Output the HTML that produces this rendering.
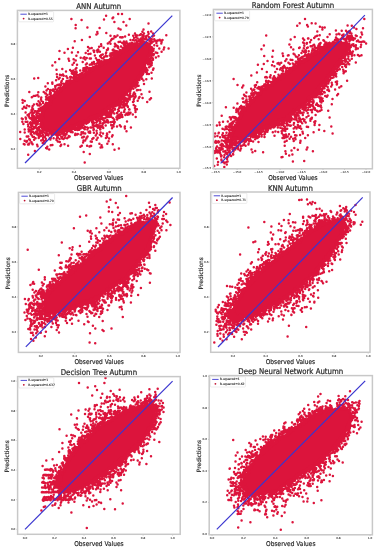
<!DOCTYPE html>
<html><head><meta charset="utf-8"><style>
html,body{margin:0;padding:0;background:#fff;width:379px;height:550px;overflow:hidden}
svg{display:block}
text{font-family:'DejaVu Sans','Liberation Sans',sans-serif;fill:#262626}
.t{font-size:7.0px;text-anchor:middle;stroke:#262626;stroke-width:0.18px}
.ax{font-size:5.9px;text-anchor:middle;stroke:#262626;stroke-width:0.15px}
.ay{font-size:5.9px;text-anchor:middle;stroke:#262626;stroke-width:0.15px}
.xl{font-size:2.8px;text-anchor:middle;fill:#333;stroke:#333;stroke-width:0.08px}
.yl{font-size:2.8px;text-anchor:end;fill:#333;stroke:#333;stroke-width:0.08px}
.lg{font-size:3.05px;fill:#222;stroke:#222;stroke-width:0.1px}
.tk{stroke:#888;stroke-width:0.5}
</style></head><body>
<svg width="379" height="550" viewBox="0 0 379 550" xmlns="http://www.w3.org/2000/svg">
<rect width="379" height="550" fill="#fff"/>
<text transform="translate(98.7 8.9) scale(1 1.15)" class="t">ANN Autumn</text>
<line x1="39.3" y1="168.3" x2="39.3" y2="169.5" class="tk"/>
<text x="39.3" y="172.9" class="xl">0.2</text>
<line x1="74.1" y1="168.3" x2="74.1" y2="169.5" class="tk"/>
<text x="74.1" y="172.9" class="xl">0.4</text>
<line x1="108.9" y1="168.3" x2="108.9" y2="169.5" class="tk"/>
<text x="108.9" y="172.9" class="xl">0.6</text>
<line x1="143.7" y1="168.3" x2="143.7" y2="169.5" class="tk"/>
<text x="143.7" y="172.9" class="xl">0.8</text>
<line x1="178.5" y1="168.3" x2="178.5" y2="169.5" class="tk"/>
<text x="178.5" y="172.9" class="xl">1.0</text>
<line x1="16.2" y1="149" x2="17.4" y2="149" class="tk"/>
<text x="15.2" y="149.9" class="yl">0.2</text>
<line x1="16.2" y1="114" x2="17.4" y2="114" class="tk"/>
<text x="15.2" y="114.9" class="yl">0.4</text>
<line x1="16.2" y1="79" x2="17.4" y2="79" class="tk"/>
<text x="15.2" y="79.9" class="yl">0.6</text>
<line x1="16.2" y1="44" x2="17.4" y2="44" class="tk"/>
<text x="15.2" y="44.9" class="yl">0.8</text>
<text transform="translate(98.7 179.5) scale(1 1.12)" class="ax">Observed Values</text>
<text transform="translate(8.7 90.9) rotate(-90)" class="ay">Predictions</text>
<path d="M149 44.5 145.3 41 144.3 41 139.5 44 131 45 119 51.8 114 55.8 109.8 57.8 107 60.3 103 61.5 101.3 63 99 63.8 96.8 66 91.8 68 85.8 72.5 84 73 81 75.8 78.3 76.5 75.5 78.5 70.3 80.5 68 82.5 65.8 83.3 56 92.3 53 96.3 51.3 97.3 48.3 103.5 42 110 40.5 113 41 117.5 40 123.8 41.3 125.8 41.3 128.8 42.8 130.3 44.8 131 45.8 132.5 47 131.5 48.3 131.5 52.3 133.3 56.3 132.5 59.3 133.8 61.8 133.5 66.5 131.8 68.3 130 71 129.3 73 127.3 76 127 79.3 124.8 85.3 123 91.8 118.3 94 118 99.3 115.5 101.5 115.5 103.3 112.5 107.5 111 111 107.5 113.5 107.8 116 104.5 119 103.8 120 101.8 123.8 98.5 124 97.5 133.3 87.8 134.8 84.8 138.5 80.5 145.5 68.5 146.5 64 148.5 61 149.5 57.5 151 55.3 152 49Z" fill="#dc143c"/>
<path d="M125.9 46.9h0M46.5 104.4h0M108 62.2h0M75.1 134.9h0M37.1 144.7h0M120.1 53.5h0M71.9 52.5h0M71.5 130.4h0M101.8 117.5h0M103.3 58.3h0M66.3 85.9h0M106.4 115.2h0M52 99.8h0M149.6 49.1h0M28.7 116.5h0M118.2 47.3h0M60.4 87.3h0M103 114h0M120 104.9h0M93.5 130h0M37.5 130.8h0M151.8 78.4h0M143.6 37.9h0M154.2 39.2h0M70.8 132.1h0M151.8 39.3h0M42.9 139.4h0M77.8 123.5h0M116.5 45.4h0M51.1 103.3h0M96.6 115h0M69.1 60.8h0M85.4 74.8h0M86.3 123.8h0M42 132.9h0M43 103h0M141.9 75.6h0M50.8 93h0M43.1 117.7h0M52.2 95.9h0M68.3 129.2h0M29 116.6h0M124.6 94.9h0M33.3 117.8h0M97.9 117.8h0M135 97.4h0M125 49.9h0M75.7 76.4h0M49.2 149.6h0M58.7 84.8h0M52.4 145h0M38.7 133.6h0M137.3 41.6h0M24.7 132.6h0M129.1 46.9h0M92.9 138.5h0M39.4 130.5h0M125 105.6h0M83.5 76.6h0M137.6 77.9h0M137.7 77.1h0M134.1 37.8h0M122.2 99h0M93.5 50.5h0M53.7 132.9h0M42 127.4h0M59.5 50.9h0M101.5 117.9h0M68.2 83.9h0M147.6 35.5h0M67.4 83.6h0M150.7 42.4h0M41.3 100.8h0M92.7 124.9h0M124.3 111.1h0M121.5 51.6h0M88.9 122.1h0M97.9 60h0M149.3 40.8h0M124.9 94.7h0M30 123.1h0M57.7 131.4h0M134.6 82.4h0M42.3 126.5h0M122 107.4h0M122.2 97.6h0M36.6 115.9h0M143.1 72.4h0M146.5 61.9h0M135.1 43.4h0M59.6 139h0M93.3 118h0M120.6 99.2h0M31.5 142.2h0M37.2 134.5h0M63.5 134.9h0M110.5 35.7h0M120.2 41.7h0M50.4 139.6h0M114.5 149.8h0M84.5 70.5h0M119.8 51.6h0M40.8 125.9h0M70.5 79.1h0M141 45.7h0M37.6 122.3h0M28.5 129.2h0M130.7 96.6h0M43.9 130.1h0M116.2 56.9h0M106.3 33h0M151 98.3h0M92.1 122.3h0M145.3 69.1h0M122.7 37.3h0M110.8 56.3h0M147.5 70.3h0M130 44.7h0M141.8 41.5h0M111.1 112.7h0M126.8 105.2h0M147.1 62.9h0M120.7 51.9h0M116 103.3h0M123.5 22h0M107.8 43.5h0M34.4 118.1h0M110.2 108.9h0M152.8 50.8h0M74.3 127.5h0M90.7 146h0M112.8 144.2h0M52.3 82.6h0M122.5 101.9h0M134.2 44.3h0M35.9 122.6h0M71.2 70.9h0M97.5 52.1h0M39.8 103.3h0M55.3 87.1h0M84 70.9h0M79.8 78.2h0M101.5 115.7h0M120.5 117h0M95.7 135.5h0M97.1 60.2h0M136.2 83h0M109.7 55.4h0M72.9 47.7h0M84.8 74.9h0M126.4 42.8h0M137.7 100.7h0M97.1 68.3h0M28 136.4h0M100.6 147.5h0M116.3 55.1h0M140.5 41.6h0M69.5 128.7h0M30.3 123.4h0M42.8 116.8h0M90.4 127.4h0M53.6 138.3h0M91.5 127.6h0M136.8 82.7h0M121.2 50.7h0M118.3 111.3h0M56.1 91.8h0M80.5 124h0M124.4 45.7h0M117.9 117.3h0M113.4 121.4h0M138.8 98.2h0M61.7 81h0M31.1 125.2h0M43.4 136.1h0M33.7 127h0M72.3 126.3h0M127.8 114.7h0M126 92.3h0M56.5 69.8h0M146.6 62h0M74 62.8h0M154.3 45.3h0M91.5 68h0M100.3 121.8h0M60.3 85.6h0M142.9 74.3h0M49.7 138.2h0M33.9 112.8h0M63.7 75.7h0M100.6 63.3h0M131.9 85.3h0M65.8 83.5h0M37.9 133.6h0M95.6 119h0M40.4 133.3h0M106.2 113.2h0M86.6 70.9h0M41.9 114.5h0M108.9 108.8h0M155.8 52.6h0M84.4 57.3h0M101.4 55.1h0M107.1 116.9h0M51.3 98.1h0M95.8 117h0M102 58.2h0M68.5 58.7h0M24.7 129.5h0M119.3 114.4h0M147.9 60.1h0M42.6 127.6h0M77.1 134.4h0M139.4 79.9h0M118.9 111.1h0M115.6 51h0M152.5 36.4h0M32.9 122h0M90.2 117.3h0M45.3 93.6h0M134.9 108h0M23.4 124h0M93.3 116.5h0M148.1 57.5h0M134.1 83.4h0M32.7 114h0M133.7 105.1h0M72.4 73.7h0M59 131.3h0M87.2 121.8h0M30.6 112.6h0M132 43.1h0M87.4 73.6h0M74.1 78.2h0M122.4 117.1h0M114.5 51.6h0M117.3 46.6h0M45.4 86.5h0M139.9 34.9h0M98.2 120.4h0M141.3 78.1h0M132.7 45.8h0M77 64.7h0M113.6 55.4h0M42.5 124.9h0M43 111.5h0M60 131.4h0M137.1 42.4h0M79.7 77.2h0M151.3 56.5h0M95 115.6h0M143.5 29.4h0M134.1 83h0M76.7 74.8h0M71.8 128.6h0M141.5 73.9h0M116.5 54.3h0M124.1 107h0M42.1 128h0M141.4 75.9h0M39.2 117.3h0M119.8 125.3h0M41.1 130.4h0M56.1 80.3h0M54 131.6h0M115.6 36.9h0M116.8 103.3h0M148.8 58.9h0M119.8 107.4h0M108 48.5h0M73.6 59.3h0M144.4 63.8h0M151 64.7h0M57.9 93.2h0M82.7 61.9h0M142.5 36.4h0M146.9 39.5h0M90.5 53.7h0M153.5 68.6h0M162.5 40.1h0M29.3 143.4h0M56.3 135h0M36.8 104h0M20.2 132h0M86.4 67.3h0M28.7 131.5h0M130.7 87.9h0M34.2 78.5h0M24.7 140.7h0M51 132.7h0M138.9 78.8h0M150.5 42.8h0M112.6 52.8h0M72.3 125.9h0M87.4 129.5h0M146.3 79.2h0M128 47.7h0M80.3 75.1h0M122.5 49.8h0M49.6 133h0M140.9 42.9h0M91.2 70.9h0M98.6 119h0M31.8 135.3h0M93.2 67.1h0M148.1 57.7h0M110.8 114.4h0M159.7 39.7h0M118.2 109.5h0M33.5 117.5h0M45 137h0M72.6 126.9h0M73.8 77.6h0M100.6 132.5h0M148.9 74.1h0M113.1 107.9h0M48.8 100h0M57.1 132.5h0M46.1 147.9h0M104.3 62.1h0M90.8 119.5h0M131.2 88.2h0M47.6 107h0M106.3 109.1h0M83.1 142.5h0M120.1 100.4h0M109.5 60.4h0M45.2 107.6h0M89.8 117.3h0M75.7 60.6h0M91.5 120.2h0M120.6 29.4h0M64.6 85.3h0M81.5 77h0M41.5 120.8h0M80.3 122.9h0M121.9 37.6h0M98.3 114.9h0M50.5 132.6h0M43.8 136.7h0M112 136.6h0M147.3 57.8h0M61.9 132.4h0M97.6 115.8h0M93.6 129.3h0M112.2 53h0M42.4 124.3h0M72.9 126.4h0M39.9 110.8h0M120.2 37.2h0M91.7 48.1h0M118.3 53.3h0M157.5 40.6h0M98.2 49.4h0M86.8 68.4h0M68.8 135.9h0M81.5 132.3h0M146.9 74h0M67 132h0M30.8 134h0M92.6 120.1h0M54.2 130.8h0M89.8 154h0M98.2 50.2h0M144.6 63.2h0M41.2 120.1h0M45.3 133.6h0M59.7 77.7h0M114.4 36.3h0M55.2 62.2h0M112.4 125.5h0M120.3 117.5h0M85.2 140.5h0M126 98.4h0M32 119.7h0M93.1 116.8h0M42.8 134.6h0M140.1 45.9h0M114.7 121.9h0M43.3 129.3h0M55.5 94.9h0M42.7 110.3h0M33.9 104.4h0M54.4 91.4h0M114.6 51.7h0M83.7 152h0M115.6 44.7h0M68.5 130.2h0M56.8 74.2h0M62.8 132.3h0M85.9 64.6h0M49.9 94.2h0M90.9 68.6h0M145.5 68.3h0M99.2 59.9h0M117.5 35.4h0M109.4 60h0M59.2 91.6h0M108.7 115.6h0M40.6 116.5h0M152.3 51.1h0M86.7 57.9h0M62.1 133.5h0M74.9 72.2h0M62.6 87.9h0M71.1 125.8h0M93.6 126h0M102.2 110.5h0M84.4 120.9h0M130.9 127.5h0M141.5 94.3h0M47.9 106.2h0M85.7 72.5h0M109.8 111.8h0M136.3 84.9h0M42.1 125.3h0M112.6 57.7h0M150.1 44h0M42.6 131.1h0M144.9 43.5h0M55.6 95.7h0M153.4 41.6h0M107.3 120.1h0M56.5 139.1h0M137.5 82.5h0M106.5 60.4h0M105.8 62.9h0M105.8 110h0M141 34.3h0M102.6 63.7h0M149.3 52.2h0M81.2 134.4h0M25.6 121.8h0M149 62.9h0M151.1 39.9h0M61.6 131h0M74.1 76h0M39 117.8h0M75.5 129.8h0M85.3 68.3h0M47.8 104.8h0M148.2 32h0M140.7 74.1h0M39.8 103h0M88.1 120.5h0M51.3 98.6h0M105.1 109.7h0M53.7 95h0M74.7 41.2h0M104.2 110h0M130.3 87.7h0M151.2 50.2h0M150.7 60.5h0M66.5 84h0M140.3 42.7h0M37 117.8h0M59.1 134.9h0M153 59.7h0M50.5 97.8h0M29.1 139.2h0M150.4 65h0M84.6 120.8h0M83.1 132.2h0M96.4 126.3h0M142.6 98.1h0M85.3 126.9h0M108.9 106.6h0M161.6 41.9h0M55.8 133.9h0M44.6 132.3h0M104.7 109.8h0M127.5 100.4h0M57.6 94.1h0M52.4 83.8h0M149.7 99.6h0M62.3 68.9h0M109.2 114.4h0M20.3 139.1h0M39.7 117.3h0M34.6 117.5h0M39.3 133.3h0M85.6 121.6h0M91.6 69.7h0M40.8 109.4h0M146.9 69.4h0M131.6 42.9h0M151.8 63.1h0M71 129.6h0M127.8 49.3h0M110.8 116.8h0M42.8 134.4h0M57.4 92.6h0M129.5 109.5h0M119.7 50.3h0M102.3 113h0M80.6 75.1h0M115.6 106.3h0M133.6 44.2h0M105.9 53.6h0M65 130.4h0M37.8 122.2h0M128.9 34.7h0M98 126.7h0M119.7 53.4h0M67.3 81.6h0M101 114.4h0M50.4 101.7h0M33.2 129h0M121.8 98h0M50.5 103.1h0M100.1 126.1h0M61 88.8h0M32.1 124.2h0M88.9 70h0M57.1 94h0M81.3 127.1h0M50.7 145.3h0M129.5 44.2h0M41 135.9h0M44.6 106.1h0M149.9 54.1h0M46.2 134.9h0M51.4 101.8h0M29.7 117.9h0M46.5 90.6h0M106.9 50h0M71.7 128.8h0M97 66.5h0M41.5 120.5h0M111.4 125.5h0M36.9 123h0M115.8 56.2h0M118.4 102.6h0M110.6 122.2h0M102.2 115.4h0M69.9 82.8h0M30.4 127.2h0M126.6 47.5h0M102.8 119.5h0M90 131.6h0M117.5 46.1h0M130.9 89.6h0M111.1 40.2h0M97.8 125.2h0M116.4 56.2h0M34.8 117.9h0M120 53.9h0M58.7 134h0M107.3 143.7h0M46.3 107.4h0M135.7 35.1h0M96.6 115.2h0M125.9 93h0M94.5 64.1h0M105.6 121.4h0M47.9 89h0M91.1 146h0M85.9 122.2h0M89.6 68h0M92 68.3h0M102.2 125.7h0M47.2 104.7h0M39.2 129.6h0M137.5 42.8h0M113.5 38.5h0M86.7 137.6h0M104.3 122.1h0M78.5 129.1h0M44.4 143.4h0M111.8 57.4h0M96.9 121.8h0M76.3 71.3h0M90.7 141.6h0M124.4 43.3h0M116.4 54h0M101.1 44.3h0M41.6 120h0M106.1 15.7h0M48.4 135.4h0M143.3 68.4h0M125.3 44.6h0M101.3 136.3h0M121.5 101.1h0M151.4 43.1h0M42.2 123.3h0M29.2 106.2h0M135.6 80.7h0M51.2 96.9h0M146.5 44.4h0M149 44.8h0M126.2 48.6h0M57.9 133.4h0M92.8 121.8h0M47 106.4h0M114.9 109.1h0M145 39.2h0M146.7 60.9h0M98.8 62h0M41.9 117h0M108.2 116.8h0M27 105.6h0M139.1 77h0M45 108.4h0M52.6 89.8h0M74.7 72.6h0M141.6 78.7h0M37.8 124.1h0M55.5 86.4h0M54.4 97.4h0M117.8 105.2h0M91.8 141.7h0M127.5 95.2h0M58.6 134.6h0M127 94.1h0M141.1 71.8h0M67.9 130.2h0M55.5 88.8h0M109.2 112.4h0M54.6 92h0M116.5 55.8h0M47 148.4h0M133.1 83.6h0M64.7 84.5h0M129.7 19h0M147.1 61.3h0M40.3 125.9h0M43.9 141.1h0M93.3 63h0M56 95.5h0M140.2 72.9h0M152.9 59.2h0M89.3 71.7h0M96.6 139.7h0M60.2 89.3h0M105.2 61h0M80.6 122.3h0M101.4 64.4h0M104 19.4h0M78 52.2h0M137.9 85.7h0M140.9 38.4h0M118.9 116h0M111.2 125.1h0M37.6 112.3h0M76.4 55.8h0M114.3 122.6h0M94.1 52h0M49.2 102.3h0M147.5 60.4h0M102.7 124.2h0M42.3 112.1h0M56.5 140h0M50.4 133.6h0M90.9 58.5h0M119.9 50.1h0M88.4 71.8h0M36.9 128.7h0M148.5 58.9h0M142.1 78.4h0M136.7 45.3h0M114.1 57.8h0M112.8 117.9h0M149.3 53.1h0M69.7 136.5h0M100.2 129.5h0M96.8 65.9h0M114.7 57.1h0M80.6 73.8h0M126.4 113.5h0M71.4 128.2h0M146.3 67.9h0M62.1 138.5h0M151.2 64.9h0M97.7 137.8h0M114.3 113.6h0M103.2 118.3h0M91 117h0M135.3 106.2h0M60.1 88h0M68.9 84.3h0M70.1 70.1h0M67.9 84.1h0M54.6 96.8h0M32.9 131.7h0M69.6 83h0M145.9 70.3h0M49 98.9h0M117.4 102.1h0M120.9 126.4h0M135.4 84.4h0M129.2 45.7h0M46.8 133.2h0M122.8 95.6h0M131.2 44.6h0M45.6 106.4h0M111.9 39.1h0M115.1 56.4h0M109.7 109h0M148.6 33.8h0M37.9 128h0M69.4 81.6h0M124.5 96.9h0M149.5 91.7h0M106.1 56.3h0M36.6 113.1h0M141.2 73.3h0M126.3 92.3h0M36.3 125.3h0M69 130.3h0M45.9 93.6h0M110.7 105.4h0M63.1 88.3h0M105.7 125.4h0M125 104.6h0M66.9 84.4h0M124.2 105.2h0M87.3 67.3h0M67.1 83.7h0M79.6 123.3h0M133 101.9h0M42.9 108.8h0M146.1 36.2h0M39.5 121.1h0M129.4 114.2h0M85.3 59.5h0M38.2 130h0M149.4 46h0M105.2 118.2h0M47.6 104.1h0M37.8 128.5h0M116.5 56.7h0M47.3 129.3h0M126 94.4h0M118.4 105.5h0M134.6 86h0M142.6 72.6h0M87.6 136.4h0M92.3 138.9h0M42.5 107h0M78.8 127h0M113.9 108.2h0M151.4 60.8h0M145.1 68.8h0M98.8 118.2h0M35.5 95.7h0M124.9 126.5h0M83.9 136.8h0M46.5 105.9h0M127.5 99.9h0M67.4 77.9h0M106.1 60.3h0M76.4 124.6h0M39.6 136.5h0M89.7 64.8h0M122.7 96h0M112.6 111.7h0M71.6 81.7h0M96.8 120.6h0M75.6 80.7h0M28.2 154.8h0M133.2 35.7h0M109.5 132.1h0M136.7 42.8h0M30.1 127.2h0M104.3 114.5h0M142.7 68.4h0M45.2 104.6h0M147.5 57.5h0M149.2 59.5h0M126.8 49.9h0M89.8 132.7h0M149.6 61.2h0M51.2 132.9h0M84 74.5h0M135 33.4h0M99.7 115.3h0M147.5 43.1h0M140.2 45.3h0M111.6 58.3h0M97.6 66.3h0M39 117h0M113.7 58.2h0M37.9 110.9h0M102.9 62.7h0M45 104.6h0M70.2 77h0M149.5 61.1h0M110.5 43.7h0M93.9 116.1h0M123.1 52h0M97.9 62.3h0M73 81.3h0M22.7 102.7h0M24.3 144.3h0M94.9 55.5h0M81.5 126.5h0M151.2 55.6h0M47.1 131.4h0M74.9 126.2h0M43.1 111.6h0M94.4 125.8h0M112.2 110h0M81.9 124.7h0M123.2 104.9h0M151.5 49.2h0M150.1 59.2h0M117 105.2h0M27.4 121.8h0M111.1 116.5h0M103 110.8h0M97.9 127.7h0M113.4 49.5h0M119.5 100.8h0M96.5 122.6h0M96.3 68h0M122.2 51.4h0M96.4 124.9h0M161.3 43.6h0M34.1 139.8h0M147.2 102.1h0M105.8 61.4h0M121.4 100.9h0M104.2 112.1h0M88.2 119.1h0M47.5 104.7h0M150.1 45.9h0M112 128.2h0M57.2 131.7h0M90.8 116.7h0M40.9 104.4h0M121.8 99.8h0M143.7 35.9h0M92.8 121.4h0M89.6 120.8h0M84.1 127.7h0M115.3 104.2h0M70.3 81.1h0M40 132.7h0M81.8 145.8h0M134.6 40.4h0M102.9 64.4h0M133.4 84.6h0M83.5 140.4h0M52.3 99h0M49 100.1h0M147 60.3h0M125.8 104.5h0M37.2 120.9h0M152.1 55.2h0M49 99.1h0M117 113.1h0M119 101.3h0M29.7 139.4h0M99.7 123.6h0M40.4 110.6h0M71 77h0M86.1 70h0M151.2 31.6h0M105.2 112.2h0M73.4 70.4h0M65.3 134.3h0M155.6 40.8h0M83 132.6h0M99.5 66h0M126.3 99.2h0M106.6 116.3h0M122.2 102.4h0M118.4 51.9h0M122.5 52.4h0M77.3 75.1h0M116.3 102.3h0M23.8 144h0M22.7 119h0M136.9 90.3h0M99.5 66.6h0M147.6 46.8h0M118.5 28.6h0M147.9 56h0M124.1 42.2h0M79.1 75.2h0M33.1 120.3h0M77.8 133.9h0M71.4 19.1h0M121.3 98.7h0M97 121h0M110.4 53.5h0M30.5 130.8h0M124.6 47.1h0M32.9 122.4h0M148.6 43.9h0M95.9 67.8h0M166.3 35.3h0M92.3 118.1h0M142.2 75.1h0M43.3 117.5h0M100.6 127.4h0M35.7 132.2h0M128.2 98.4h0M109.7 109.6h0M93.9 132.7h0M66.4 83.8h0M112.8 106.1h0M98.4 63.5h0M114.3 119.6h0M151.6 43.1h0M130.1 93.5h0M55.6 89.1h0M110.4 58.7h0M60.9 85.1h0M153.4 50.7h0M121.4 50.9h0M82.8 127.8h0M81.8 74h0M109 117h0M142.1 39.3h0M103.7 111.1h0M119.2 107.9h0M105.9 115h0M120.5 103.4h0M123.5 106.9h0M69 127.9h0M71.6 126.5h0M116.1 54.6h0M96.8 133.4h0M127.5 95.1h0M35.6 138.2h0M109 114.5h0M104.7 63.1h0M60.9 89.3h0M168.6 48.5h0M34.9 117.4h0M37.2 133.9h0M83.6 124.9h0M129.5 98.4h0M48.9 131.2h0M80.5 76.6h0M102.2 147.2h0M111.1 114.6h0M80.6 134.5h0M89.8 37h0M106.8 111.6h0M114.1 123.5h0M112.9 112.6h0M106.3 113.7h0M40 114.4h0M134.7 81.8h0M103 133.4h0M114.7 56.3h0M49 97.2h0M112.9 53.2h0M89.3 121.3h0M132.8 114.5h0M148.4 45.1h0M43.1 114.7h0M91 120.3h0M93.3 119.4h0M142 43.6h0M135.1 84.6h0M161.6 51.8h0M52.8 131.9h0M68.7 80.8h0M32.6 106.2h0M122.7 48h0M84.7 162.6h0M33.7 95.9h0M100 63.9h0M37.6 116h0M124.8 109.2h0M153.5 55.2h0M74.3 125.7h0M32.5 112.8h0M76.7 72.6h0M116.9 51.2h0M38.9 136.7h0M135.7 117.1h0M151.7 64.9h0M71.8 125.5h0M62 137.1h0M137.3 86.1h0M99.4 127.5h0M77.3 80h0M99.7 62.9h0M87.5 71.8h0M90.4 64.6h0M39.1 110.2h0M59.9 84.5h0M21.8 118.5h0M147.7 59.2h0M84.9 67.9h0M35.4 127.4h0M52.4 65.5h0M38.6 96.6h0M107 56.2h0M46.1 102.7h0M133.7 101.3h0M110.5 108h0M146 72h0M137.6 38.4h0M45.8 140.5h0M108.6 141.3h0M49.7 102.5h0M55.2 85.9h0M103.7 47.7h0M92.1 62.8h0M104.2 109.8h0M103.4 113.3h0M118.3 109.7h0M129.7 99.5h0M72.9 77.5h0M33.8 120.1h0M81.9 40.1h0M144 70.8h0M41 99.2h0M140.4 74.8h0M142.4 71.2h0M96.6 130.8h0M38.6 117.3h0M68.1 145.8h0M35.8 131.7h0M71.6 81.2h0M99.4 143.7h0M130.5 112.7h0M123.1 95.5h0M39.6 119.6h0M29.1 114.2h0M126.5 131.3h0M131.5 96.6h0M66.4 128.9h0M47.9 97.8h0M26.2 107.9h0M81.5 77.5h0M149.3 47.1h0M61.1 88.8h0M153.7 48.7h0M115 55.8h0M120 98.6h0M31.4 129.4h0M140.9 43.8h0M107 133.6h0M36.8 115.5h0M143.5 80.6h0M107.2 108.5h0M130 95.8h0M135.5 112.1h0M125.4 46.8h0M38.2 77.9h0M124.7 126.9h0M113.3 125.1h0M31.9 110.4h0M85.2 69.9h0M43 127.7h0M127.2 45.7h0M83.8 123.6h0M75.4 133.7h0M94.4 66.8h0M118.9 118.1h0M69.4 83.9h0M34.7 120.9h0M37 131.4h0M42.7 108.7h0M74.4 76.1h0M88.7 119.4h0M37.6 146.3h0M108.1 122.5h0M28 124.4h0M61.2 144.8h0M84.8 129.3h0M90.2 132.8h0M128.1 48h0M24.1 106.8h0M49.8 97.5h0M31.4 131.8h0M41.8 118.7h0M47.2 106.9h0M156.4 43h0M55.8 131.4h0M150.5 51.7h0M96.7 63.8h0M115.1 109.5h0M123.9 44.8h0M37.8 127.9h0M149.2 54.8h0M116.5 117.3h0M57.5 92.7h0M134.2 92.4h0M117.5 115.5h0M163.6 49.5h0M129.1 109.6h0M58.7 79.1h0M41.5 109.5h0M22.3 121.7h0M25.3 107.7h0M88.3 71.8h0M31.8 97.3h0M69.9 129h0M122 13.9h0M111.8 54.7h0M114.9 43.7h0M133.6 93.6h0M64.5 52.8h0M47.5 103.2h0M57.8 141.4h0M143.5 41.6h0M45.9 105.5h0M40.6 107.7h0M134.5 96.6h0M150.2 58.7h0M114.5 53.4h0M38.7 108.9h0M48.4 134.2h0M150.6 49.5h0M83.3 75.6h0M95.9 58.3h0M149.5 49.3h0M72.6 125.7h0M43.6 128.9h0M151.4 61.2h0M96.3 116h0M90.3 120.3h0M42.1 109.7h0M77.1 78.8h0M122.8 50.6h0M38.3 92.3h0M31.9 117.4h0M102.8 54.6h0M108 113h0M104.8 122.6h0M61.2 136.8h0M64.8 138h0M141.6 40.1h0M109.6 42h0M100.4 63.5h0M25.6 117.4h0M47.3 146.8h0M92.9 122.4h0M144 33.6h0M115.4 104.3h0M25.8 117.9h0M112.7 109.3h0M87.9 50.7h0M151.9 53.7h0M121.6 97.8h0M73.2 74.1h0M126.8 103.5h0M50.8 137.9h0M149 55.1h0M96.9 133.3h0M89.7 58.6h0M99 116h0M139.5 44h0M108 107.3h0M63.6 83.7h0M80.5 76.6h0M42.5 115.1h0M31.6 123.5h0M102.1 65.1h0M63.4 87.1h0M24.7 100.9h0M116.1 51.4h0M76.8 79.8h0M61.2 90.4h0M152.9 58.4h0M63.1 130.3h0M122.3 42.9h0M137.9 90h0M96.9 117.2h0M43 107.3h0M122.1 115.1h0M150.7 50.1h0M40.8 127.1h0M103.5 111.9h0M57.3 85.1h0M83.2 121.4h0M125.5 43.7h0M125.4 115h0M112.2 53.2h0M125.4 98.1h0M62.2 131.6h0M112.6 135.3h0M101.3 46h0M72.6 132.2h0M115.7 56.2h0M39.1 119.5h0M106.2 52.5h0M91.5 117.4h0M146.5 43h0M123.9 41.5h0M112.7 49.9h0M46.6 98.4h0M107.9 62.1h0M69.1 130.9h0M150.3 51.3h0M32.3 107.9h0M134.1 84.8h0M129.1 47.6h0M110.5 110.4h0M107.8 121.7h0M138.4 79.5h0M39.9 135.6h0M72.5 64.8h0M97.8 67.9h0M34.9 150.9h0M119.3 53.9h0M153 33.4h0M111 56.7h0M141.9 71.8h0M115.1 53.1h0M131.9 42.7h0M65.6 129.6h0M95.1 117.3h0M70.3 129.5h0M75.5 77.2h0M73.4 127.7h0M38.9 127.2h0M127.2 43.3h0M39.2 105.5h0M43 101.9h0M105.6 117.7h0M117.4 53.3h0M134.3 44.7h0M47 129.8h0M82.1 137.5h0M94.7 119.1h0M119 103.9h0M96.1 66h0M62.9 79h0M41.4 118.7h0M93 124.1h0M80.6 128.4h0M93.8 117.6h0M54.5 132.5h0M42.5 124.5h0M120.2 103.2h0M113.3 104.8h0M126.3 25.6h0M76.5 78.6h0M51.7 135.4h0M59.8 141.9h0M32.1 125.7h0M113.1 108.1h0M64.4 86.5h0M152.9 54.3h0M100.1 56h0M164.2 47.5h0M98.9 63.9h0M146.4 61h0M86.8 121h0M79.4 74.8h0M77.6 125.3h0M124.9 128.5h0M86.9 63.5h0M99.2 63.8h0M88.8 132.6h0M148.2 57h0M100.8 57.1h0M93 68.9h0M140.3 77.3h0M44 110.7h0M141.4 40.8h0M113.6 126.5h0M141.2 43.5h0M37.8 113.2h0M104.4 60.5h0M151.5 72.7h0M75 125.1h0M124.2 48.9h0M47.4 94.9h0M148.1 46.4h0M63.6 134.6h0M88.3 73.2h0M83.6 133.3h0M133.3 88.8h0M33.9 133.1h0M33.9 118h0M105.1 114.4h0M47.8 105.9h0M38.5 135.5h0M86.4 138.5h0M135.5 96h0M38.5 101.3h0M136.2 46.2h0M25.6 112.4h0M39.2 116.2h0M135.5 87.5h0M97 50.5h0M125.1 36.6h0M103.2 122.9h0M133.2 86h0M37.1 104.3h0M64.4 133.2h0M50 91.7h0M89.2 120.5h0M113.1 110.9h0M72.4 128h0M42.8 127h0M84.2 76.3h0M40 132.5h0M66.6 134.1h0M113.2 50h0M131 46.9h0M28.8 144.6h0M64.8 129.8h0M114.8 51.1h0M102.6 126.8h0M27.1 141.1h0M150.2 53.1h0M110.9 56.3h0M27.6 115.1h0M122.4 50.8h0M101.2 117.8h0M129.7 43.5h0M85.7 52.9h0M106.6 135.8h0M140.3 45.7h0M66.3 76.3h0M151.2 41.8h0M97.5 33.5h0M49.9 96.9h0M60.5 145.9h0M80 125.1h0M102.5 113.2h0M157.2 45.8h0M31.7 110h0M89.2 72.9h0M120.7 114.7h0M107.6 60.3h0M50.8 95h0M144 84.1h0M76.2 129.6h0M75.9 79.6h0M28.2 126.6h0M107 121.2h0M33.1 109.3h0M73.9 79.5h0M76.6 128.4h0M127.8 101.4h0M136.9 109.2h0M59.9 74.8h0M94.8 68h0M81.9 122.3h0M155.9 57.6h0M62.9 74.4h0M93.8 129.3h0M89.3 119.8h0M117 126.4h0M79.2 129.8h0M74.3 125.1h0M45.9 105.2h0M41.2 140.6h0M67.7 128.3h0M31.9 111h0M41.2 131.3h0M112.5 18.3h0M74.8 126h0M57.1 90.6h0M83.2 70.2h0M49.7 99.3h0M74.7 127.3h0M70.2 82.5h0M114.2 53.9h0M82.4 72.8h0M148.5 23.6h0M42.9 126.4h0M120.1 106.3h0M42.7 142.9h0M30 140.3h0M133.3 46.3h0M22.6 108.7h0M151.2 57.8h0M60 88.7h0M75.2 78.5h0M46.3 108h0M151.8 41.6h0M128.1 49.1h0M87.4 27.5h0M93.8 129.6h0M135.4 109.9h0M37 124.3h0M132.3 45.7h0M42.5 112.4h0M36.3 114.8h0M141.6 38.2h0M35.7 126.6h0M37.2 134.5h0M67.3 128.5h0M153.9 54.3h0M112.7 105.7h0M144.2 64.8h0M100 116.3h0M65.1 85.7h0M101.6 116.5h0M32.6 144.2h0M61.2 82.2h0M96.4 34.6h0M35.3 123.4h0M143.5 68.6h0M92.2 119.2h0M113.1 54.4h0M120.3 114.5h0M94.3 122.7h0M104.5 60.2h0M157.4 40.7h0M84.5 129.3h0M150.2 53h0M32.5 115.1h0M114.8 46.4h0M32 115.3h0M38.8 128.8h0M91 64.3h0M160.5 40.6h0M63.5 139h0M117.1 56.4h0M43.7 91.9h0M24.6 144.5h0M133.1 39.9h0M87.8 122.8h0M53.7 134.6h0M137.7 82.8h0M153 59.7h0M28.3 136.5h0M75.6 28.2h0M151.2 57.2h0M46 99.6h0M57.3 131.7h0M88.7 68.9h0M77.3 78.2h0M153 69.8h0M127 121.4h0M50.6 102.2h0M47.8 83.2h0M151.6 62h0M112.5 121.8h0M48.1 130.9h0M99.7 61.3h0M34.1 133.4h0M128.5 112.6h0M141.2 45.8h0M140.3 44.9h0M50.5 104.3h0M47.8 99.4h0M134.2 43.6h0M132.4 46.4h0M43 128.7h0M102.3 110.7h0M144.8 64.5h0M94.2 50.7h0M98.5 115.2h0M70.6 126.5h0M75.7 25h0M50.3 94.7h0M40.5 109.6h0M73.6 125.9h0M117.8 47.2h0M105.5 56.1h0M99.1 115.5h0M34.2 128.2h0M152.2 53.1h0M129.3 96.2h0M137.1 80.9h0M72.4 127.1h0M32.8 128.8h0M116.7 102.9h0M28 144.4h0M139.1 80h0M79.4 76.3h0M68.5 137.3h0M43.5 106.6h0M148.2 64.4h0M92.7 123.4h0M106.5 122h0M141.3 45.1h0M91.9 118.8h0M130 97.7h0M48.1 97.9h0M65.4 129.5h0M38.9 118.9h0M53.6 134.5h0M54.4 131.1h0M64.7 87.7h0M124.5 99.2h0M102.7 114.2h0M99.9 51.7h0M108.4 109.3h0M30.8 133.3h0M111.4 57.2h0M71.8 73.2h0M103.5 111.6h0M93.8 117.8h0M61.6 83.5h0M34 116.2h0M64.3 84.9h0M62.9 86.8h0M35.7 111.3h0M127.5 106h0M117.9 46.7h0M65.3 135.7h0M37 131.9h0M61.4 131.2h0M26.5 142.1h0M100.5 64.4h0M29.2 130.1h0M142.8 40.8h0M122.1 37.3h0M83.6 57.9h0M80.7 57.7h0M87.9 128h0M150.5 66.3h0M32.7 136.7h0M104 57.3h0M99.6 63.8h0M90.5 116.8h0M149.7 46.5h0M64.5 144.2h0M148.7 59.3h0M135.8 40.2h0M117.1 119.5h0M105.3 111.2h0M50.8 90.6h0M66 71.5h0M49.8 100.8h0M97.3 32.1h0M41.3 97.6h0M110.1 59.9h0M60.4 91.2h0M46 96.8h0M73.5 78.7h0M51.8 134.3h0M88.6 131.9h0M149.3 62.5h0M55.6 131.8h0M89.5 146.6h0M66.6 81h0M158.8 40.2h0M42.4 124.9h0M62.1 88.9h0M47.4 134.6h0M81.6 20.1h0M72.8 127.7h0M132.9 95.3h0M73.8 79.3h0M93.4 123.5h0M83.4 58.2h0M66.3 82.2h0M143.6 72.8h0M139.5 97h0M109.5 114.7h0M68.7 130.5h0M151.8 47.3h0M147.9 62.8h0M29.3 92h0M99.8 134.8h0M42.4 130.7h0M52.3 82.8h0M89.6 48.5h0M83.4 68.2h0M140.3 90h0M142.6 70.8h0M57 93.8h0M55.1 134h0M80.4 146.8h0M105.9 138h0M96.7 118h0M123.2 51.9h0M31.1 127.1h0M41.8 123.8h0M127 101.2h0M100.6 126.5h0M124.4 103.5h0M32.2 143.8h0M108.4 112.6h0M138.6 85.8h0M26.7 136.5h0M74.8 129.7h0M99.1 46.7h0M85.8 122.3h0M133.6 96.5h0M118.9 148.6h0M51.7 131.7h0M59.2 59.1h0M53 90.7h0M106.7 114.2h0M42.9 110.7h0M67.8 130.4h0M73 128.8h0M85 121.5h0M85.2 133.4h0M135.1 94.1h0M43.1 137.7h0M118.6 42.1h0M40.4 124h0M105 111.1h0M114.3 51.9h0M135.6 96.6h0M113.2 17.6h0M141.3 71.4h0M107.2 134.5h0M36.5 134h0M41 121.8h0M33.5 118.9h0M60.4 134.6h0M145.3 68.6h0M149.1 67.2h0M144 43.7h0M148.3 43.4h0M116.5 103.6h0M127.9 106.9h0M103.7 62h0M85.3 121.2h0M136.5 80.4h0M144.8 63.5h0M38.7 137.9h0M130.5 40h0M67.9 49h0M137.1 85.1h0M40.3 118.4h0M130.2 91.8h0M71 131h0M39.5 114.3h0M109 109.2h0M76.4 67.9h0M65.9 130.1h0M146.1 61h0M77.6 130h0M57.2 137.2h0M91.7 116.7h0M31.5 110.3h0M126.5 100.5h0M58.8 87.7h0M34 137h0M112.9 108.7h0M136 37.2h0M92.1 64.5h0M142.6 40.4h0M67.1 138.3h0M103.6 61.5h0M39.4 113.7h0M114.5 105.7h0M45.8 138.8h0M108 121.2h0M133.8 99.3h0M97.3 126.8h0M88 46.9h0M126.4 47.4h0M133 43.9h0M138.5 76h0M50.2 90.1h0M30 130.3h0M37.8 105.2h0M133.8 46.9h0M53.7 89.4h0M103.2 128h0M146.1 37.7h0M118.8 104.9h0M114.4 21.9h0M130.3 91.1h0M151.8 51.2h0M54.6 93.8h0M141.5 73.4h0M57.8 137.6h0M137 44.5h0M30.6 122.2h0M112.4 106.6h0M92.2 70.4h0M147.1 59.8h0M154 35.5h0M31 125h0M94.9 118.5h0M37.5 95.1h0M92.2 118.8h0M149.9 58.5h0M127.4 48.9h0M151.7 58h0M114.3 103.2h0M33.5 122.3h0M50.1 103h0M83.9 123.5h0M129.3 45.5h0M73.9 77.1h0M109.3 61.4h0M87.4 127.4h0M104.8 112.8h0M123.8 97.5h0M146.8 72.6h0M107.1 136.9h0M112.6 111.2h0M142.4 35.1h0M91.5 119.3h0M33.6 123.2h0M34.7 111.3h0M129.5 95.3h0M32.2 125.4h0M158.5 56.2h0M106.2 111.3h0M53.8 95.4h0M138.6 41.1h0M72.4 72.8h0M150.2 38.7h0M95.7 119.8h0M57.6 91.4h0M144 38.5h0M107.9 49.5h0M75 78.7h0M64.3 131.6h0M83.3 137.3h0M110.6 114h0M100.4 129.3h0M42.1 113.3h0M84.3 71.5h0M144.6 66h0M104.2 112.7h0M75.6 68.9h0M139.4 76.8h0M135.2 82.7h0M113.9 54h0M105.9 112h0M43.6 112.4h0M93 70.1h0M40.4 116.9h0M35.1 121.8h0M149 37.2h0M43 131.9h0M110.7 111.2h0M120.2 102.3h0M77.5 77.4h0M129.2 90.7h0M87.1 145.8h0M49.8 99.2h0M126.2 94.3h0M30.4 118.5h0M80.2 70.6h0M100.8 63.9h0M149.2 55h0M26 118.8h0M78.7 123.1h0M49.8 93.4h0M159.3 48.6h0M121 46.4h0M118.2 48.1h0M149.5 37.9h0M124.1 112h0M100.5 119.3h0M139.5 39.7h0M142.4 31.8h0M54.4 131.8h0M81.9 75.2h0M149.3 63.2h0M145.5 61.9h0M100.5 123.1h0M116.4 57.1h0M126.4 41.6h0M99.6 28.1h0M118.2 14.1h0M60.9 88.1h0M120 101.4h0M75.8 125.6h0M109.4 109.2h0M57.4 135.4h0M93.9 62.1h0M119.1 100.3h0M83.9 75.5h0M88.4 53.9h0M58.3 88.6h0M80 126.4h0M41 130.7h0M148 64.3h0M93.4 127.4h0M128.2 44.3h0M57.5 132.6h0M82 73.3h0M116 54.7h0M40.3 124.1h0M101.6 61.3h0M38.3 110.9h0M64.1 135.4h0M82.5 125.4h0M113.9 55.1h0M114.3 103.2h0M133.1 47h0M124 100.4h0M36 119.3h0M93.5 138.1h0M150.1 49h0M109.1 138.4h0M22.5 100.1h0M109.6 60.9h0M45.8 105h0M121.3 112.8h0M133.3 83.7h0M124.5 101.8h0M77.9 127.3h0M75.6 74h0M132.3 84.6h0M126.7 92.8h0M56.5 131.2h0M157.3 53.1h0M150.6 51.7h0M98.6 119.9h0M137.5 35.6h0M49.7 104.4h0M151.3 64.1h0M101.6 145.2h0M38.5 135.4h0M57.1 77.1h0M121.5 104.4h0M61.5 75.2h0M75.3 127.5h0M113.8 103.5h0M103.9 120.6h0M150.6 39h0" stroke="#dc143c" stroke-width="2.50" stroke-linecap="round" fill="none"/>
<line x1="25" y1="163" x2="172.3" y2="15.6" stroke="#3a35d0" stroke-width="1.2"/>
<rect x="18.6" y="11.6" width="35" height="10.2" rx="0.8" fill="#fff" fill-opacity="0.8" stroke="#d8d8d8" stroke-width="0.5"/>
<line x1="20.4" y1="14.2" x2="26.8" y2="14.2" stroke="#3a35d0" stroke-width="0.9"/>
<circle cx="23.6" cy="18.6" r="0.9" fill="#c0102e"/>
<text x="28" y="15.2" class="lg">R-squared=1</text>
<text x="28" y="19.6" class="lg">R-squared=0.55</text>
<rect x="17.4" y="10.4" width="162.5" height="157.9" fill="none" stroke="#c8c8c8" stroke-width="1.5"/>
<text transform="translate(292.9 7.9) scale(1 1.15)" class="t">Random Forest Autumn</text>
<line x1="215.6" y1="168.8" x2="215.6" y2="170" class="tk"/>
<text x="215.6" y="173.4" class="xl">−15.5</text>
<line x1="237.1" y1="168.8" x2="237.1" y2="170" class="tk"/>
<text x="237.1" y="173.4" class="xl">−15.0</text>
<line x1="258.6" y1="168.8" x2="258.6" y2="170" class="tk"/>
<text x="258.6" y="173.4" class="xl">−14.5</text>
<line x1="280.1" y1="168.8" x2="280.1" y2="170" class="tk"/>
<text x="280.1" y="173.4" class="xl">−14.0</text>
<line x1="301.6" y1="168.8" x2="301.6" y2="170" class="tk"/>
<text x="301.6" y="173.4" class="xl">−13.5</text>
<line x1="323" y1="168.8" x2="323" y2="170" class="tk"/>
<text x="323" y="173.4" class="xl">−13.0</text>
<line x1="344.5" y1="168.8" x2="344.5" y2="170" class="tk"/>
<text x="344.5" y="173.4" class="xl">−12.5</text>
<line x1="366" y1="168.8" x2="366" y2="170" class="tk"/>
<text x="366" y="173.4" class="xl">−12.0</text>
<line x1="212.2" y1="15" x2="213.4" y2="15" class="tk"/>
<text x="211.2" y="15.9" class="yl">−12.0</text>
<line x1="212.2" y1="36.9" x2="213.4" y2="36.9" class="tk"/>
<text x="211.2" y="37.8" class="yl">−12.5</text>
<line x1="212.2" y1="58.9" x2="213.4" y2="58.9" class="tk"/>
<text x="211.2" y="59.8" class="yl">−13.0</text>
<line x1="212.2" y1="80.8" x2="213.4" y2="80.8" class="tk"/>
<text x="211.2" y="81.7" class="yl">−13.5</text>
<line x1="212.2" y1="102.7" x2="213.4" y2="102.7" class="tk"/>
<text x="211.2" y="103.6" class="yl">−14.0</text>
<line x1="212.2" y1="124.7" x2="213.4" y2="124.7" class="tk"/>
<text x="211.2" y="125.6" class="yl">−14.5</text>
<line x1="212.2" y1="146.6" x2="213.4" y2="146.6" class="tk"/>
<text x="211.2" y="147.5" class="yl">−15.0</text>
<line x1="212.2" y1="168.5" x2="213.4" y2="168.5" class="tk"/>
<text x="211.2" y="169.4" class="yl">−15.5</text>
<text transform="translate(292.9 180) scale(1 1.12)" class="ax">Observed Values</text>
<text transform="translate(200.9 90.5) rotate(-90)" class="ay">Predictions</text>
<path d="M348.3 43.3 344.5 41.8 338 41.5 333 42.3 329.8 44 326.8 44.3 324.5 46.8 321 48.3 318.8 50.5 314.8 51.8 311.5 53.8 307 57.8 300.5 61.3 283.3 74.8 276 79.3 270.5 84 266.8 85.5 260.5 90.5 258 94 252 99 248 104.3 240 112.8 239.5 116 235.3 124.3 233 126.3 232.5 131 229.8 135.8 229.8 138.3 228.8 140.5 229 142.5 230.3 143.8 231.5 143.8 235.3 139.5 236.8 139.5 237.8 140.3 242 140.3 244.3 139.5 249 136.8 251.8 136.3 254.3 134.3 261.8 131.5 264.3 129 270.5 126.5 279.3 121.5 285.5 119.8 292.8 114.5 295 111.8 299 109.8 304 104.8 307.8 102.5 309.3 100 313.5 97 318.3 91.5 320.3 88 322.8 86 326.8 80.3 332.5 73.8 334.3 70.3 340.8 62 342.3 59 346 55.8 349 50.5 349.3 45Z" fill="#dc143c"/>
<path d="M327.5 76.7h0M219.4 122.5h0M269.1 126.4h0M280.8 119.3h0M280.3 127.8h0M324.5 88.2h0M340.3 42.6h0M320.2 101.6h0M342.1 35.5h0M344.6 60.5h0M347.3 49.2h0M274.4 122h0M293.4 66.2h0M348.3 45.3h0M227.1 140.6h0M347.8 47.5h0M335.1 39.7h0M320 44.2h0M259 136.7h0M351.7 35.7h0M286.4 73.1h0M302.9 133.6h0M289.1 119.3h0M271.1 123.3h0M288.2 117.6h0M263.1 152.3h0M324.7 27.4h0M256.1 135.9h0M246.7 108.6h0M238.3 149.3h0M261.8 134.7h0M300.8 62.4h0M273.2 126.2h0M245.4 138.6h0M329.9 76h0M332.5 44h0M247.9 135.6h0M328 44.8h0M288.6 55.2h0M271 82h0M327.7 86.9h0M317.9 89.2h0M256.3 96.3h0M291.7 118.3h0M347.1 80.7h0M334.1 73.5h0M271.9 127h0M299.1 106.7h0M286.2 137.2h0M293.3 112.9h0M326.8 96.7h0M347.6 54.4h0M328.5 75h0M345.7 41.5h0M234.8 144h0M312.1 99.2h0M265.4 131.2h0M319.6 86.1h0M312.2 50.5h0M292 118.7h0M286.1 117.9h0M312.3 54h0M259.3 88.9h0M220.6 150h0M296.6 112.8h0M284.5 123.2h0M363.1 41.6h0M280.7 76.1h0M264.8 133.2h0M232.7 144.9h0M308.4 100.1h0M233.6 79.1h0M216.9 125.4h0M312.5 55.2h0M285.9 119.5h0M240 116.9h0M353.7 46.1h0M296.3 119.5h0M289.5 114h0M222.8 144.6h0M310.4 120.7h0M292.9 161.6h0M337.3 42.9h0M284.7 141.9h0M339.2 62.4h0M235.9 142.4h0M349.6 54h0M325.9 84.3h0M275.9 124.9h0M246.4 105h0M294.4 111h0M332.3 43h0M230.6 126.5h0M313 94.3h0M257.8 95.9h0M299.6 118.5h0M256 138.2h0M303.5 60.9h0M240.1 106.9h0M322.9 101.1h0M287 71.7h0M327.5 37h0M232.6 132.7h0M311.1 39.9h0M335.8 82.1h0M313.1 97.6h0M364.3 19h0M259.2 134.3h0M308.5 104.6h0M226.9 161.8h0M287.2 121.8h0M294.1 69h0M263.1 131.2h0M313.6 107.2h0M230 141.9h0M263.4 86h0M332.4 70.2h0M314.1 108.4h0M349.7 60.5h0M236 141.5h0M231.8 129.2h0M301.1 121.8h0M238.3 145.4h0M285.8 71.8h0M232.1 128.8h0M227.6 161.5h0M239.5 139.4h0M352.1 44.8h0M217.1 150.2h0M243.3 85.5h0M217.4 135.9h0M323.2 47.2h0M270.7 128.4h0M277.8 127.4h0M265.3 88.2h0M305 19h0M299.7 23.2h0M236.4 137.5h0M273.3 80.8h0M347 54.3h0M337 83.7h0M266.1 81.7h0M312.4 102.1h0M291.5 71h0M354 27.6h0M287.7 136.4h0M348.4 52.4h0M331.2 86.4h0M314.2 53.8h0M238.8 122.8h0M334.8 71.9h0M284.3 74.4h0M250.3 139.3h0M295 119.3h0M226 141.3h0M342.9 36.6h0M332.5 98.9h0M273.9 81.2h0M285.2 120.2h0M300.6 61.2h0M313.5 45h0M242.1 139.7h0M337.7 69.9h0M223 121.7h0M321.3 86.1h0M300.5 57.9h0M325.2 96.1h0M319.5 92.2h0M310 42.2h0M337.9 63.1h0M229.3 151.7h0M240.9 138.1h0M235.8 145.4h0M347.2 32.4h0M326.4 43.4h0M317.3 51.4h0M349.3 41h0M319.1 47.5h0M347.6 25.4h0M284.1 137.1h0M285.9 135.7h0M233.1 122.9h0M263.7 89.6h0M287.1 136.7h0M344.1 58h0M265.6 128.5h0M267.1 86.8h0M293.1 138.7h0M324.5 46.3h0M323.4 48.7h0M345.3 61.7h0M279.2 79.2h0M339.2 64.3h0M238.4 138.3h0M305.7 59.4h0M260.2 88.7h0M283.6 121.3h0M250.5 102.3h0M299.8 59.2h0M279.5 76.1h0M295.2 115h0M273.9 122.1h0M240.9 115.2h0M236.4 122.7h0M252.5 152.2h0M265.5 126.1h0M257.7 132h0M260.9 131.5h0M287.9 55.6h0M273.8 123.2h0M356.7 36h0M332.8 71.6h0M294.3 148.1h0M320.5 51.5h0M275.4 131.4h0M261.1 92.7h0M284.2 122.5h0M331.2 44.3h0M328.2 110.7h0M232.3 142.7h0M328.5 77.6h0M316.9 103.4h0M346.6 38.6h0M331.5 72h0M336.3 63.7h0M262.9 88.7h0M340.7 63.5h0M292.7 111.2h0M320.6 89.1h0M255 133.7h0M320.4 51.5h0M290.5 113.2h0M318.6 86.6h0M288.3 118.6h0M324.8 81.6h0M278.8 79.2h0M228.9 140.1h0M347.7 32.3h0M323.4 81.2h0M288.5 71h0M299.6 108.1h0M329.1 42.9h0M253.8 89.6h0M297.6 115.4h0M363 28.2h0M220.3 150.2h0M298.6 126.5h0M349.1 44.7h0M328.9 46.3h0M324.6 49.1h0M291.4 67.9h0M308.7 97.2h0M325.4 48.8h0M283 74.5h0M243.6 144.6h0M240.1 118.6h0M313.1 103.6h0M238.4 123.5h0M326.2 85.7h0M303.6 112.5h0M293.7 128.5h0M257.4 136.3h0M278.7 77.9h0M218.3 141.3h0M350.4 47.3h0M241 117.6h0M290.8 71.3h0M300.5 61.1h0M225.4 141.6h0M322.2 84.3h0M268.8 85.7h0M333.3 69.2h0M317.4 88.5h0M288.1 73.8h0M309.8 106.7h0M250.1 138.7h0M226.5 132.8h0M301.3 60.2h0M275.1 124.2h0M234 138.5h0M245.1 107.5h0M253.8 100.8h0M281.2 62.8h0M267.6 129.9h0M288.8 116.1h0M282.8 121.8h0M305.2 50.6h0M231 136.4h0M328.6 74.9h0M317.3 31.4h0M278.8 119.6h0M358 40.4h0M336.7 38.7h0M317.1 51.8h0M311.9 117.7h0M312.3 94.8h0M327.9 78.8h0M318.2 105.2h0M274.1 76.2h0M317.6 49.1h0M300.5 141h0M355.9 45.2h0M343.4 63.7h0M296.5 128.5h0M311.4 96h0M314.2 38.1h0M294.8 68.6h0M338.2 62.6h0M347.9 62.4h0M294 122.9h0M296.2 61.8h0M282.9 122.1h0M232.4 143.5h0M226.8 164.6h0M230.9 143.5h0M240.7 112.8h0M240 141.5h0M254.2 135.6h0M257.9 88.2h0M234.7 137.7h0M301.7 104.8h0M227.5 148.2h0M262.4 87.8h0M303.5 59.3h0M283 76h0M253.2 101.2h0M273.4 124.4h0M305 55.6h0M252.3 90.8h0M273.5 77.6h0M351.8 25.7h0M283.8 76.1h0M330 45.2h0M320.2 48.2h0M273 50.8h0M313.7 50.8h0M242.1 112.2h0M308.4 97.8h0M239.4 118.7h0M229.6 135.5h0M245.4 110.2h0M340 61.5h0M319.9 97.5h0M292.7 63.4h0M309.9 96.9h0M357.9 48.5h0M313.6 132.3h0M251.3 93.4h0M269.5 86.1h0M269.7 126.7h0M232.6 117h0M320.7 99h0M336.4 66.1h0M260 94.3h0M237.5 85h0M250.9 101.9h0M264.2 56h0M321.5 109.9h0M265.6 84.2h0M312.9 95h0M328.6 43.5h0M305.3 54.5h0M218.5 142.4h0M351.2 52.6h0M242.8 110.7h0M321 92.8h0M271.5 84.1h0M282.5 77.9h0M229.3 151.7h0M296 110.5h0M219.7 151.3h0M299.1 118.8h0M331.8 104.3h0M332.7 74.8h0M235.9 145.6h0M233.1 131.1h0M284 118.4h0M236.4 139.8h0M261.7 128.8h0M297.7 114.1h0M294.2 67.3h0M282.6 53.5h0M356.2 48.3h0M274.6 125.5h0M319.4 124.9h0M298.9 55.3h0M261.6 132h0M275.3 121.2h0M340.1 42.3h0M356.9 41.3h0M287 125.5h0M327.4 90h0M307.9 26.4h0M314.1 44.8h0M298.3 107.5h0M337.1 65.5h0M309 55h0M319.6 88.2h0M306.6 149.6h0M314.8 97.2h0M228.7 151.6h0M305.2 60.5h0M252.6 101.4h0M310.5 54.5h0M344.3 55.9h0M335.1 89.6h0M348.6 43.5h0M319.3 52.6h0M279 125.2h0M345.2 54.5h0M240.2 141.8h0M349.7 40.7h0M253.7 132.8h0M324.4 44.7h0M251.9 95.1h0M232.1 124.5h0M349.3 44.1h0M290.6 114.5h0M286.9 124.1h0M306.5 117.2h0M339.8 69.3h0M326.8 77.3h0M285.3 61.1h0M227.1 158.1h0M285.9 153.8h0M320 88h0M355.8 35.6h0M273.8 83.3h0M315.1 92.7h0M284.1 77.1h0M310.5 110.1h0M237.4 103.5h0M232.5 149.3h0M308.5 115.8h0M254.9 92.3h0M310.7 55.7h0M228 145.7h0M335.5 43.5h0M284.8 126.7h0M260.6 91h0M241.2 111.5h0M251 140.8h0M238.7 113.4h0M333.5 44.2h0M235.1 129.1h0M293.8 68.1h0M347.5 49.6h0M277 69.1h0M318 105.8h0M276.3 121.4h0M257.2 96.2h0M293.7 141.1h0M346 66.9h0M249 106.6h0M237.8 123.1h0M233.1 128.5h0M306.4 110.8h0M344.5 58.3h0M233.4 129.7h0M243.4 109.7h0M243.1 98.4h0M247.3 135.3h0M266.8 87.8h0M349.9 50.8h0M258.9 93h0M250.3 100.2h0M230.4 135.1h0M316.1 104.8h0M299.7 106.4h0M276.8 121.2h0M318.7 39.2h0M230.9 126.9h0M304.3 45.7h0M302.8 114.9h0M345.1 56.7h0M240 142.1h0M273.6 123.2h0M301 61.5h0M284.3 118.6h0M228.5 126.4h0M257.6 96.8h0M344.8 64.5h0M250.6 102.1h0M322.6 88.7h0M233 138.6h0M296.4 117.7h0M241.5 110.6h0M337.6 40.7h0M322.3 93.9h0M249.9 101.6h0M284.7 145.8h0M301 62.1h0M316.9 91h0M266.5 126.3h0M356.4 29.1h0M301.6 107.3h0M305.5 102.9h0M284.1 65.7h0M266.7 86.3h0M241.4 140.8h0M308 109.7h0M274.5 135.7h0M257.4 88.3h0M229.9 126.6h0M281.5 157.3h0M270.6 75.3h0M297.8 149.7h0M285.3 130h0M242.1 111.1h0M233.2 127.4h0M316.7 96.9h0M303.7 104.8h0M239.6 139.5h0M233.3 132.5h0M269.2 81.4h0M275.1 126.1h0M278.5 123.1h0M314.8 52.5h0M284.4 128.8h0M339.5 65h0M322.6 85.5h0M254.8 93.8h0M345.8 59.2h0M231.1 156.1h0M251.6 94.6h0M277.5 63.5h0M234.8 125.2h0M218.6 133.2h0M280.5 119.2h0M349.2 64.2h0M313.5 54.3h0M304.5 119.7h0M296.5 118.3h0M322.2 48.9h0M343.6 73.2h0M239.1 138.4h0M320 106.1h0M240.2 118.5h0M288.1 124.7h0M272.9 82.1h0M314.2 96h0M310.1 106.8h0M342.7 56.6h0M310.5 98.8h0M345.9 54.6h0M281.9 74.1h0M233.4 142.4h0M319.6 94.2h0M307.7 113.1h0M301.5 57.7h0M321.3 107.6h0M312.9 151.3h0M317.7 48h0M253.6 137h0M253.2 134.9h0M297.9 61.6h0M295.7 61.8h0M280.1 121.4h0M232.8 142h0M300.1 135h0M294.3 113h0M303.6 56.6h0M287.2 119.4h0M282.4 118.6h0M290.6 59.7h0M317.4 92h0M305.1 61.2h0M314.5 46h0M233 121.7h0M249.2 141.3h0M238 147.2h0M311.6 96.7h0M311.7 23.2h0M281.6 122.2h0M349.5 31.1h0M325.1 84.8h0M325.6 46.9h0M224.9 162.6h0M224.5 137.6h0M255.1 87h0M251.1 100h0M296.2 63.5h0M309.5 97.8h0M215.7 140.9h0M282.8 67h0M331.3 126.5h0M315.1 109.8h0M231.7 142.5h0M242.1 107.6h0M321.8 50.8h0M272.1 122.9h0M217.5 142.1h0M308.5 100.5h0M311.8 46.3h0M232.9 139.2h0M266.3 128.3h0M315.6 115.1h0M217.4 151.5h0M290.5 114.2h0M341.7 30.8h0M314.8 108.2h0M330.2 73.5h0M233.9 138.1h0M276.2 122.6h0M238.1 119.1h0M346.6 64.6h0M258.5 132.2h0M221.1 156.5h0M235.9 117.8h0M360.6 37.2h0M265.6 88.9h0M360.7 47h0M308.1 127.1h0M303.6 106.8h0M305.8 50.4h0M276.2 122.8h0M329.3 74.5h0M299.5 58.9h0M239.2 108.5h0M231.9 126.3h0M322.3 48.1h0M289.5 71.2h0M228.2 156.4h0M272.6 84.7h0M331.9 44.5h0M291 47.3h0M306.9 104.7h0M227.7 152.8h0M272 124.9h0M225.7 152.3h0M267 77.4h0M272.1 83.3h0M250.6 100.8h0M309.2 103h0M229 129.9h0M304.6 103.6h0M267.4 131.7h0M257.6 137.9h0M225.7 127h0M231.8 133.9h0M313.1 106.2h0M310.3 57.6h0M350.8 47.1h0M300 111.1h0M357.9 55.1h0M263.1 86.2h0M342.1 58.2h0M265.2 77.2h0M324.2 87.2h0M312.2 96h0M225.8 142.2h0M249.1 105.5h0M283.9 75.2h0M293.9 132.1h0M304.2 121.1h0M319.5 90.9h0M261.8 132h0M279.2 119.6h0M330 79.8h0M253.1 141.5h0M279.7 76.1h0M272.5 82h0M244.1 144.7h0M305.8 108.5h0M314.6 125.1h0M300.8 113.1h0M305.2 137.9h0M264.6 128.1h0M251.4 136.6h0M307.5 58.7h0M253 136h0M237.9 123.3h0M348.3 44.1h0M221.6 155.8h0M229.2 133.8h0M316.4 94.5h0M322.4 49.7h0M266.1 129.5h0M280.9 68.3h0M217.9 152.4h0M264.3 134.6h0M328.6 81h0M214.3 152.9h0M300.6 107.3h0M287.7 73.5h0M241.2 114.8h0M329.1 45.4h0M350 31.4h0M233.8 148h0M254.6 99.4h0M295.7 61.8h0M235.3 149.5h0M256.9 72.6h0M258.5 92.9h0M234.6 138.6h0M253.5 135h0M346.6 49.4h0M327.5 44.6h0M312.5 55.4h0M242.5 145.5h0M336.2 73.7h0M287.1 73.3h0M353.2 40h0M330.9 75h0M306.6 58.8h0M267.5 61.1h0M303.8 48.2h0M332.6 133.6h0M263.8 64h0M232.4 133.4h0M326.4 46.4h0M274.3 76.8h0M296.5 135.6h0M285.5 134.8h0M289.8 71.7h0M240.9 141.4h0M254.8 132.1h0M281.9 133.3h0M331.5 45.3h0M245.7 100.9h0M246.9 107.8h0M318.4 45.6h0M297.2 25.7h0M246.9 103.9h0M216.1 148.2h0M334 70.6h0M312.1 55.8h0M270.1 85h0M290.9 119.7h0M230.9 119.5h0M217.4 151.7h0M349.3 48.5h0M337 71h0M318.4 49.6h0M349.1 49h0M240.8 145.9h0M266.2 130.8h0M340.4 61.2h0M348.5 35.9h0M241.2 113.7h0M322.7 82.8h0M237.2 123.6h0M274.9 121.6h0M229.4 147.1h0M344.7 39.5h0M236.4 122.7h0M327.6 95.5h0M359.2 41.8h0M314.8 92h0M315.5 36.5h0M283.1 68.4h0M238.5 109.8h0M287.4 67.9h0M259.5 131h0M317.2 35.8h0M243.2 101.9h0M323.4 40.2h0M232.1 127.4h0M325.3 78.9h0M230.3 125.4h0M245.8 141.5h0M259.1 131.6h0M324.1 91.9h0M242.2 106.7h0M230.4 140.5h0M236.1 137.7h0M346.7 42h0M335 74.9h0M315.9 53.1h0M320.8 105.6h0M298.1 110.1h0M336.4 40.5h0M219.3 141.7h0M306.9 48.1h0M303.5 106h0M253.7 95.4h0M351.3 36.9h0M246.5 99.4h0M310 101.4h0M251.5 97.9h0M327.1 43.6h0M346.3 61.3h0M300.1 113h0M301.2 128.7h0M241.4 111.7h0M247.9 139.4h0M322.3 27.5h0M275.6 123.4h0M310 57.7h0M292.3 112h0M359.4 56h0M286.3 70.4h0M266.2 84.8h0M292.5 112.5h0M268.4 128.7h0M290.4 118.2h0M229.3 141.5h0M234.9 127.5h0M332.7 44h0M345.3 43.7h0M347.7 47.9h0M310 96.6h0M309 100.7h0M354.4 55.2h0M292.4 59.9h0M316.4 48h0M233.1 149.8h0M296.8 127.4h0M216.8 146.9h0M237.7 139.3h0M295.9 56.5h0M313.6 101.8h0M305.7 107.3h0M290.5 125.7h0M311.1 118.6h0M227.5 142.4h0M233.4 139.5h0M361.1 44.7h0M236.3 109.9h0M285.3 130.9h0M271 127.2h0M248.4 144.5h0M266.7 87.3h0M349.2 46h0M232.1 144.8h0M279.6 64.4h0M245.6 109.6h0M275.3 125h0M293.6 124.7h0M214.2 165.9h0M309.2 98.9h0M243.6 110.2h0M223.9 146.2h0M237.4 124.2h0M237.3 146.4h0M294.9 116.8h0M288.2 71.9h0M309.6 105.8h0M320.3 100.1h0M325.9 47.8h0M261.7 132h0M326 47.8h0M268.4 126.4h0M255.4 136.3h0M247.1 108.2h0M336.8 84.6h0M303 38.5h0M296.6 113.2h0M231.3 135.8h0M323.5 87.3h0M310.6 105.9h0M235.3 117.2h0M342.2 61.7h0M280.3 79.4h0M296.7 120.3h0M294.1 119.2h0M264 127.1h0M322.3 82.9h0M349.6 33h0M321.8 101.2h0M317 95.2h0M355.8 62.5h0M332.8 70h0M306.1 101.6h0M319.7 35.3h0M217.7 164.7h0M316.5 93.8h0M221.3 148.1h0M351.9 55.7h0M319 129.7h0M271.7 124.1h0M233.4 127.9h0M310.9 95.8h0M337.3 62.9h0M291 136.8h0M346.7 49.7h0M232.2 147.4h0M330.4 73.6h0M289.3 115.2h0M294.6 54.4h0M289.9 122.1h0M330.8 78.3h0M231.6 117.6h0M318.2 46.9h0M253.1 101h0M239.8 141.5h0M346.3 40.5h0M307.8 104.1h0M255.1 139.3h0M245.1 109.6h0M279.2 79.4h0M316.9 89.2h0M309.9 106.3h0M270.3 77.5h0M284.1 122.2h0M239.5 118.5h0M339.2 62.6h0M346.7 44.4h0M322 90.7h0M284.1 126.3h0M330.8 74.7h0M289.5 115.1h0M308.5 54h0M229.6 124.3h0M319.8 110.9h0M267.6 129h0M272.2 126.1h0M286.8 123.2h0M308.7 51.2h0M350.9 39.7h0M246.9 106.8h0M345.9 42.9h0M361.3 41.9h0M226.7 142.3h0M299.6 59.9h0M318.1 94.6h0M306.8 126.7h0M252.7 133.7h0M321.1 50.7h0M237.3 121.3h0M317.2 91.1h0M222.7 136.1h0M281.4 74.4h0M283.4 135h0M235.8 140h0M250.6 98.2h0M220.7 154.7h0M244.7 142.3h0M289 134.3h0M230.6 140.3h0M246.5 102.7h0M227.8 121.4h0M307.4 147.5h0M253.9 92.9h0M300.2 126.3h0M316.2 53h0M274.8 82.4h0M294.6 67.4h0M288.5 121.3h0M229.6 132.2h0M335.9 30.4h0M235.7 148.4h0M329.7 34.2h0M325.1 82.1h0M243.3 108.9h0M253.6 100.4h0M233.5 138.4h0M252.7 135.2h0M347.2 53.6h0M255.8 134.6h0M337.6 61.9h0M336.1 68.5h0M329.7 43h0M308.6 59.3h0M249.9 135.1h0M271.7 85.7h0M296.2 110.3h0M250.9 136.8h0M268.5 80.9h0M323.5 82.7h0M278.9 119.2h0M284.8 121.1h0M291 119.5h0M285.5 75h0M298.5 63.5h0M244.8 102.4h0M331.7 82.7h0M247.9 106.2h0M322.1 47.2h0M299.3 59.7h0M311.8 55.6h0M332.4 72.3h0M315.4 51.9h0M300.5 140.8h0M315.6 23.5h0M279.5 124h0M230 154.7h0M349.7 36h0M240.8 115.9h0M231.8 127.7h0M222.3 135.1h0M326.5 78.1h0M260.9 129.8h0M328.3 83.6h0M254.2 98.3h0M291.4 120.3h0M299.1 48.1h0M230.6 142h0M244.7 139.7h0M265.6 88.6h0M313.6 102.1h0M298.1 122h0M306.4 60.5h0M221.6 145.4h0M350 37.5h0M328.1 78.2h0M288.6 68.7h0M292.4 67.5h0M214.7 142.3h0M348.8 31.5h0M345.2 66h0M349.7 32h0M228.7 140.4h0M355.8 47h0M298 110.4h0M232.2 122.4h0M338.1 39.4h0M305.7 122.5h0M242.6 111.7h0M292.9 69.6h0M245.3 110h0M298.2 108.8h0M255.2 151.1h0M347.7 52.2h0M319.9 26.7h0M228.3 140.4h0M337.5 41.8h0M225.4 138.1h0M340.8 41.6h0M259.9 87.9h0M281.2 75.3h0M237.1 138.8h0M339.6 65.3h0M317.9 111.6h0M228.9 135.5h0M301.5 53h0M320.5 46.7h0M227.5 149.7h0M337.3 68.6h0M341.3 86.2h0M240.4 112.9h0M230.1 129.5h0M272.3 125h0M274.7 122.5h0M247.4 104.7h0M264.3 84.4h0M286 68.5h0M320.2 48.5h0M306.9 42.9h0M311.8 104.9h0M282.5 157.1h0M227.1 159.1h0M337.1 95.3h0M339.3 87.4h0M247.8 140.1h0M331.4 77.7h0M253.3 96.7h0M364.3 41.8h0M273.7 127.4h0M335.6 69.2h0M238 121.8h0M225.3 142.4h0M288.4 62.8h0M224.6 129.5h0M224.5 163.3h0M247.6 105.7h0M240 143.4h0M258.5 142.1h0M293.3 49.4h0M306.8 57.3h0M353.2 38h0M321.4 102.6h0M319.3 94.3h0M329.1 44h0M347.7 53.1h0M235.7 138.7h0M275.5 80.8h0M232.9 154h0M310.6 46.2h0M320.1 85.1h0M233.8 128.5h0M338.8 62.4h0M275.1 82.5h0M248.1 106.6h0M249.9 99.1h0M232.3 145.3h0M312.3 109.8h0M218.8 132.7h0M263.3 88.8h0M350.4 46.7h0M230.1 147.7h0M242 114.6h0M303.2 106.9h0M249.3 134.5h0M272.8 132.2h0M361.5 32.4h0M230.9 137.9h0M300.6 121.1h0M344.6 38.9h0M256.2 96.5h0M340.6 64.3h0M297.6 62.3h0M234.4 118.3h0M229.7 152.3h0M221.5 160.6h0M283.1 56.1h0M252.2 102.1h0M288.6 117.5h0M249.6 101.8h0M332.6 77.8h0M258.1 94.1h0M319.4 86.3h0M268 84.8h0M240.8 138.5h0M265.4 132.1h0M267.9 82.5h0M257.7 93h0M231.1 129.1h0M325.5 44h0M274.8 126.7h0M260.5 134.1h0M233.7 107.8h0M229.2 145.6h0M260.3 94.2h0M349.6 46.8h0M301.8 112.8h0M259.6 133.5h0M295.2 126.9h0M289.1 118.7h0M229.7 148.8h0M250.6 100.3h0M237.7 143.1h0M335.9 75.9h0M277.7 79.2h0M312.4 96.7h0M252 134.1h0M228.9 127.2h0M241.2 105.9h0M284.2 137.9h0M332.8 68.9h0M250 97.8h0M277.8 77.5h0M324 82.7h0M233.5 151.5h0M305.3 105.9h0M320.8 49.1h0M227.5 138.2h0M341.7 38.3h0M343.6 34.4h0M309.3 106.2h0M292.4 154.6h0M244.8 95.7h0M296.1 67.3h0M233.2 154.4h0M282.1 128.4h0M285.4 151.2h0M324.1 40.8h0M232.5 133.1h0M227.8 142.3h0M322.4 47.6h0M285 67.3h0M240.2 150.5h0M304.2 40h0M343.8 55.3h0M245.6 145.7h0M310.4 97.2h0M303.5 105.2h0M268 83.6h0M231.8 130.4h0M341.5 63.6h0M242.2 87.6h0M345.3 52.3h0M276.1 82h0M322 84.6h0M308 38.5h0M307.1 55.4h0M264.8 85h0M297.7 109.5h0M236 119.5h0M222.5 128.7h0M317.5 52.5h0M320 51.9h0M292.5 68.3h0M273.1 61.8h0M282.2 70.6h0M253.3 132.4h0M288.2 117.6h0M251.1 88.7h0M334.1 68h0M307.8 47.5h0M324.7 84.9h0M299 61.2h0M303.2 62.5h0M314.7 46.9h0M221.7 115.8h0M302.7 108.8h0M323.3 48.2h0M224.3 167.1h0M338.6 66.9h0M344.5 71.8h0M351.1 39.1h0M224.5 154.9h0M241.7 115.7h0M302.5 109.1h0M337.6 40.8h0M245.7 108.4h0M229.7 150.9h0M237.2 138.5h0M341.2 60.8h0M338.1 40h0M216 142.8h0M362.1 34.5h0M326.1 80.8h0M352.9 51.5h0M251.7 133h0M294.7 68.1h0M233.9 117.1h0M226.4 140.2h0M241 148.6h0M321.2 92h0M355 38.6h0M336 37.6h0M275.3 71.9h0M247.1 108.3h0M273.6 124.1h0M287.7 119.6h0M233 139.4h0M336.4 64.5h0M241.2 108.4h0M329.6 45.4h0M342.6 56.8h0M324.3 131h0M272.3 56.7h0M302.5 131.7h0M293.4 110h0M347.6 49.7h0M262 88.7h0M328.8 81.7h0M305.1 59.1h0M302.2 57.1h0M343.5 71.4h0M314 94h0M268.5 85.2h0M238.4 111.3h0M299.3 127.7h0M299.6 108.7h0M268.9 125.2h0M263.9 45.6h0M290.7 39.4h0M275 126.2h0M285 75h0M252 134.4h0M345.1 64.9h0M273.3 123h0M227.7 156.7h0M351.8 58.8h0M348.4 56.5h0M226.6 128.6h0M249.2 96.5h0M220.1 137.2h0M243.9 144.2h0M290.8 125.4h0M283.7 74.6h0M222.7 148.9h0M255.8 137.1h0M282.5 137.9h0M310.5 118.9h0M233.3 150.9h0M218.1 161.9h0M254.9 132.5h0M348.9 44.8h0M284.8 73.9h0M298.2 59.2h0M255.6 136.9h0M320.3 88.6h0M294.8 67.9h0M313.5 54.3h0M325.8 47.7h0M335.1 68.4h0M282.6 137.9h0M225.6 135.6h0M246.4 92.5h0M296.9 114.9h0M299.2 121.2h0M276.1 79h0M225.9 142.9h0M314.3 49.5h0M269.3 125.8h0M229.9 143.9h0M275.2 82.7h0M236.3 111.9h0M266.6 87.7h0M231.6 145.6h0M230.1 135.4h0M305.9 52.1h0M338.7 33.8h0M351.8 54.4h0M349.1 45.2h0M336.5 34.6h0M286.1 120.1h0M234.3 148.1h0M217.1 150.3h0M294 110.5h0M343.2 69.8h0M227.8 147.4h0M342.4 61h0M282.7 119.5h0M247.2 101.5h0M264.6 127.1h0M255.7 131.6h0M248.6 143.6h0M230.4 123.8h0M278.5 74.7h0M282.2 124.9h0M302.3 106.1h0M278.2 131.9h0M236.7 108.7h0M339.5 34.2h0M306.9 54.9h0M285.5 135.1h0M245.3 110.2h0M311.8 118h0M287 116h0M330.4 72.6h0M232.5 134.4h0M340.9 41.5h0M334.1 42.3h0M266.1 80.7h0M285.9 73.4h0M315.4 121.2h0M326 81h0M319.3 44h0M268.3 125.6h0M252.9 133h0M220.5 144.9h0M330.3 43.9h0M228.6 137.5h0M329.3 74.9h0M323.8 46.4h0M297.8 125.1h0M326.4 82h0M322 99.5h0M314.8 123.3h0M346 30.7h0M284.8 141.7h0M322.7 85.6h0M309.4 55.6h0M233.1 142.6h0M259.3 134.5h0M225.3 140.4h0M307.9 98.6h0M254.3 89.8h0M232.4 142.2h0M319.7 93.5h0M315.3 54.3h0M248 104.3h0M290.6 69.7h0M318.2 91.2h0M310.3 105.1h0M282 73.7h0M329.6 117.6h0M325 45.1h0M215 150.9h0M305.9 107.2h0M332.8 42.3h0M329.6 43h0M215.7 152.4h0M267.9 128.5h0M310.4 57.6h0M246.3 96.4h0M299.7 47.5h0M297.1 108.6h0M332.1 72.5h0M222.9 161.9h0M241.8 141.8h0M234 138.2h0M225.9 142.8h0M269.9 77.1h0M337.1 81.6h0M257 96.7h0M232 145.3h0M313 97.6h0M342.2 63.5h0M322.6 86.5h0M233.5 138.6h0M260.4 94.5h0M293.2 114.5h0M293.3 110.2h0M334.9 65.7h0M286.7 140.8h0M231.1 126.3h0M291 117h0M257.3 132.6h0M239.7 138.4h0M239.7 108.2h0M281.8 78.2h0M334.4 68.7h0M219.7 125h0M233.3 132.5h0M322.5 98.6h0M314.1 52.6h0M325.4 42.4h0M300.2 142.7h0M312.7 48.8h0M235.9 143.8h0M294.3 111.9h0M320.1 50.9h0M295.7 116.9h0M319.8 98.2h0M215.1 133.5h0M312 112.3h0M298.1 112.2h0M221.4 159.5h0M265.1 86.5h0M229.2 151.6h0M235 145h0M277.9 124.5h0M333.6 77.3h0M272.6 84.6h0M266.6 88h0M229.8 117.2h0M342.7 56.3h0M263.5 129.3h0M346.8 37.2h0M250.9 103.2h0M265.7 126.2h0M257.2 82.3h0M266.8 72.1h0M293.2 68.3h0M316.9 110.7h0M326.4 83.5h0M310.7 99.3h0M345.2 55.7h0M319.6 49.6h0M279.2 122h0M285.3 129h0M284.5 74h0M333.6 41.8h0M342.2 67.1h0M319.2 52.1h0M272.3 85.6h0M275.1 81.9h0M307.1 25.1h0M272.5 82.5h0M222.9 133.3h0M325.8 79.9h0M317.3 91.5h0M299.8 112h0M326.8 79.4h0M321 93.8h0M353.4 44.3h0M295.5 139.3h0M288.2 115.9h0M272.2 127.1h0M261.1 131.6h0M304.2 110.1h0M227.7 135.5h0M218.6 150.5h0M300.8 119.6h0M275 78.1h0M261.4 86.7h0M242.1 114.6h0M347.5 35.3h0M283 71.1h0M308.4 38.5h0M252 93.3h0M343.1 63.4h0M314.4 92.6h0M323.1 81.9h0M298.6 115.4h0M304.1 51.9h0M310.5 96.4h0M281.3 119.5h0M274.1 79.2h0M295.2 138h0M253.1 137.2h0M303.1 118.9h0M224 141h0M272.9 84.8h0M351.2 45.6h0M223 136.9h0M339.1 42.5h0M238.7 118.5h0M238.8 142h0M299.1 109.1h0M317.3 93.3h0M316.6 53.5h0M231.6 125.6h0M223.3 151.6h0M343.6 38.9h0M333.4 42.1h0M341.8 57.7h0M328.5 89.6h0M247.7 107.2h0M272 65.2h0M283.1 124.4h0M257.1 93.9h0M316.8 90.2h0M297.5 57.3h0M310.3 101.4h0M336.7 65.8h0M316.6 50.9h0M235.2 141.2h0M261 92.3h0M321.7 85.1h0M236.3 139.1h0M322.4 29.6h0M289.5 72.4h0M242.6 98.6h0M253.6 94.9h0M319.1 106.1h0M323.4 85.9h0M291.5 150.5h0M328 76.9h0M321.6 85.8h0M280.5 120.7h0M335.6 67.2h0M282.7 124.8h0M345.8 71.2h0M281.6 123.2h0M286 134.4h0M332.1 84.7h0M239.2 114.3h0M278.7 63h0M260.2 89.1h0M226.3 145h0M244.1 141.5h0M251.5 149.5h0M239.8 116.3h0M262 69.1h0M348.2 58.7h0M280.4 76.6h0M308.9 56.7h0M315.8 50.9h0M336.3 38.1h0M276.3 122.3h0M320.8 97.5h0M302.6 50.7h0M337.9 62.5h0M319.6 46h0M264.5 136.9h0M324.2 48h0M308.2 101.3h0M338.2 43.8h0M310.6 96.5h0M286.6 74h0M343.9 54.6h0M285.4 74.7h0M320.3 94.6h0M225.3 151h0M217 146.4h0M336.2 76.4h0M335.3 43.7h0M366.1 43.4h0M294.7 37.1h0M236.9 120.6h0M280 69.4h0M251.3 75.6h0M249.2 135.2h0M216.2 142h0M310.1 58h0M230.5 133h0M331.7 43.6h0M234.4 130.3h0M261.8 91.7h0M257.3 132h0M324.7 92.4h0M263.2 88.8h0M316.1 93.3h0M260.9 93.6h0M220.1 153.1h0M343.6 38.8h0M255.1 97.8h0M297.7 63.1h0M227.9 138.5h0M338.1 94h0M226.2 146.9h0M240.6 113.2h0M292.4 67.9h0M283.1 130.5h0M349.6 48.8h0M251.8 135.7h0M271.9 85.1h0M349 38.9h0M241.9 111.6h0M349.5 53.1h0M274.7 122.3h0M242.9 139.6h0M256 92.5h0M286.1 128.7h0M355.8 49.3h0M295 65h0M313.4 100.5h0M306.7 43.7h0M226.2 128h0M258.2 93.4h0M249.5 99.2h0M257.9 64.7h0M305 105.2h0M335.5 69.6h0M320.3 93.1h0M289.6 138.8h0M302.2 123.3h0M341.7 63.7h0M346 39.8h0M234.4 121.2h0M311.6 118.7h0M276.9 122.2h0M258.7 87.1h0M299.4 117.4h0M289.2 155.6h0M286.1 72.2h0M261.4 49.2h0M335.7 65.1h0M314.7 50.8h0M307.9 135.3h0M227 153.9h0M288.1 73h0M345.7 42.7h0M352.2 53.4h0M286.5 59.2h0M339 65.1h0M323.5 82.7h0M315.4 48h0M250.4 96.4h0M281.4 125.3h0M281.6 131.2h0M304.2 161.1h0M283.2 77.3h0M254.7 98.9h0M238 148.2h0M256.5 135.6h0M333.6 74.8h0M246.8 139.4h0M226.3 126.5h0M277.1 122.5h0M303.2 106h0M278.2 79.7h0M281.6 78h0M346.6 39.3h0M259 130.5h0M289.3 125.6h0M265 133.7h0M266 76.9h0M277.7 125.1h0M348.1 47.9h0M310.8 96h0M318.8 48.9h0M230.6 123.7h0M299.6 64.7h0M257.9 95h0M235.3 143h0M254.8 133.4h0M289.4 44.4h0M274.4 66.3h0M256.5 132.7h0M292.3 114.4h0M304.1 59.6h0M337.8 43.5h0M272.3 126.4h0M314.9 91.9h0M219.2 148h0M287.2 128.8h0M334.7 74.6h0M232.7 149h0M277 124h0M241.1 105.9h0M261.6 136.5h0M272.2 81.9h0M311.7 52.5h0M225.5 152.9h0M237.8 118.6h0M269 126.9h0M272.8 78.7h0M348.5 37.2h0M281.6 121.9h0M315.7 52.1h0M308.3 107.6h0M266.2 35.5h0M244.2 106.8h0M268 126h0M324.4 45.9h0M339.4 59.6h0M256 84.9h0M319 97.3h0M314.3 122h0M250.3 101.7h0M244 94.8h0M216.1 148.8h0M275.1 82.8h0M313.5 55.1h0M229.7 145.9h0M321 101.6h0M301.5 62.7h0M295.1 135.2h0M221.8 143.7h0M282.9 73.6h0M287.9 115.8h0M293.6 63.9h0M249.4 105.2h0M326.6 42.7h0M248.3 138.7h0M310 96.2h0M250.9 103.7h0M320.6 42.9h0M216.8 158.4h0M304.6 109h0M238.3 142.3h0M233.9 127.8h0M254.8 85.5h0M288.8 116.3h0M240.4 118.2h0M303.1 42.4h0M340.5 39.3h0M334.8 42.4h0M315.9 95.4h0M214.8 136.6h0M260.5 131.6h0M347.9 47.6h0M347.5 45.6h0M221.7 144.3h0M294.2 64.6h0M329.1 91.1h0M245.7 107.7h0M229.4 130.5h0M326.7 83.8h0M319.6 89.7h0M336.5 64.1h0M327 81h0M351.8 36.8h0M275.7 123.9h0M232.3 135.8h0M290.1 68h0M304.1 43.3h0M328.3 44h0M309 105h0M225.9 107.3h0M227 144.9h0M290.4 117.8h0M228.7 147.6h0M297.5 113.4h0M345.4 54.5h0M239.1 117.7h0M221.6 147h0M361.5 55.2h0M351.4 33.4h0M312.3 55.4h0M267.8 130.2h0M224.1 157.2h0M230.3 124.4h0M321.4 51.1h0M221.8 140.5h0M312.5 94.5h0M320.2 85h0M349.5 41.2h0M327.8 75.7h0M317.7 92.2h0M223.4 135.9h0M314.1 96.3h0M289.8 63.9h0M279.7 79.1h0M292.7 112.3h0M226.8 129.1h0M229 146.3h0M293.6 53.8h0M319.8 51.1h0M248 107.5h0M236.2 125.6h0M320.3 85.3h0M276.3 80.3h0M256.7 133h0" stroke="#dc143c" stroke-width="2.50" stroke-linecap="round" fill="none"/>
<line x1="220.6" y1="163.3" x2="364.9" y2="15.1" stroke="#3a35d0" stroke-width="1.2"/>
<rect x="214.6" y="10.6" width="35" height="10.2" rx="0.8" fill="#fff" fill-opacity="0.8" stroke="#d8d8d8" stroke-width="0.5"/>
<line x1="216.4" y1="13.2" x2="222.8" y2="13.2" stroke="#3a35d0" stroke-width="0.9"/>
<circle cx="219.6" cy="17.6" r="0.9" fill="#c0102e"/>
<text x="224" y="14.2" class="lg">R-squared=1</text>
<text x="224" y="18.6" class="lg">R-squared=0.79</text>
<rect x="213.4" y="9.4" width="159" height="159.4" fill="none" stroke="#c8c8c8" stroke-width="1.5"/>
<text transform="translate(99.2 190.9) scale(1 1.15)" class="t">GBR Autumn</text>
<line x1="40.9" y1="352.4" x2="40.9" y2="353.6" class="tk"/>
<text x="40.9" y="357" class="xl">0.2</text>
<line x1="74.7" y1="352.4" x2="74.7" y2="353.6" class="tk"/>
<text x="74.7" y="357" class="xl">0.4</text>
<line x1="109.3" y1="352.4" x2="109.3" y2="353.6" class="tk"/>
<text x="109.3" y="357" class="xl">0.6</text>
<line x1="143.4" y1="352.4" x2="143.4" y2="353.6" class="tk"/>
<text x="143.4" y="357" class="xl">0.8</text>
<line x1="177.7" y1="352.4" x2="177.7" y2="353.6" class="tk"/>
<text x="177.7" y="357" class="xl">1.0</text>
<line x1="17.2" y1="332" x2="18.4" y2="332" class="tk"/>
<text x="16.2" y="332.9" class="yl">0.2</text>
<line x1="17.2" y1="297" x2="18.4" y2="297" class="tk"/>
<text x="16.2" y="297.9" class="yl">0.4</text>
<line x1="17.2" y1="262.2" x2="18.4" y2="262.2" class="tk"/>
<text x="16.2" y="263.1" class="yl">0.6</text>
<line x1="17.2" y1="226.9" x2="18.4" y2="226.9" class="tk"/>
<text x="16.2" y="227.8" class="yl">0.8</text>
<text transform="translate(99.2 363.6) scale(1 1.12)" class="ax">Observed Values</text>
<text transform="translate(10.4 273.3) rotate(-90)" class="ay">Predictions</text>
<path d="M151.3 221.8 149.3 220.8 144.5 221.5 141 221.3 136.8 223 130 227.5 125.3 230 123.5 230.3 121.5 232.5 117.5 233.8 112.8 238 106.3 241.5 99.8 248 92.3 253.3 87.5 258.3 75.5 267.3 70 272.8 64.5 275.8 62.3 278.8 60.3 280 56.3 284.3 54.5 285 51 289.3 48.5 290.8 46.5 295 44.3 297.8 44 300.5 43.3 301.8 43.3 306.5 41.3 310.5 44 313.5 47 313.5 49.3 315.3 52.5 314.3 55.5 314.3 56.8 313.3 59.8 312.5 66 312 68.8 309.3 73 308.5 78 306 80.8 305.8 86.3 302.5 93.8 300.3 97 298 100.3 297.5 104.5 293.3 108.3 291 110.8 287.8 113.5 286 116 285.5 122.5 280.8 127 279.5 129.3 274.5 131.5 272.5 133.3 269.5 135.5 268 138.8 262.5 145 254.8 146.5 251 148.3 249 150 245.5 153.3 235.8 154 231.3 153.8 225.3Z" fill="#dc143c"/>
<path d="M126.5 276.7h0M133.5 268.8h0M80.2 307.1h0M141.4 257.3h0M51.4 327.1h0M70.5 264.6h0M32.9 297.4h0M40.9 296.8h0M83.3 303.9h0M103.6 301.2h0M138.1 294.9h0M154 236.7h0M41.4 288.7h0M97.3 304.2h0M63.2 273.6h0M141.4 221.7h0M68.9 309.6h0M94.4 309.3h0M42 308.2h0M121.6 233.1h0M87.4 300.3h0M75.9 307.6h0M55.9 284.2h0M40.3 313.4h0M94.9 302.1h0M73.1 272.8h0M109.1 305.5h0M73.4 306.5h0M114.8 235.7h0M117.7 230.7h0M36.2 333.2h0M43.6 290.6h0M153.9 229.3h0M37.8 298.3h0M92 302.8h0M120.9 299.1h0M89.9 232.3h0M86.4 260.9h0M140.7 259.1h0M134.6 268.7h0M63.8 311.7h0M53.2 314.1h0M145.4 255h0M99.9 306.7h0M43.6 302.6h0M72.2 249.8h0M81.3 306.3h0M25.4 319.9h0M152.1 233.9h0M150.7 220.5h0M121 225.3h0M31.5 320.8h0M119.3 232.5h0M86.8 304.2h0M57.5 311.4h0M147.7 247.4h0M80.3 265.8h0M123.4 292.1h0M136.7 265.6h0M60.3 277.1h0M82.7 261.6h0M147.7 245.6h0M38.3 294.1h0M125.9 277.5h0M70.9 258.6h0M34.5 303.4h0M101.9 295.1h0M90.7 250.6h0M94.3 301.4h0M128.1 282.6h0M86.7 303.9h0M153.1 221.4h0M131.2 271.3h0M69 271h0M100.9 248.6h0M95.3 328.6h0M135.6 226h0M73.4 314.8h0M73.4 268.2h0M78.3 264.5h0M49.1 284.8h0M53.2 284.1h0M44.7 308.6h0M162.7 223.6h0M129.7 278.8h0M122.8 231.7h0M152.3 223.1h0M48.3 294.6h0M44.8 277.3h0M126.4 231.6h0M55.4 318.5h0M40.8 294.7h0M97.7 242.8h0M28.4 300.2h0M44.8 320.4h0M45.6 294.5h0M128.4 272.7h0M50.4 284.1h0M107.6 298.1h0M70.6 271h0M26.8 315.9h0M41.5 315.7h0M122.6 234.5h0M42.1 316.8h0M95.9 245.4h0M41.3 311h0M118.8 286.7h0M90.8 255.1h0M69.8 310.3h0M52.7 290h0M73.9 307.5h0M162.3 219h0M34.7 310.8h0M127.6 229.9h0M99.3 232.2h0M39.4 310.8h0M60.6 281.7h0M85.2 304.6h0M48.6 313.2h0M124 295.3h0M127.3 228.2h0M71.7 273.8h0M149.4 246.8h0M87.7 230.7h0M35.3 310h0M130.6 271.5h0M114.9 283.8h0M63.2 314.6h0M121.5 279.8h0M92.4 255.6h0M61 282.4h0M149.5 212.5h0M86.5 314.1h0M34.1 314.1h0M150.8 245.1h0M131.8 225.9h0M61.5 268.6h0M111.8 298.2h0M96.9 299.3h0M43 303.6h0M50 313h0M56 283.5h0M156.8 224.6h0M97.4 302.6h0M96.3 309.5h0M141.7 218.1h0M93.7 303.6h0M41.4 303.7h0M67 323h0M87.9 301.3h0M140.2 222.9h0M137.1 264.9h0M99.1 299.1h0M77.2 305.6h0M37.5 294h0M152.6 216.3h0M41.5 299.3h0M104.3 230.2h0M132.3 288.3h0M122.3 281.8h0M151.7 237.2h0M121.2 228.1h0M112.7 287.2h0M60.1 311h0M38.9 323h0M55 315.4h0M131.3 223.2h0M91.3 301.6h0M117.2 285.4h0M121 290.2h0M130.8 273h0M139.3 223.2h0M112.9 223.3h0M110.4 239.3h0M124.6 218.3h0M135.7 225.1h0M75.1 270.6h0M83.5 258h0M97.4 249.8h0M51.7 321.3h0M95.9 296.6h0M102.1 312.8h0M84.6 261.7h0M88.3 259.9h0M74.3 270.7h0M140.9 288h0M32.6 332.8h0M123.3 283.4h0M93.9 298.3h0M95 303.1h0M119.7 307.2h0M94.4 251.5h0M150.8 238.4h0M111 238.6h0M152.1 226.8h0M120.1 232.8h0M125.5 283h0M100.4 246.2h0M127.5 286.2h0M46.9 319.2h0M141.9 254.6h0M123.7 232.2h0M81.4 309.3h0M138.7 222.5h0M152.5 232.5h0M139.7 265.5h0M113.8 289.2h0M126.6 229.4h0M65.4 310.4h0M128.3 220.4h0M91.1 253h0M66.3 261.3h0M135.6 214.7h0M42.2 314.7h0M143.6 257.7h0M68.1 276.4h0M34.4 317.2h0M101.1 248.5h0M123.8 302.6h0M152.4 237.4h0M124 284.7h0M117.9 207.4h0M86.7 302.8h0M153.7 233.4h0M150.1 239h0M57.9 327.6h0M91.3 299.7h0M136.1 270h0M133.1 270.6h0M154.5 229.4h0M110.4 199.8h0M152.7 228.2h0M92.3 306.3h0M113.6 238.4h0M40.1 312.7h0M81.7 259.5h0M89.7 302.1h0M45.3 318.8h0M147.6 217.8h0M56.9 320.2h0M164 212.1h0M122.6 281.7h0M102.2 294.1h0M101.7 245.1h0M83.6 254.4h0M47.3 294h0M66.4 314.1h0M42.4 297.4h0M120.4 231.6h0M40.6 304h0M41.4 288.4h0M94.7 304h0M133.2 267.7h0M138.1 265.6h0M143.9 255.2h0M36.8 329.8h0M159.2 232.8h0M138.1 259.9h0M40.1 306h0M94.8 308.8h0M56.9 324.9h0M93.2 250.9h0M36.5 319.5h0M38.7 306.7h0M118.1 235.4h0M43.3 291.9h0M31.4 321.1h0M91.8 233.5h0M98.3 248.4h0M90.6 299.6h0M74.4 305.6h0M96.3 306.4h0M36.4 296.7h0M144.3 253.2h0M147.2 249.7h0M90.4 256.5h0M47.4 315.5h0M62.6 280.7h0M72.2 306.9h0M106.3 240.7h0M153.8 246.9h0M76 266.6h0M56.8 281.2h0M62.1 313.4h0M138.1 221.1h0M85.3 262h0M99.6 300.7h0M144.8 256.7h0M85 259.3h0M127.1 295.3h0M41.8 316.2h0M42.4 296.2h0M150.1 239h0M46.1 296.1h0M91.7 303h0M129.7 290.6h0M72.8 308.7h0M41.2 315.2h0M41.3 318.8h0M48.1 319.9h0M111.4 286h0M92 252.4h0M153.3 220.6h0M62.2 313.8h0M32.6 296.1h0M142.4 267.6h0M137.8 219h0M64 314.3h0M32.1 310.9h0M103.9 246h0M99.2 317.1h0M123 286.8h0M36.5 304.6h0M120.6 283h0M37.2 308.4h0M66.4 309.2h0M120.4 296.9h0M64.3 272.2h0M36.4 327.3h0M150.7 236.3h0M111.3 294h0M41.5 313.5h0M73.7 271.5h0M119.1 219.8h0M56.7 330.1h0M81.1 258.6h0M43.4 302.7h0M61.8 315.2h0M96.4 228.3h0M128.7 226.5h0M88.2 306.2h0M154.2 224.4h0M95.1 304.5h0M153.4 239.5h0M59 332.5h0M82.2 302.4h0M73.8 262.8h0M123.4 301h0M135.4 267h0M126.9 229.1h0M124.9 294.6h0M70 320h0M38.7 299h0M63.7 275.1h0M42.1 311.4h0M118.5 291.3h0M42.3 304.6h0M57.3 281h0M108.6 241h0M116.8 288.7h0M129.7 271.5h0M119.3 234h0M53.2 316.6h0M50.6 288h0M151.5 236.4h0M112.8 296.4h0M80.9 266.3h0M40.9 304.2h0M47.4 285.6h0M38.9 303.8h0M30.1 328.1h0M141.9 268.3h0M34.9 313.8h0M62.4 278.8h0M96.9 251.5h0M73.9 228.3h0M46.5 315.4h0M69.7 310.6h0M64.6 279.8h0M118.9 300.3h0M109.4 238.7h0M102.2 238.4h0M152.1 241.6h0M105.2 294.3h0M133 272.4h0M112.3 292h0M145.6 249.2h0M83.3 259.8h0M138.2 262.6h0M50 282.3h0M103.5 296.8h0M149.5 242h0M79.1 266.5h0M38.8 269.8h0M44.1 296.1h0M79.4 254.1h0M111.5 285.7h0M82.6 303.8h0M68.1 266.9h0M155.3 204.9h0M42.1 307.6h0M91.8 305.1h0M74.3 267.2h0M108.9 207.3h0M46 294.6h0M88.9 252.1h0M31.1 307.1h0M34 305.3h0M87.5 316.8h0M139.7 260.7h0M92 248.2h0M152 226.8h0M143.4 253.2h0M147.6 245.3h0M50.8 317.3h0M135.4 226.8h0M37.5 331.6h0M135.7 226h0M47.1 314.5h0M130.9 302.4h0M132.6 227.9h0M60.3 310.4h0M82.4 265.1h0M128.4 282.6h0M38.6 311.7h0M44.4 297.3h0M102.5 248.2h0M56 322.9h0M32.2 308.6h0M137.1 217.8h0M92.7 255.7h0M110.6 235.4h0M91.2 313.2h0M140.4 221.9h0M49.8 314.9h0M67.5 276.1h0M42.3 303.6h0M131.3 223.4h0M101.5 295.4h0M133.4 287h0M147.1 217.6h0M87.9 255.4h0M94.8 302.7h0M53.8 319h0M70.6 270.1h0M77.4 253.8h0M84.9 302.8h0M125.6 284.9h0M49.6 287.3h0M113.2 220.2h0M78.5 320.8h0M61.8 242.5h0M86.9 259.3h0M127.4 228.9h0M96.8 237.9h0M121.4 288.1h0M110.8 296.4h0M55.3 312h0M90.9 300h0M94.3 315.8h0M63.6 275.2h0M62.3 316.8h0M154.4 231.4h0M52.1 278.8h0M154 246.2h0M104.8 243.6h0M78.9 265.6h0M152.2 230.5h0M129.2 229h0M59.8 316.3h0M70.5 267.3h0M114.7 286h0M148.4 246.6h0M36.4 296.3h0M33.2 335.2h0M135.6 225.2h0M137.9 225h0M108.5 305.5h0M115.4 235.8h0M114.8 235.4h0M131.2 295.7h0M143.3 255.2h0M77.4 263.2h0M96.1 251.9h0M60.1 315.4h0M46.5 316h0M116.9 235.9h0M151.4 215.4h0M100.4 295.7h0M112.2 291.5h0M67.3 309.5h0M146.6 254.9h0M119.4 281.1h0M131.2 226.7h0M119.9 289.8h0M131.1 220.2h0M53.3 313.4h0M125.3 225h0M95.1 246.7h0M124.9 280.5h0M126.5 283.1h0M136.7 263h0M60.3 278.1h0M144.9 251.1h0M124.7 231.6h0M43.8 296.1h0M53.8 279.8h0M80.8 263.4h0M139.1 259.4h0M69.5 307.9h0M127.6 273.6h0M121.8 296.4h0M66.5 309h0M132.4 267.5h0M65.6 311.7h0M84 260.3h0M38.7 304.1h0M104.7 292.7h0M85.8 309h0M141.4 257.2h0M116.2 236.1h0M107.7 295.8h0M121.5 279.1h0M66.8 274.9h0M108.7 290.2h0M86.8 309.5h0M36.3 326.3h0M98.5 249.2h0M27.3 312h0M130.4 213.6h0M111.1 241.2h0M143.2 222h0M92.1 302.5h0M45.1 298.8h0M30.5 325.9h0M102.9 243.3h0M122.3 232.7h0M45.2 316.4h0M155 223.9h0M64.6 314.2h0M47.2 294.6h0M72.3 273.1h0M149 202.8h0M88.8 255.5h0M100.5 245.5h0M115.8 203.1h0M59.6 283.9h0M95.7 253h0M34.5 329.6h0M117.4 290h0M129.8 229.3h0M80 216.7h0M95.6 313.7h0M144.7 268.7h0M88.8 254.2h0M126.9 230.7h0M60.7 267.5h0M113.1 235.9h0M28.3 328.9h0M122 288.5h0M24.5 312.5h0M117.5 232.5h0M31.7 307.7h0M158 216.9h0M49.6 314.3h0M127.5 224.2h0M44.5 314.5h0M163.3 215.7h0M56.5 286.1h0M130.5 271.7h0M54.7 288.1h0M126.9 278.2h0M49.2 314.2h0M76 267.4h0M114.4 236.8h0M141 265h0M81.8 265.5h0M44.9 327.1h0M41.2 324.4h0M138 222.8h0M71.8 318.6h0M91.9 256.5h0M69.4 272.3h0M134.1 272.8h0M93.5 255.2h0M80 310.6h0M44.1 304.5h0M49.3 291.5h0M151.3 234.5h0M107.1 290.3h0M145.9 222.5h0M102 305.3h0M61.8 274.2h0M135.9 264h0M114.9 283.6h0M67.5 271.9h0M32.6 303.9h0M108.5 240.5h0M43.1 302.1h0M64.2 275h0M84.4 301.4h0M105.1 293.7h0M156 221.2h0M136.3 225.2h0M46.8 286.7h0M102.5 330h0M100.6 250.4h0M86.5 308h0M92.9 325.7h0M139.6 223.5h0M150.8 249.3h0M55.6 280h0M66.9 309h0M72.4 307.1h0M129.9 272.6h0M118.1 230.5h0M143.3 253.4h0M68.1 312.4h0M71.9 267.1h0M67.7 276h0M148.8 249.5h0M57.2 286h0M102 244.9h0M144.2 264.6h0M150.2 246.5h0M97.5 311.1h0M65.7 320.8h0M104.6 238.6h0M87.3 255.6h0M111.3 238.5h0M100 247.5h0M122.9 293.3h0M47.6 321.7h0M109.6 286.3h0M47.2 314.1h0M156.5 243.3h0M73.6 305.7h0M136.7 261.5h0M94.5 249.9h0M41.9 310.8h0M151.2 219.9h0M113.4 219.6h0M74.5 309.9h0M157.9 210.8h0M127.6 289.1h0M119.3 234.2h0M92.2 254h0M123.9 278.9h0M120.8 233.1h0M82.2 311.8h0M149 247.8h0M28.8 309h0M133.2 272.8h0M111.4 284.7h0M90.8 257.5h0M103.1 292.9h0M140.4 262.5h0M61.6 314.8h0M112.2 224.3h0M123.6 233.5h0M64.6 310.5h0M83.3 260.6h0M78.8 311.3h0M111.5 296.7h0M137.2 261.1h0M69 265.5h0M150.4 220.3h0M132.3 280.3h0M78.2 264.8h0M93.9 303h0M112.7 237.8h0M127.4 227.3h0M149.7 218.8h0M50.2 292.4h0M102.3 311.2h0M58.7 325.2h0M153.8 232.3h0M61.2 274.2h0M66.1 317.9h0M71.7 271.4h0M69 269.1h0M57.3 274.5h0M137.1 264.7h0M108.8 211.5h0M35.8 337.4h0M107.8 289.2h0M109.9 288.5h0M29.3 307.1h0M92.1 300.4h0M101.4 223.4h0M55.9 319.8h0M35.5 314.3h0M140.4 274.4h0M96.2 297.3h0M86.1 260.5h0M31.7 314.7h0M114.7 230.7h0M131.4 272.6h0M47.9 293.6h0M119.6 283.1h0M48.1 316.3h0M113.9 287.1h0M38 327.4h0M149.7 244.9h0M69.2 271.9h0M112.8 225.3h0M55.7 286.6h0M41.8 308.2h0M60.6 267.4h0M55.7 281.6h0M46.4 296.5h0M123.4 282.1h0M111.3 285.7h0M147.3 215.1h0M38.8 291h0M157.3 216.7h0M36.9 313.8h0M43.5 304h0M149.9 273.3h0M154.2 213.8h0M103.8 291.5h0M84.6 307.9h0M151.8 219.9h0M75.7 260.3h0M93.5 301.4h0M53.1 286.3h0M79.6 257.9h0M94.9 253h0M126.8 296.3h0M50.5 317.1h0M124.7 279.3h0M157.3 219h0M136 222.8h0M55.1 278.9h0M133.9 269.3h0M115.1 231.5h0M132.8 266.9h0M114.7 291.1h0M63.7 311.8h0M90.6 231.1h0M63.2 279.7h0M101.7 294.1h0M139 223.3h0M66.6 274.2h0M144.1 219.1h0M45.8 298.8h0M42.3 293h0M146.4 251.7h0M146.5 249.8h0M161.5 226.5h0M129.5 273.1h0M166.1 214.1h0M76.4 315.3h0M34.1 283.8h0M115.7 234.3h0M130.8 273.9h0M113.8 286.3h0M39.9 304.9h0M71.6 270.4h0M154.8 242.2h0M104.6 242.9h0M64 317.1h0M66 265.5h0M102.8 309.1h0M130.9 271.2h0M68.1 308.3h0M137.7 260.5h0M96.2 250.1h0M71.4 271.1h0M49.1 293.2h0M63.3 316.5h0M39.8 303.8h0M110.6 286.1h0M87.2 302.5h0M35.3 299.5h0M134 270.3h0M40.2 293.2h0M98.8 303.4h0M54.8 280.6h0M153.5 228.2h0M153 241.4h0M81.3 306.5h0M145.9 252.6h0M106.9 235.8h0M114.7 236.2h0M99.5 250.2h0M64 310h0M81.5 264.2h0M109 289.9h0M49.7 315.9h0M84.7 262.8h0M124.4 224.9h0M87.7 307.6h0M102.1 247.1h0M37.2 318h0M44.8 336.3h0M121.9 228.1h0M68.9 308.6h0M112.4 295.9h0M150.3 244.2h0M31.5 325.8h0M148.3 270.3h0M47.2 315.9h0M81.6 251.7h0M41.7 296.7h0M79.9 246.1h0M41.8 321.9h0M153.9 223.3h0M115.8 226.4h0M43.5 294.8h0M93.5 251.1h0M53.4 312.6h0M37.3 302h0M55.1 287.4h0M133.3 224.9h0M86.2 215.6h0M128.1 281.3h0M104.5 300.6h0M122 231.7h0M96 250.1h0M72.3 312.7h0M147.8 221.9h0M111.8 285.9h0M153.9 222h0M67.5 275.5h0M97.1 251.8h0M57.7 320.6h0M59.9 267.7h0M108.2 295.1h0M118.9 225.6h0M97.9 240.2h0M145.6 252.7h0M52.6 316.4h0M109 230.8h0M49.9 314.1h0M42.2 313.4h0M77.3 306.4h0M57.7 277.5h0M83.4 262.4h0M147.4 250.3h0M42.4 290.1h0M34 314.6h0M111.2 302.3h0M149.9 239.4h0M156.1 222.7h0M109.8 224.2h0M111.8 292.5h0M45.3 293.7h0M43.5 318.6h0M43.5 291.1h0M140.2 219.8h0M72 323.7h0M49.9 318.2h0M154.9 218h0M40.2 316.5h0M34.8 326.3h0M145.9 219.5h0M44.2 323.1h0M128.4 280h0M153 225.8h0M65.7 311.8h0M49 319h0M126 276.4h0M31 339.1h0M94.9 253.7h0M63.2 277.7h0M128.4 282.8h0M150.5 249.4h0M154.4 225.6h0M106.1 290.3h0M48.9 294h0M82 305h0M125.6 231.6h0M111.5 328.6h0M52.9 290.5h0M133.4 226.5h0M97.7 250.7h0M50.7 291.9h0M123.7 285.6h0M74.7 311.6h0M114.2 289.1h0M34.5 314.6h0M91.8 254.1h0M42.5 305.1h0M37.6 313.5h0M125.1 281.2h0M41.8 307.7h0M139.4 259h0M138.4 262h0M95.8 299.5h0M41.9 282.5h0M112.5 291.9h0M123 233h0M103.6 240.8h0M33.4 340.7h0M130.3 228.3h0M90.5 250.6h0M155.5 235.2h0M42.8 318.8h0M147.2 254.5h0M135.2 222.9h0M72.5 268.8h0M142.8 254.6h0M119.3 295h0M116 282.6h0M50.5 286.7h0M149 242.7h0M40.4 308.4h0M170.4 224.9h0M128.5 276h0M69.3 309.7h0M109.6 293.7h0M106.9 289h0M62.2 280.5h0M151.9 224.6h0M134.1 279.1h0M132.8 227.2h0M52.8 323.4h0M45.4 296.8h0M93.2 303.7h0M28.8 304.7h0M139.5 221.2h0M112.2 211.9h0M110.5 294.2h0M66.1 309.7h0M62.2 277.5h0M105.8 302.5h0M97.7 251h0M87.7 306.3h0M119.4 295.9h0M105 291.2h0M32.8 323.8h0M40.9 313.3h0M142.6 254.5h0M77.1 267.4h0M131.8 269.4h0M90.9 251.4h0M50.7 291.7h0M42.7 285.6h0M98.3 298.4h0M46.5 290.7h0M80.6 303.2h0M49.7 292.8h0M126.8 294h0M151.6 227.5h0M38.9 318.4h0M33.8 320.7h0M41.2 297.1h0M44.8 279.5h0M108.2 291.9h0M109.9 240.3h0M141.3 255.8h0M82.1 305.2h0M110.4 286.7h0M88.6 259.5h0M158.8 238.2h0M109.8 296.6h0M147.4 218.9h0M91 312.5h0M86.4 259.9h0M45.3 295.6h0M44.9 296.5h0M126.7 279.2h0M115 230.6h0M129.8 227.3h0M128.4 272.8h0M92.5 300h0M47.2 293.7h0M99.8 244.7h0M40.9 314.4h0M45.6 305.1h0M53.4 318.3h0M39.2 307.2h0M129.7 274.4h0M49.8 321h0M32.7 289.7h0M69.5 311.1h0M149.2 243.4h0M76.1 265.5h0M82.8 261.8h0M52.6 285.5h0M76.1 264.2h0M90.3 302.4h0M71.5 273.2h0M108 237.1h0M147.9 253h0M122.5 233.7h0M116.9 236.5h0M48.4 296.4h0M119.3 230h0M128.3 277.3h0M93.1 255.5h0M131.7 228.3h0M73.2 266.1h0M137.3 261.2h0M46.8 293.7h0M137.5 223h0M139.6 271.3h0M91.5 302.9h0M31.3 323.5h0M115.1 285.7h0M69.1 273.9h0M61.8 280.3h0M142.9 259.8h0M31.4 320h0M101.4 249.6h0M139.1 268.8h0M55.6 286.4h0M41.8 325h0M127.2 227.8h0M63.7 275.7h0M143.9 251.5h0M146.4 250.8h0M41.8 295.8h0M81.4 303.4h0M43.2 291.5h0M120.4 234.2h0M103.9 242.4h0M97.9 296.4h0M109.1 236.3h0M42.7 301.5h0M101.2 246.7h0M102.7 321.1h0M114 291.3h0M45 294.4h0M81.8 304.1h0M53.8 278.7h0M33.2 281.9h0M138.9 218h0M149.3 254.8h0M58.7 313.1h0M90.8 255.5h0M154.5 209.9h0M91.2 302.9h0M40.2 311.8h0M44.1 295.6h0M133 226h0M157.2 240.5h0M78.6 305h0M132.6 228.1h0M83.4 302.6h0M98.8 250.3h0M90.5 301.6h0M74.6 266.1h0M30.2 329.6h0M124.4 283.1h0M60.3 262.8h0M108.3 290.4h0M42.4 306.7h0M53.3 289.6h0M44.7 302.2h0M148 222.1h0M55.4 315.4h0M50.3 291.2h0M134.5 268.7h0M124.6 295.2h0M46.6 292.1h0M103.6 243.1h0M144.4 252.2h0M30.4 284.9h0M94.2 302.8h0M141.9 270.9h0M160.2 227.9h0M122.6 228.2h0M147 269.5h0M101.1 311.5h0M142.8 256.8h0M51 313h0M89.4 311h0M157.8 212.5h0M32.4 309.9h0M43.1 298h0M43.6 293.9h0M150.3 240h0M41.2 308.3h0M126.8 279.5h0M112.9 236.4h0M104.8 246h0M56 320.6h0M59.5 274h0M56.7 317.4h0M101.7 305.8h0M51.2 318.8h0M87.8 303.9h0M132.4 290.7h0M32.6 283.4h0M137.6 224h0M74.9 308.7h0M74.6 306.3h0M149.4 218.7h0M69.3 272.2h0M143.6 221.9h0M159.9 236.8h0M72.6 247.2h0M140.8 222.1h0M56.7 312h0M87.9 321.4h0M84.8 257.1h0M80.5 312.9h0M96.8 300.7h0M111.1 298h0M127.2 281.9h0M106.7 201.6h0M151.1 246.9h0M81.3 265.3h0M70.5 314h0M76.2 265.8h0M114.2 236.5h0M103.6 331h0M30.9 324.8h0M137.2 261.2h0M96.6 306.8h0M110.6 242h0M121.3 282.1h0M98 308.6h0M147.3 257.7h0M89.9 250.9h0M53.7 312h0M123.8 285.7h0M126.9 285.3h0M71.5 309.3h0M90.9 298.8h0M134.1 276.8h0M64.7 273.7h0M104.4 241.5h0M56.8 275.2h0M28.4 313.6h0M30 304.9h0M35.7 295.5h0M64.6 275.7h0M102.7 245.2h0M94.8 297.7h0M30.4 307h0M84.9 254.3h0M65.5 275.4h0M139.9 224.4h0M115.4 285.3h0M48.4 319.1h0M143.8 261.1h0M122.7 291.6h0M131.3 286.1h0M93.2 245.8h0M49.7 290.8h0M154.8 226.5h0M149.9 282.8h0M122.2 282.8h0M37.9 306.2h0M28.3 310.7h0M78.8 305.6h0M56.4 274.6h0M39.8 311.1h0M113.5 227.9h0M52.9 290.6h0M137.3 265.1h0M114.3 284.7h0M111.7 287.7h0M166.4 230.3h0M91.1 238.7h0M57.5 282.7h0M50.9 290.4h0M147.6 223h0M59 311.8h0M117.9 282.6h0M47.7 292.3h0M116.8 236.7h0M129.4 219.4h0M116 299.7h0M113.7 285h0M137.6 274.4h0M66.1 310.3h0M132.6 284.8h0M117 236.2h0M134.2 275.4h0M63.6 310.4h0M88.1 257.9h0M36.8 325.9h0M86.1 261.4h0M85.8 256.6h0M136.7 281h0M54.8 270.5h0M32.6 310h0M100.7 314.1h0M40.7 315.3h0M153.1 225.7h0M50 285h0M99.3 295.3h0M93.7 310.1h0M31.2 322.4h0M166.2 220.5h0M92.3 312.9h0M152.8 226.9h0M58.7 310.9h0M30.6 321h0M31.3 302.8h0M106.5 227.8h0M151.3 220.7h0M62.4 280.4h0M40.8 332.8h0M107.5 310.1h0M158.2 238.9h0M100.1 307.8h0M93.7 300.3h0M141.9 254.7h0M59.2 314.4h0M95.4 249.6h0M33.1 323.4h0M155.7 208h0M152.8 225.7h0M137.7 269.7h0M151.7 237.8h0M157.5 216.4h0M94 306.5h0M144.5 264.7h0M140.6 212.9h0M149.9 207h0M91.9 253.9h0M57.4 283.6h0M59.1 279.1h0M66.4 267.6h0M96.3 242.4h0M66.3 308.6h0M130.7 288.4h0M88.9 256h0M47.8 292.4h0M42.5 327.4h0M34.3 321.4h0M29.9 303.5h0M144.2 259.8h0M69.7 307.4h0M156 219.1h0M133.5 276.3h0M124.8 230.9h0M134.4 273.7h0M65.2 276.8h0M73.5 271.6h0M111.9 296.2h0M43.7 283.9h0M35.1 321.5h0M132.3 224.9h0M65.7 315.9h0M47.5 289.2h0M62.7 311h0M41.7 293.8h0M30.7 313.5h0M24.9 298.9h0M115.4 291.1h0M58.1 281.2h0M41.1 292h0M35.9 291h0M106.1 290.2h0M124.1 230.6h0M145.3 249.7h0M31.2 307.9h0M82.5 307.6h0M157.3 239.4h0M79 306h0M156.8 224.1h0M150.7 223.1h0M78.5 267.4h0M91.7 303.9h0M40.5 317.9h0M70.8 314.2h0M141.7 222.9h0M150.4 222.5h0M127.3 276h0M122.5 289.3h0M101.5 307.8h0M139.7 216.6h0M141.7 216h0M76.5 268.5h0M127.6 274.7h0M121.2 295.6h0M87.9 303.6h0M156.2 224.3h0M45.9 331.7h0M80.3 304.3h0M115.4 236.8h0M156.8 208h0M148.4 219.9h0M130.4 271.4h0M80.6 254.4h0M154.3 220.6h0M136.2 262.7h0M152.5 230.7h0M100.2 250.1h0M50.1 285.5h0M93.1 301.9h0M122.8 299h0M83.2 302.4h0M86.4 259.4h0M147.4 248.1h0M70.4 258h0M117.1 237h0M112.9 224.4h0M116.8 284.6h0M137.8 221.2h0M117.4 284.7h0M70.4 311h0M33.9 300.8h0M147.9 251.4h0M144.6 223.4h0M55 313.9h0M158.6 210.2h0M37.9 292.7h0M49.2 316.3h0M114.7 293.2h0M48.7 320h0M97 300h0M128.7 273.1h0M88.6 322.1h0M34.4 292.6h0M137.4 265h0M85.8 259.8h0M68.7 308.4h0M120.2 287.8h0M90.2 303.3h0M105.7 243.6h0M148.7 245h0M114.5 238.7h0M25.8 304.1h0M71.9 306.6h0M40.1 289.5h0M75.1 268.5h0M149.4 255.9h0M69.5 313.3h0M155.1 228.6h0M78.7 261.6h0M72.3 270.9h0M52.4 286.7h0M131.9 270.5h0M101.2 292.9h0M95.9 298.7h0M49.7 288h0M62.2 313.7h0M122.8 281.6h0M154 238.6h0M115.9 237.4h0M64.9 278.9h0M136.9 267h0M118.1 235.6h0M112.2 237.5h0M118.2 215.1h0M150.9 216.4h0M27.7 249.7h0M156.4 226.6h0M133.6 224.4h0M41 325.6h0M103.2 296.4h0M149 220.9h0M121.9 309.3h0M82.3 305.2h0M102.6 248.3h0M47.3 321.2h0M169.6 202.4h0M64.8 276.3h0M128.3 274.6h0M139.6 261.4h0M71.5 269.2h0M131.8 284.6h0M109.1 290.8h0M52.4 281.5h0M67.1 307.9h0M64.9 277h0M131.4 225.4h0M128.2 287.7h0M44.3 298.2h0M113.6 284.5h0M96.2 314h0M71.4 270h0M107.5 293.6h0M85.6 301.1h0M146.4 222.4h0M150.6 247.9h0M74.1 305.8h0M77.3 266.9h0M149.4 242.3h0M51.2 284.4h0M61.4 281.7h0M36.2 315.6h0M58.7 314.7h0M133.6 269.8h0M103 308.8h0M111.3 295.9h0M152.7 241.5h0M115.5 238.5h0M116.7 235.1h0M37.2 319.6h0M84.2 301.1h0M152.9 232.5h0M104.6 302.6h0M94.2 305.3h0M90.9 257.5h0M107.6 298.8h0M98.2 251.5h0M118.5 282.4h0M42.1 323.5h0M48.3 290.1h0M107.2 242.6h0M32.7 304h0M132.1 270.4h0M68.7 307.3h0M108.3 241.4h0M82.4 305.9h0M125.5 228.1h0M132.6 267.2h0M94.5 299.6h0M88.6 300.7h0M40.8 312h0M40.3 312.4h0M98.9 299h0M81.8 309h0M157.8 223.8h0M116 298.1h0M151.1 243.2h0M35.5 314.4h0M125.6 285.7h0M110.2 287.8h0M78.4 255.6h0M148.3 245.5h0M69.7 248.2h0M66.5 308h0M119.2 289h0M34.4 322.8h0M35.5 311.9h0M32.7 307.9h0M153.5 236.6h0M147.5 219.4h0M30.9 332.7h0M126.2 277.6h0M83 302.9h0M144.7 216.3h0M64.6 310.2h0M137 272.6h0M97.7 297.1h0M95.2 343.2h0M89.2 241.8h0M37.9 293.9h0M139.3 273.6h0M29.9 318.9h0M125.8 228.2h0M135.6 274.7h0M111.3 232.1h0M143.2 260.6h0M153.1 209h0M123.4 281h0M93.6 255.3h0M130.6 226.1h0M139.5 264.4h0M152.7 233.3h0M87.5 305.8h0M105.4 237.2h0M148.2 251.4h0M132.3 267.5h0M55.4 313.7h0M40.8 305.8h0M133.5 271.2h0M76 268.8h0M40.2 325.9h0M79.8 306.2h0M26.8 309.7h0M117.7 219.4h0M40.4 315.4h0M63.1 277.6h0M58.8 255.2h0M143.8 214.7h0M54 317.7h0M152.4 219.7h0M59.3 311.9h0M69.7 260.4h0M97.6 249.9h0M66.9 309.7h0M124.8 229.3h0M64.7 310.1h0M49.4 293.4h0M42.6 309.1h0M131.6 292.5h0M154.7 215.6h0M128.6 276.3h0M134.4 271.5h0M90.8 257.5h0M127.9 273.4h0M119.9 213.1h0M45.8 314h0M152.2 233.5h0M126.2 277.8h0M111.1 239.8h0M153.5 228.1h0M100.3 217.5h0M39.5 309.3h0M39.8 306.5h0M104.5 245.5h0M121.2 289h0M39 323.7h0M126.2 195.9h0M135.1 266.9h0M37.2 319.7h0M38.8 314.4h0M45.4 324.2h0M136.3 271.9h0M154.1 222.5h0M121.6 290.2h0M152.4 234.3h0M102.7 293.8h0M94.9 307.4h0M89.9 311.8h0M51.8 288.1h0M104.9 292.7h0M125.5 230.8h0M102.3 292.4h0M114.8 284.1h0M120.6 232.7h0M130.1 271.1h0M96.7 304.8h0M131.7 229.1h0M37.3 315.2h0M46.4 314.7h0M86.6 254h0M75.3 267.8h0M120 283.7h0M112.3 293.1h0M93 252.7h0M132.5 271.4h0M90.9 236.6h0M133.3 218.8h0M99.6 298h0M95.6 235.8h0M75.2 270.5h0M68.9 307.3h0M75 310.4h0M49.2 293.3h0M67.6 309.4h0M111.4 238.9h0M71 274.5h0M145.3 249.2h0M39 308.5h0M121.4 306.7h0M101.8 304.7h0M39 304.9h0M76.2 267h0M104.1 246h0M44.9 306.6h0M44 292.3h0M65.8 309.7h0M75.5 308.6h0M148.8 220.4h0M154.5 231.4h0M102.4 294.8h0M49.9 286.5h0M150.6 213.7h0M65.6 267.2h0M157.6 230.7h0M153.9 225.6h0M67.3 314.1h0M139.5 261.6h0M132.3 273.3h0M45.4 294.4h0M84.9 263.1h0M76 315.1h0M43.2 313.7h0M36.8 303.5h0M58.3 278.3h0M92.1 254.8h0M40 319.1h0M68.3 261.4h0M149.6 250.5h0M126.5 286.9h0M84.3 261.5h0M118 288.1h0M87 260.8h0M99.9 241.1h0M33.5 308.1h0M151.9 231.6h0M146.8 250.2h0M147.8 245.3h0M68.6 309.2h0M123.4 284.8h0M128.6 273.9h0M137.8 275.9h0M44.5 293.4h0M144.1 223.7h0M28.8 298.9h0M149.9 247.4h0M128.6 279.3h0M110.7 290h0M96.5 251.7h0M44.5 319.4h0M96.2 238.5h0M93.6 309.4h0M94.5 253.9h0M152.3 212.2h0M161.5 230.2h0M83.5 263.6h0M69.9 307.5h0M163.9 219h0M55.7 313.6h0M158.7 225.6h0M60.2 312.8h0M102.5 245.5h0M84.2 324.2h0M43.8 292.8h0M131.9 213.3h0M155.3 250.7h0M102.6 299.9h0M152.8 230.7h0M126.1 276.7h0M53.1 317.4h0M27.5 318.5h0M133.1 267.5h0M81.9 257h0M47 292.4h0M153 223.4h0M154.1 229.2h0M88.2 305.5h0M83.6 302.1h0M112.1 240.8h0M65 277.2h0M82.9 305.1h0M45.3 296h0M96.1 251.9h0M71.7 274h0M84.6 260.7h0M152.6 234.3h0M44.3 310.7h0M51.5 289.1h0M45.1 304h0M149.5 258h0M49.1 292.7h0M45.3 313.5h0M122.8 317.1h0M60.7 311.3h0M118 226.1h0M139.2 259h0M125.3 225.6h0M146.4 210.1h0M150.6 245.5h0M55.4 284.5h0M91.9 299.2h0M101.8 247.5h0M61.7 262.8h0M167.4 221.9h0M37.2 310.9h0M123 286.8h0M48.3 286.4h0M39.7 293h0M99.4 297.1h0M128.1 273.3h0M150.9 235.7h0M140 218.7h0M150.6 273.5h0M90 333.2h0M104.4 235.8h0M143.9 217.4h0M125.7 221.5h0M89.6 342.6h0M147.8 223.2h0M54.4 284.9h0M111.6 300.8h0M132.7 268.8h0M69.6 259.4h0M34.5 299.7h0M71.1 266.6h0M84.3 301.7h0M70.9 308.2h0M156.6 221.7h0M71.5 262.9h0M69.8 266h0M71.5 254.6h0M112.3 238.6h0M71.5 273.2h0M105.2 292.2h0M130.9 270.7h0M77 254.1h0M83.3 254.6h0M42.6 311.8h0M129.8 270.9h0M82.4 310.5h0M34.1 317.4h0M116 222.5h0" stroke="#dc143c" stroke-width="2.50" stroke-linecap="round" fill="none"/>
<line x1="25.8" y1="346.8" x2="172.6" y2="197.5" stroke="#3a35d0" stroke-width="1.2"/>
<rect x="19.6" y="193.6" width="35" height="10.2" rx="0.8" fill="#fff" fill-opacity="0.8" stroke="#d8d8d8" stroke-width="0.5"/>
<line x1="21.4" y1="196.2" x2="27.8" y2="196.2" stroke="#3a35d0" stroke-width="0.9"/>
<circle cx="24.6" cy="200.6" r="0.9" fill="#c0102e"/>
<text x="29" y="197.2" class="lg">R-squared=1</text>
<text x="29" y="201.6" class="lg">R-squared=0.70</text>
<rect x="18.4" y="192.4" width="161.6" height="160" fill="none" stroke="#c8c8c8" stroke-width="1.5"/>
<text transform="translate(290.4 190.5) scale(1 1.15)" class="t">KNN Autumn</text>
<line x1="233.1" y1="352.3" x2="233.1" y2="353.5" class="tk"/>
<text x="233.1" y="356.9" class="xl">0.2</text>
<line x1="265.7" y1="352.3" x2="265.7" y2="353.5" class="tk"/>
<text x="265.7" y="356.9" class="xl">0.4</text>
<line x1="300.5" y1="352.3" x2="300.5" y2="353.5" class="tk"/>
<text x="300.5" y="356.9" class="xl">0.6</text>
<line x1="334.1" y1="352.3" x2="334.1" y2="353.5" class="tk"/>
<text x="334.1" y="356.9" class="xl">0.8</text>
<line x1="368.2" y1="352.3" x2="368.2" y2="353.5" class="tk"/>
<text x="368.2" y="356.9" class="xl">1.0</text>
<line x1="209.5" y1="332" x2="210.7" y2="332" class="tk"/>
<text x="208.5" y="332.9" class="yl">0.2</text>
<line x1="209.5" y1="297" x2="210.7" y2="297" class="tk"/>
<text x="208.5" y="297.9" class="yl">0.4</text>
<line x1="209.5" y1="262" x2="210.7" y2="262" class="tk"/>
<text x="208.5" y="262.9" class="yl">0.6</text>
<line x1="209.5" y1="227.1" x2="210.7" y2="227.1" class="tk"/>
<text x="208.5" y="228" class="yl">0.8</text>
<text transform="translate(290.4 363.5) scale(1 1.12)" class="ax">Observed Values</text>
<text transform="translate(202.6 273.3) rotate(-90)" class="ay">Predictions</text>
<path d="M345.8 222.4 344.1 221.4 342.3 219.1 339.1 218.4 333.3 219.4 326.8 221.9 324.3 222.1 319.1 224.6 317.3 226.6 313.3 228.6 307.3 233.6 304.8 234.9 298.8 240.6 295.3 242.1 293.6 244.9 287.6 248.1 284.8 252.1 282.6 252.9 278.3 255.9 276.3 258.1 264.1 267.1 257.3 274.4 256.6 275.9 251.3 280.6 241.6 293.4 239.3 295.4 238.1 298.6 235.8 301.9 234.3 306.1 232.6 307.9 231.8 309.6 232.1 310.9 233.3 312.1 234.3 317.4 236.8 318.6 238.8 318.6 240.6 317.1 243.3 317.9 251.1 317.9 253.3 316.6 255.3 314.4 259.1 313.6 261.8 311.6 265.6 310.4 269.6 307.6 272.6 306.4 275.3 303.9 277.1 303.6 280.3 301.1 284.1 299.6 287.3 296.6 291.3 294.9 295.8 289.9 299.8 288.1 302.6 284.9 309.6 279.1 310.8 276.9 317.6 271.4 318.8 268.9 323.6 263.9 325.8 259.9 329.6 255.6 332.3 250.6 336.1 246.1 342.8 234.4 346.1 223.9Z" fill="#dc143c"/>
<path d="M339.6 215.6h0M281.5 226.1h0M272.3 261.8h0M328.9 221.6h0M262.3 318.3h0M223.9 310h0M314.6 286.2h0M263 313.6h0M240.8 318.8h0M284 241.2h0M294 244.9h0M317.1 217.8h0M301.1 238.5h0M305.3 295.8h0M239.3 320.2h0M241.7 320.4h0M296.9 240.3h0M241.6 291.6h0M236.3 318.8h0M342.1 250.3h0M252.4 272.9h0M347.5 231.7h0M280.5 300.7h0M251.1 317.4h0M264 262.3h0M224.8 316.7h0M294.4 227.6h0M318.4 266.8h0M322.1 262.1h0M322.2 220.6h0M316 269.3h0M271.4 262.7h0M275.5 253h0M280 303.2h0M339.8 238.1h0M229 314h0M246.5 271.5h0M237.1 320.2h0M256.8 278.3h0M291 298.1h0M247.7 321.1h0M295.5 245.7h0M234.9 322h0M239.6 325.2h0M271.2 263.7h0M268.4 267h0M332.1 269.9h0M235.1 321.7h0M260.2 313.7h0M273.2 234.5h0M253.7 279.1h0M259.9 266.2h0M266.8 265.5h0M343.2 220.5h0M252.2 319.3h0M316.2 227.4h0M339.1 238.6h0M326.9 223.8h0M283.9 220h0M242.9 291.2h0M286.3 253.5h0M259 271.4h0M266.7 267.2h0M285.6 304.1h0M241.6 318.1h0M258.8 271h0M302.5 283.9h0M322.4 223h0M316.6 274.2h0M326.1 260.6h0M313.4 276.2h0M309.3 279.7h0M317.9 267.3h0M291.3 246h0M323.4 260.5h0M232.1 313.3h0M276.1 307.4h0M333 247.3h0M271.9 238.4h0M301.8 285.1h0M247.5 284.5h0M329.3 220.9h0M237.9 320.7h0M230.6 296.2h0M346.9 210.5h0M232.6 299.8h0M339.6 238.3h0M265.9 308.6h0M319.6 220.2h0M308.1 231h0M229.9 317.1h0M269.4 307.3h0M341.1 232.6h0M226.4 324h0M303.1 216.8h0M349.7 224.1h0M300.8 287.5h0M259.9 268h0M343.7 222.4h0M313.5 296.5h0M257.5 267.5h0M313.1 296.1h0M314.9 227.4h0M278.5 254.2h0M299.4 239.7h0M343.9 223.1h0M238.9 323.8h0M281.1 251.2h0M340.6 214.6h0M231.9 311.4h0M290.6 294h0M303.6 295.1h0M284 306.5h0M225.9 332.2h0M305.7 232.8h0M317.1 225.6h0M325.6 221h0M237.5 302.5h0M247.2 279.6h0M345.9 218.1h0M318.8 216.8h0M242.9 317.9h0M285.9 298.2h0M253.2 280.9h0M230 286.5h0M236.4 317.8h0M326.2 214h0M278.7 244.3h0M290.3 302.3h0M272.1 257.7h0M266 266.6h0M229.9 330h0M349.7 218.8h0M222.5 319.1h0M319 268h0M221.8 314.2h0M301.5 290h0M298.3 230.1h0M272.1 304.6h0M345.9 224.4h0M257.1 277.2h0M341.4 217.3h0M287.1 251.9h0M318.1 272.5h0M323 225.2h0M271.1 256h0M343.9 234.3h0M248 275h0M307.7 231.6h0M234.6 296.2h0M244.2 283.4h0M272 257.9h0M291.6 296h0M277.6 302.8h0M332.3 219h0M231 299.1h0M297 300.9h0M269.7 313.9h0M313 278.8h0M259.1 268.7h0M285.8 237.4h0M229.2 315.2h0M340.7 234.8h0M232.1 327.7h0M249.4 282.5h0M238.4 302.3h0M289.7 243.7h0M228.1 297.4h0M298.6 239.7h0M264.5 313.3h0M228.7 306.1h0M324.4 261.4h0M276 254.1h0M235.5 302.5h0M295.8 230.8h0M236.3 306.6h0M242.8 292.5h0M310 202.7h0M274.8 302.6h0M341.7 242.9h0M340 221h0M232.8 309.3h0M218.8 305.1h0M263.3 266.5h0M309.8 274.9h0M231.4 317.4h0M309.4 232h0M263.6 269.9h0M251.9 320.6h0M333.9 251.8h0M328.7 222.3h0M341.2 219.7h0M258.6 273.7h0M346.6 214.9h0M284.5 298.7h0M307.1 228.2h0M234.5 305.1h0M247 280.5h0M312.6 201.9h0M322.6 263h0M251.9 262.2h0M282.2 254.6h0M346.2 207.1h0M270.8 256.6h0M301.7 238.3h0M321.5 267.7h0M316.8 271h0M227.9 305.5h0M296.1 292.7h0M328.8 254.9h0M342.8 247.4h0M288.9 325.7h0M238.5 295.4h0M269.2 311.7h0M338.9 220.9h0M215.7 309.7h0M260.8 313.3h0M264.9 312.5h0M269.1 264.9h0M227 285.9h0M317.9 290.3h0M291.9 292.6h0M281.3 305.5h0M261.3 257.8h0M257 267h0M272.3 248.9h0M239.3 317.3h0M305.5 232h0M254.9 314.3h0M246.6 284.2h0M248.4 328.3h0M346.5 219h0M248.2 286.8h0M283 319.4h0M236.7 316.6h0M236.1 322.4h0M305.6 286.7h0M320.8 222.5h0M291 300h0M236.7 325.1h0M257.3 273.1h0M273.9 306.6h0M301.6 238.2h0M257.3 274.3h0M272.2 261.6h0M317.6 271h0M333.2 217.9h0M243.6 291.4h0M288.3 310.9h0M308.9 290.1h0M239.2 288h0M325.9 257.4h0M299.9 292.5h0M236.1 292.2h0M347.4 226.4h0M344.6 224h0M239.9 315.2h0M288.7 223.2h0M297.4 241.2h0M354 212.1h0M264.8 269.6h0M273.5 311.8h0M328 266.1h0M307.1 220.5h0M238.9 324.9h0M275.9 307.1h0M321.2 215.5h0M335.3 256.8h0M223.2 321.8h0M354.4 223.3h0M229.2 317.6h0M337.9 244.6h0M341.4 235.2h0M293.3 230.7h0M264.7 269.4h0M260 311.1h0M218.6 319.2h0M340.9 243.1h0M345.6 210.2h0M284.3 305.4h0M321.5 225h0M331.2 212h0M340.2 219.1h0M316 275.3h0M235.7 331.3h0M298.7 242.1h0M248 269.7h0M313.7 223.5h0M331.1 255.8h0M241.2 295.1h0M233.9 321.4h0M261.5 310.8h0M298 296.1h0M236.9 322.3h0M328.5 253.3h0M253.8 319.1h0M266.6 263.3h0M239.3 297h0M260.4 316.4h0M340.3 244.2h0M250.9 316h0M258.9 312h0M296.2 245.1h0M346.6 228.6h0M312.8 276.1h0M241.7 317.4h0M245.1 287.9h0M243.4 292.1h0M218.4 322.3h0M345.8 219.8h0M329.2 271.2h0M340.6 210.8h0M251.9 273.3h0M228 300.8h0M228.3 317.9h0M233.7 327.8h0M262.3 265.3h0M223.6 334.5h0M247.7 316.1h0M293 245.2h0M307.2 234.7h0M280.6 255.5h0M256.1 314.4h0M294.4 290.2h0M272.7 320.3h0M237.6 288.3h0M317.6 228.4h0M260.8 268.5h0M283.3 297.3h0M289.4 248.9h0M306.4 280h0M339.9 206h0M304.4 282.2h0M318.3 223.7h0M348.7 221.3h0M342 220.7h0M340.5 220.7h0M231.4 310.2h0M335.7 220.4h0M328 256.9h0M252.5 314.1h0M342.8 230.9h0M350.3 221.5h0M289 293.9h0M250.4 324.1h0M306.7 229.8h0M239.3 296h0M344.7 211.4h0M301.6 199.7h0M270.2 265.4h0M237 292.8h0M316.8 226.5h0M341.7 238.1h0M294.6 308.2h0M322.1 281.6h0M346.9 214.1h0M239.6 315.7h0M291.5 291.5h0M229.4 315.2h0M316.5 268.5h0M251.1 324.2h0M343 234.1h0M236.9 324.9h0M326 260.2h0M256.7 271.9h0M293.1 309.2h0M327.7 255.7h0M341.8 229.9h0M234.1 313.6h0M231.2 316.1h0M258.3 272.5h0M260.9 316.1h0M307.2 224.2h0M232.6 316.6h0M322 263.1h0M281.5 248.9h0M225.9 326h0M234.4 311.3h0M282 255.9h0M326.7 219.5h0M238.8 283.1h0M225.9 313.5h0M259.6 273.3h0M217.7 331h0M217.8 307.3h0M324.7 217.4h0M304.3 280.6h0M311.2 227h0M275.6 256.5h0M297.4 237.4h0M354.5 223.4h0M348 221.2h0M234.2 317.1h0M297.9 235.3h0M238.5 319.5h0M333.9 248.7h0M272 252.3h0M235.3 299.5h0M299.6 233h0M337.9 242.8h0M241.8 316.5h0M338.7 254.6h0M316.5 229.5h0M313.7 279.3h0M279.6 299.3h0M270.8 232.6h0M322.9 268.8h0M235.9 316.7h0M345.5 232.2h0M277 259.8h0M262.3 310.4h0M321.1 224h0M317.5 228.9h0M255.1 275.4h0M248.1 278.4h0M238.4 289.8h0M323.9 265.9h0M306.9 235h0M293.3 240h0M268.3 259.9h0M319.3 222.7h0M341.1 234.3h0M296.8 239.6h0M234.7 313.7h0M307.6 234h0M264.6 309.5h0M239.7 315.4h0M230.7 303.5h0M221.3 310.1h0M343.9 222.1h0M238.9 316.3h0M278.5 230.2h0M274 256.1h0M228.5 313.3h0M271.9 304.7h0M319.6 208.8h0M265.7 254.8h0M324 214.3h0M293 291h0M302.7 294.5h0M268.9 310.5h0M244.8 316.6h0M219.7 328.3h0M320.6 224h0M304.9 284.4h0M251 279.5h0M291.8 293.6h0M313.4 273.4h0M331.7 251.4h0M228.9 299.8h0M293.2 241.2h0M231.1 314.5h0M346.5 215.5h0M254.1 277.7h0M243.3 321.3h0M323.2 259.8h0M225 318.1h0M331.6 263.6h0M229.7 317.9h0M318.8 228.2h0M291.6 237.2h0M265.5 307.6h0M345.4 226.6h0M322.2 261.6h0M323.1 283.2h0M312.4 273.4h0M247 288.7h0M278.5 256.5h0M333 216.5h0M228.5 302.9h0M236.3 306.7h0M308.1 285.4h0M318.9 220.9h0M223.8 336.8h0M341.7 219.9h0M280.8 302.7h0M250.7 281.9h0M229.4 328h0M331.2 248.5h0M224 319.2h0M226.7 320.4h0M237.7 301.5h0M286.1 253.5h0M323.7 271.2h0M260.4 272.6h0M327.9 216.8h0M332.6 254.3h0M318.4 228.5h0M335 219.7h0M271.4 226.5h0M268.8 305.7h0M230.6 310.3h0M338.6 242.9h0M362.3 221.8h0M323.5 263.5h0M258.3 270.4h0M321.5 281h0M253.3 242.2h0M263.1 309.9h0M259.4 272h0M256.7 312.1h0M255 280.1h0M292.6 292.2h0M296.9 294.2h0M279.1 223.7h0M305.2 289h0M314.3 220.7h0M265.3 311.1h0M277.4 303.2h0M224.8 313.7h0M293.7 244.6h0M297.5 292.3h0M320.4 225.1h0M323.9 272.3h0M243.6 283.4h0M333.4 256.9h0M346.9 215.5h0M256.2 273.8h0M306.3 225.2h0M248 288.2h0M236.5 319.3h0M219.3 325.9h0M307.1 282.2h0M234.3 324.8h0M249.4 283.6h0M231.9 317h0M220.4 329.5h0M276.7 303.5h0M248.1 320.2h0M310.3 229.9h0M316.2 227.8h0M302.1 286.3h0M250.1 324.4h0M238.3 329.7h0M311.5 225h0M302.4 238.8h0M288.3 249h0M345 231.3h0M228.7 324.6h0M340.2 259.4h0M227.5 321.1h0M314.8 223.5h0M297.6 288.6h0M282 256.4h0M327.1 259.7h0M246.8 326.2h0M226.6 322.2h0M253 317h0M223.4 329.1h0M338.2 238.6h0M333 219.9h0M252.6 314h0M332.2 248.2h0M329 221.7h0M254.1 313.4h0M282.2 299.9h0M342 236h0M323.5 223h0M283.3 252.8h0M307 199.6h0M318.7 226.1h0M331.6 251h0M235.6 301h0M247.3 283.4h0M319.2 220.3h0M246.5 318.2h0M253.8 281.3h0M223.6 329.2h0M257.2 278.6h0M249 283.8h0M243 293.4h0M293 295.6h0M295.3 222.5h0M303 233.2h0M223 311.8h0M281.1 230.6h0M236.3 302.8h0M312.6 283h0M248.4 281.2h0M334.3 248.6h0M348.7 215.9h0M252.5 318.5h0M239.8 298.9h0M309.3 227.7h0M282.6 245.1h0M263.6 308.7h0M273.5 262.2h0M234.1 322.3h0M336.1 244.3h0M310.2 274.9h0M333.7 250.3h0M265.4 266h0M320.2 214.8h0M290.4 243.8h0M296.8 235.6h0M330.6 211h0M271.4 307.7h0M312.5 231.6h0M259 249.2h0M227.3 310.1h0M252.2 282.4h0M288.6 297.7h0M250.5 274.9h0M260.5 314.1h0M251.9 273.7h0M226.3 325.4h0M277 305.2h0M214.3 342.4h0M294.9 289h0M332.3 248.2h0M305.4 283.8h0M298.5 242.7h0M264.5 311.6h0M312.1 274.4h0M287.4 249.9h0M276 305.9h0M244.8 334.7h0M256.6 270.9h0M349.3 225.6h0M251.8 280.7h0M225 315.3h0M240.1 326.2h0M269.8 262.7h0M346.9 230.3h0M346.1 225.8h0M239.5 317.2h0M337.3 212.8h0M235.7 296.4h0M250.7 277.1h0M292.5 246.5h0M293 222.2h0M303.8 284.3h0M317 270.1h0M337.8 218.2h0M294.4 238.4h0M294.2 298h0M288.9 303.4h0M278.4 243.9h0M289.3 293.6h0M311.1 232.1h0M255.8 314.5h0M253.1 321.7h0M235.7 318.9h0M227.3 330.2h0M333 251h0M302 284h0M295.4 289.7h0M269.3 265.8h0M250.3 271.3h0M240.8 278.6h0M306.7 306.9h0M229.2 318h0M244.3 274h0M333.3 219.6h0M343.9 221.3h0M288.9 250.4h0M246.9 282.9h0M296.7 287.1h0M323.4 215.5h0M341.7 220.3h0M232.5 325.6h0M234.1 307.4h0M253.1 315.6h0M280 257.1h0M350.9 220.4h0M249.4 283.6h0M298.5 306h0M301 235.6h0M285.7 232.2h0M296.3 295.2h0M296.9 302h0M253.2 279.4h0M309.8 301.8h0M317.9 226.9h0M236.9 320.6h0M225.3 315.7h0M237.4 284.7h0M263.8 270.5h0M222 310.3h0M334.2 220h0M239 279.7h0M299.8 291.4h0M236 320h0M233 303.6h0M269.3 318.8h0M217.4 334h0M255.3 280h0M257.7 277.2h0M227.9 321.1h0M329.6 258.1h0M314.9 230.4h0M241.7 284.5h0M263 266.9h0M235.5 305.4h0M283.9 315.4h0M325.1 221.1h0M353.5 222.3h0M229.4 333.1h0M253.7 279.5h0M240.2 294.9h0M229.7 328h0M287 303.7h0M253.2 278.5h0M337.7 220.4h0M312.3 231.7h0M235.4 329.3h0M334.5 217.9h0M248.6 319.3h0M309.3 289.3h0M227.5 303.4h0M228.6 316.1h0M329.3 218.3h0M276.2 260.2h0M292.9 242.5h0M228.6 316.7h0M267 314.2h0M326.9 220.6h0M278 301.2h0M311.3 228.9h0M296.6 305.8h0M262.3 271.7h0M341.8 216.4h0M254.3 315.5h0M230.6 307.4h0M314.8 226.3h0M306.2 327h0M246.2 315.4h0M251.9 281.5h0M334.8 255.2h0M319.1 278.3h0M228.3 316.3h0M270.8 264.7h0M253.6 319.1h0M230.6 304.2h0M319.8 225.8h0M322.1 263.9h0M302 230.2h0M344.4 225.7h0M232.8 322.7h0M333.1 220.2h0M323.6 269h0M291.4 314.7h0M348.2 215.9h0M329 257.1h0M243.2 289.2h0M340.3 236.8h0M315.4 219.5h0M316.9 274.4h0M233.3 302.9h0M243.8 331.8h0M293.2 245.4h0M300.3 229h0M334.4 258.9h0M249.1 272.7h0M287.6 336.6h0M262.8 255.7h0M246.3 288.8h0M353.6 224.2h0M323.3 221.8h0M264.7 314.5h0M234.3 317.5h0M244.2 323.8h0M338.9 238.1h0M278.7 316.2h0M230.5 321.1h0M289.3 237.9h0M342.3 217.6h0M306 279.3h0M275.5 301.6h0M234.3 306.4h0M262.8 264.3h0M350.1 230.6h0M342.7 233.6h0M294 303.8h0M312.5 229.8h0M316.1 271.1h0M261.6 268.5h0M287.8 251.3h0M231.1 312.7h0M316.4 223.4h0M221.7 308.2h0M232.5 320.8h0M278.3 302.4h0M283.4 302.3h0M325.5 214.5h0M275.7 255.9h0M355.6 214.7h0M285.7 297.1h0M327.4 223.7h0M331.9 252h0M241.6 320.8h0M250 315.7h0M238.1 295.9h0M346.8 227.1h0M341.2 210.3h0M239.1 320.9h0M328.5 259.1h0M327 257.2h0M232.8 310.2h0M270.2 264h0M285.7 304.6h0M336.5 214.6h0M262.1 259.2h0M293.9 295.4h0M239.7 317.4h0M343.8 236.4h0M335.2 246.6h0M237 322.1h0M225.7 309h0M277.9 257.1h0M335.2 248.1h0M350.7 222.2h0M254.9 275h0M231.5 332.9h0M319.1 266.7h0M301.1 238.2h0M327.4 258.9h0M281.6 314.5h0M280.2 239.2h0M230.8 311.8h0M333.4 217.6h0M266.5 308.3h0M268.6 306.9h0M333.9 217.7h0M259.3 272.9h0M318.2 272h0M250.5 280.9h0M267.8 263.5h0M283.2 302.8h0M228.1 334.4h0M302.9 237.7h0M241.9 292.6h0M222.9 316.9h0M315.9 215.1h0M285.6 240.2h0M229.3 314.8h0M234.3 307.3h0M288 294.4h0M284.8 297.3h0M342.8 227.5h0M266.2 252.2h0M283.7 252.7h0M241.1 293.6h0M281.8 255.9h0M314.5 229.4h0M310.9 308.6h0M292.3 248.3h0M298.3 288.7h0M344.6 224.2h0M257.5 312.9h0M227.6 304.5h0M265.4 308.3h0M234.4 318.9h0M236.9 316.4h0M231 314.2h0M310.1 229.9h0M310.3 225.1h0M309.2 275.4h0M281.4 300.8h0M327.8 256.9h0M345.8 229.9h0M310 281.2h0M258.1 252.3h0M234.7 330.7h0M313.9 293.3h0M307 281.7h0M251.5 316.2h0M329.1 258h0M244 288.4h0M277.5 255.5h0M275.2 258.7h0M232.2 310.9h0M294.1 312.6h0M297.5 290.6h0M250.8 275.6h0M257.2 275.8h0M343 233.1h0M278.7 257.4h0M329.3 219.5h0M289.8 249.1h0M309.5 216.9h0M332 222.1h0M291.8 295.3h0M249.3 321.7h0M351.1 226.5h0M234.1 325.9h0M342.5 238.1h0M345.1 222.7h0M261.4 264.9h0M336.1 252.9h0M269.6 260.3h0M243.4 316.4h0M283.1 299.8h0M259.3 312.7h0M260.2 273.7h0M237.7 293.8h0M242.4 317.4h0M288.5 220.2h0M236.5 300.5h0M264.3 222.1h0M222.6 340.8h0M229.8 313h0M226.6 339.2h0M300.2 242.4h0M340.7 220.4h0M317 227.4h0M318.2 274.3h0M264.2 270.2h0M337.6 245.7h0M245.1 316.4h0M263.6 312.6h0M294.1 239.4h0M271.4 250h0M268.4 306.1h0M325.6 264.7h0M303.3 287h0M322.3 225.4h0M341 233.9h0M295.2 291.3h0M304.5 295.9h0M299.1 241.3h0M336.1 243h0M220.4 321.5h0M329.5 254.1h0M243.4 324.5h0M303.1 281.5h0M236.4 332h0M259.7 315.6h0M293.5 247.6h0M312.5 274.7h0M228.6 322.4h0M322.3 272.9h0M339.4 236.6h0M322.6 261h0M266.2 261.7h0M312.8 287.4h0M305.7 279.8h0M345.1 228.4h0M225.1 326.8h0M318.5 271.9h0M241.8 339.2h0M288.2 302.7h0M247 318.9h0M288.7 241.6h0M299.2 297h0M282.2 253.2h0M321.8 262.5h0M345.8 238.8h0M341 231.3h0M325.5 264.6h0M330.4 252.2h0M257 315.7h0M256.6 268.5h0M225.5 303.7h0M271 264.7h0M341.6 221.2h0M255.1 279.7h0M304.2 298.1h0M238.7 319.3h0M355.5 204.9h0M322 265.4h0M233.8 326.4h0M335.2 253.4h0M299.1 236.1h0M220.3 338.7h0M268 321.4h0M311.7 229.8h0M320.5 273.7h0M265.3 253.8h0M333.3 221.5h0M323.2 266.3h0M215.8 311.2h0M325.5 256.6h0M305.2 281.2h0M220.9 325.7h0M318.5 227h0M337.1 249h0M324.1 224.1h0M296.7 296.8h0M227.2 310.9h0M328.2 263.5h0M228.7 311.3h0M247.5 318.2h0M244.6 316.7h0M311 294.5h0M231 320.1h0M292.9 311.5h0M279.4 301.2h0M255.8 277.4h0M340.5 217h0M232.5 319.3h0M235.5 298.3h0M321.4 220.4h0M311.6 204.2h0M244.6 290.2h0M248.1 279.4h0M221.7 317.6h0M331.7 249.5h0M277.7 302.7h0M266.1 264.5h0M275 257.9h0M224.5 314.3h0M234.2 316h0M307.4 284.6h0M336.3 243.2h0M295.7 246h0M309.5 224.8h0M238.5 323.6h0M321.6 266.1h0M234.1 320.7h0M285.4 253.3h0M348 221h0M240.6 280.6h0M303 224h0M343.6 226.9h0M246.8 283.7h0M343.9 218.7h0M254.7 319.9h0M334.9 221.5h0M289.8 214h0M271 306.2h0M321.6 220.7h0M239.8 316.2h0M334.9 260h0M236.6 302.3h0M274.3 258.1h0M309.3 285.3h0M305 230.9h0M244.9 275.3h0M330.9 253.6h0M314.3 274h0M299.9 230.6h0M235.9 303.4h0M312.5 274h0M222.8 302h0M270.8 309.6h0M233.9 310.5h0M238.7 297.9h0M303.2 300.2h0M293 244.8h0M328.4 253.1h0M268.8 264.9h0M278.4 251.1h0M242.7 281.2h0M262.3 270.1h0M242.5 315.7h0M248.4 317.7h0M341.7 229.6h0M280.2 256.8h0M270.1 264.4h0M268.7 244.1h0M227.3 312.7h0M302 311.8h0M308.5 231h0M216.6 321h0M273 318.6h0M293.5 290.4h0M302.9 284.7h0M301.8 238.3h0M288.5 296.6h0M301.8 229.6h0M268.9 253.6h0M228.9 315.4h0M263.2 315.5h0M316.6 209.1h0M315.8 271.4h0M252.5 313.8h0M226.1 314h0M254.3 277.1h0M259.1 313.5h0M268.1 242.1h0M293.6 292.3h0M324.5 223.6h0M256 275.1h0M271.5 255h0M225.1 324.1h0M336.4 220.5h0M248.7 280.5h0M265.6 309.6h0M277.1 256.4h0M347.6 229.9h0M262.4 269.8h0M307.4 286.9h0M231.3 324.8h0M316.4 269.5h0M224.7 305.4h0M217.3 318.7h0M281.8 255.7h0M229.4 303.2h0M329.4 220.1h0M286 250.6h0M290.9 239.7h0M237 316.5h0M249.5 316.6h0M223.4 309.4h0M216.4 324.8h0M228.1 315.3h0M315.6 228.2h0M240 298.1h0M236 304.5h0M337.2 240.8h0M284.4 299h0M283.2 301.9h0M322.2 225.3h0M330.2 260.5h0M233.4 304.6h0M226.5 327.7h0M269.3 307.5h0M256.4 276.9h0M318.2 297.7h0M341.1 217.9h0M310.4 229.1h0M310.5 230.4h0M280.9 255.7h0M252.1 277.8h0M341.1 232.3h0M307.6 234.2h0M241.8 294.7h0M299 239.9h0M338.2 238.8h0M347.6 232h0M219.5 312h0M266.2 261h0M306.9 285.6h0M320.8 263.8h0M306.5 280.2h0M241.2 315.4h0M274.1 308.5h0M230 293.7h0M326.3 219.7h0M232.5 304.8h0M261.5 271.1h0M332.9 220.3h0M280.4 255h0M282.2 300h0M336.3 219.7h0M276.5 302.3h0M292.7 243h0M304.6 284.6h0M293.7 244.4h0M312.2 277.1h0M314.4 216h0M271.3 257.9h0M256.4 273.8h0M242.1 289.8h0M299.7 301.5h0M333.5 218.1h0M330.6 250.5h0M263.9 266.7h0M244.7 290.9h0M240.6 320.2h0M350.9 225.7h0M232.2 286.7h0M303.3 238h0M247.5 326.8h0M251.1 283.7h0M268.1 307.6h0M299 290h0M324.6 218.8h0M324.4 219.6h0M232.9 319h0M226.2 323.9h0M306.8 279.1h0M318.6 223h0M296.4 301.3h0M247 275.7h0M244.6 290.2h0M326.4 258h0M283.8 254.1h0M287.1 249.2h0M250.5 315.8h0M309.8 282.9h0M329 220.9h0M267.8 260.6h0M318.5 222.9h0M251.3 282.1h0M292.4 295.8h0M233.2 327.4h0M306.7 284.1h0M311.8 228.9h0M248.7 315.4h0M312.3 274.8h0M343.2 216.9h0M349.1 213.8h0M283.3 252.8h0M346.7 231.8h0M229.6 324.2h0M258.5 274.4h0M279.8 307.8h0M234.7 319.8h0M292.4 291.7h0M301 239.6h0M304.3 281.8h0M297.6 242.7h0M257 274.1h0M230.8 311.1h0M319.7 227.5h0M312.3 279.3h0M294.7 288.2h0M281.9 246h0M233.4 314.9h0M249.1 315.3h0M315.1 202.9h0M330.8 248.9h0M226.9 296.4h0M332.2 264h0M258 323.7h0M305.1 231.4h0M253.8 267.2h0M270.5 306.1h0M288.1 251.3h0M270.9 310.1h0M271.4 314.9h0M343.9 225.8h0M248.2 317.9h0M236.8 303.2h0M328.1 216.2h0M246.9 280.9h0M245.9 331.9h0M266.3 310.2h0M261.7 273h0M320.2 265.4h0M292.2 246.1h0M293.6 294.6h0M266.4 314.1h0M315.8 219.1h0M230.1 322.6h0M313.4 279.8h0M258 315h0M220.4 322h0M293.3 244.3h0M220.3 333.5h0M240.5 316.7h0M348.6 228.3h0M303 291.7h0M253.4 279.2h0M257 275.7h0M303.9 221.2h0M265.1 267.9h0M312.9 274.3h0M246.4 290h0M218.9 321.3h0M238.9 288.6h0M342.2 229h0M319.8 264.7h0M296.4 302.9h0M291.9 308.3h0M346.5 243.1h0M229.2 309.4h0M237.3 328.8h0M299.1 298.7h0M341.6 232.8h0M314.3 302.4h0M312.3 274.8h0M337.2 245.6h0M236.7 298.7h0M278.7 258h0M314.9 228.2h0M275 261.4h0M326.6 220.4h0M343.3 208.2h0M230.9 312.5h0M255.7 317h0M234.9 295.2h0M237.6 322.9h0M220 330.1h0M288.2 248.2h0M287.4 299.8h0M314.3 275.2h0M306.3 233.9h0M343.7 220.6h0M264.3 308.4h0M328.8 254.3h0M291.4 314.9h0M299.1 289.5h0M301.8 240.6h0M302.4 288.5h0M337 244.1h0M318.5 226.2h0M320.2 225.7h0M226.1 305.3h0M230.5 293.5h0M278.1 302.7h0M247 288h0M309.9 233.5h0M233.1 321.6h0M342.5 227.1h0M256.5 319.3h0M250 284.3h0M225.7 314.3h0M245.9 316.4h0M223.4 326.5h0M225.2 302.7h0M232.6 328.3h0M295.1 296.3h0M302 308.3h0M276.3 306.5h0M265.3 268.9h0M348 232.1h0M232.7 314.5h0M226.4 306h0M281.3 311.6h0M263.5 310.7h0M299.2 200.1h0M274.2 306.6h0M292 247.4h0M345.1 232h0M277.7 255.8h0M278.6 304.7h0M341 232.7h0M286.6 295.3h0M277.5 308h0M307.7 278.3h0M256.9 312.1h0M231 319.3h0M327.4 254.8h0M240.1 254.4h0M309.4 227.1h0M339.9 239.4h0M329.1 252.6h0M324.6 222.1h0M252.5 274.6h0M274.2 309.5h0M242.8 318.1h0M287.3 253h0M237.5 303.4h0M341.8 252h0M234.1 336.8h0M343 234.5h0M266 308.7h0M249.9 277.6h0M250.9 263.5h0M269 306h0M324.6 259.4h0M292.1 234.8h0M310.8 279.5h0M224.9 325.1h0M301.5 283.2h0M342.8 228.5h0M343.3 232.5h0M233 319.9h0M241.2 273.5h0M285.2 233.1h0M309 278.9h0M345 224.3h0M270 263.7h0M325.2 259.7h0M284.7 296.8h0M327.6 256.2h0M315.8 272.9h0M254.5 277.2h0M251 318.5h0M303 233.9h0M239.9 315.5h0M240 296.5h0M300 293.1h0M287.2 297.6h0M251.2 329.5h0M271.1 249.2h0M263.2 311.5h0M227.1 316h0M291.3 248.6h0M263.7 313.1h0M257.2 311.6h0M274.8 304.2h0M230.2 317.6h0M293.4 308.6h0M285.4 309.9h0M283.2 251.4h0M260.1 310.1h0M312.4 215.8h0M241.2 323.3h0M257.9 277.2h0M265.8 310.3h0M260.1 265.5h0M243.8 289.8h0M287.8 295.3h0M297.8 242.9h0M322.4 265.3h0M236.8 321.8h0M260.9 317.1h0M237.5 318.4h0M338.2 246.8h0M279 302.2h0M231.3 310.5h0M254.6 272.3h0M234.4 324.4h0M336 243.4h0M236.8 325.1h0M339.5 236h0M239.2 320.5h0M282.7 252.7h0M317.6 282.7h0M244.7 320.3h0M253.1 277.1h0M330.6 255.2h0M298.8 287.2h0M303.1 217.7h0M318.9 269.7h0M240.8 295.1h0M295.6 238.9h0M279.2 299.6h0M248.1 278.4h0M351.2 210.7h0M282.3 255.8h0M273.9 262.1h0M289.7 236.6h0M316.6 270.5h0M341.9 221.4h0M296.7 293.5h0M276.3 301.3h0M325.4 257.6h0M360.8 224.7h0M239.9 290.1h0M289.1 249.1h0M230 320.4h0M307.5 222.3h0M239.1 292.1h0M313.3 275.5h0M297.6 230.3h0M251 272.9h0M295.2 242.9h0M319.2 269.4h0M256.6 313.8h0M290.8 247.2h0M320.3 223.1h0M246.2 289.1h0M239.8 297.9h0M233.1 310.7h0M286.8 250.2h0M275.5 244.3h0M309.4 277.8h0M246.8 332.8h0M302.9 299.2h0M258.1 321.1h0M257.5 276.4h0M296.9 242.8h0M304.5 281.9h0M241.7 315.2h0M285.6 253.8h0M247.1 287.3h0M217.3 316.5h0M246.1 290.2h0M301 286h0M308.6 216.6h0M287.8 245.8h0M257.8 276.2h0M342 246.4h0M310.3 217.4h0M231.2 305.5h0M308.1 298.8h0M261.6 315.1h0M324.3 260.2h0M255.9 278.3h0M247.1 288.9h0M238.2 317h0M284.1 247.5h0M274.7 258.8h0M241.9 296.1h0M290.9 293.2h0M321.1 263.2h0M283.6 254.7h0M249 284h0M326.9 259.8h0M281.1 255.2h0M302.9 296.7h0M321.8 223.5h0M277.4 259.8h0M291 246.8h0M267.9 263.1h0M229.3 324.4h0M300.7 310h0M268 256.2h0M216.4 311.7h0M325.9 219.9h0M310.5 285.1h0M266.5 308.6h0M297.4 290.1h0M310.3 275h0M273 303.1h0M235.3 287.4h0M260 310.1h0M241.8 295.4h0M280.6 249h0M287 250.3h0M323.2 261.9h0M337.5 240h0M303.8 235.9h0M256.6 314.9h0M239.9 315.1h0M255.1 274.3h0M246.6 285.2h0M234.6 296.7h0M229 324.1h0M319.5 265h0M251.2 278.8h0M254 277.6h0M331.9 247.9h0M225.7 315.6h0M326 258.2h0M221 313.1h0M324.5 264.1h0M273.5 311.7h0M345.4 224h0M248.4 227.6h0M322.3 225.3h0M223.7 309.1h0M271.4 305.3h0M287.1 307h0M298.2 242.2h0M258.4 259.6h0M285.1 251.2h0M230.1 317.2h0M258.1 276.8h0M338.2 251.3h0M304.7 237h0M265.2 264.1h0M284.7 299.2h0M326.6 223.3h0M240.7 297.3h0M221.6 308.5h0M315.5 221.3h0M325.3 260.9h0M314.4 301.7h0M236 315.7h0M310.3 278.3h0M225.6 313.9h0M217.2 313h0M293.2 304.9h0M354.6 222.6h0M232.1 333.9h0M281.5 249.3h0M242.5 291h0M324.2 224.4h0M319.2 228h0M259.5 273h0M340.8 232.8h0M326.4 259.8h0M312.3 230.6h0M298.8 242.7h0M255.4 313.4h0M233.2 301.4h0M309.8 285h0M321.4 265h0M276.5 301.3h0M265.7 262.9h0M304.1 234.1h0M288.5 250.2h0M328.2 260.9h0M232.3 311.8h0M288.1 298.2h0M290.5 226.3h0M295.9 290.1h0M303.2 233.8h0M238.8 288.1h0M285.2 253.8h0M242.8 294.2h0M296.4 242.2h0M336.7 240.4h0M324.6 216h0M253.3 281.6h0M326.5 281.8h0M246.3 316.6h0M305.1 281.1h0M344.8 209.3h0M260.9 311.6h0M307.9 204.3h0M246.4 279h0M340.9 233.3h0M300.6 230.5h0M228.3 306h0M281.1 256.6h0M282.6 254.3h0M302.2 289.2h0M319.3 226.6h0M286.9 251.2h0M233 318.2h0M232.6 313.9h0M318.8 279.9h0M233.7 298.8h0M303 284.7h0M240.1 318.4h0M243.4 319.5h0M233.7 297.9h0M286.6 306.5h0M321.6 267h0M289 299.5h0M325 224.4h0M291.5 239.8h0M315.7 274.2h0M321.8 263.3h0M336.7 240.6h0M255.8 313.5h0M288.2 249h0M280.1 252.6h0M303.6 232.8h0M254.5 277.9h0M340.9 236.1h0M344.1 225.2h0M322.4 267.7h0M311.7 228.1h0M335.1 221.1h0M341.7 231h0M234.5 301.2h0M274.3 257.4h0M264.9 266.6h0M231.2 305h0M245 283.7h0M308 233.8h0M344.8 231.3h0M217.6 335.7h0M329.9 252.3h0M282.9 246.3h0M272.2 304.6h0M286.4 300.8h0M319.5 223.5h0M251.3 276.6h0M336.2 248.3h0M255.3 241.4h0M346.2 215.9h0M283.2 252.1h0M250.1 285.2h0M294.3 243.2h0M305.4 235.9h0M256.3 278.3h0M261.8 260h0M243.1 328.4h0M292 247.6h0M307.4 231.6h0M341.6 234.6h0M299.3 239.6h0M317 279.5h0M218 313.6h0M328.3 221.4h0M304.2 283.2h0M221.4 329.8h0M332.5 248.1h0M272.1 239.4h0M297.2 292.9h0M320.3 226.4h0M264 309.8h0M248.1 285.9h0M296.6 244.8h0M267.8 244.7h0M269.1 307.9h0M316.2 217.5h0M304.8 307.2h0M282.9 253h0M292.7 237.2h0M340.3 215h0M328.6 254.3h0M273.8 260.8h0M345.7 208.7h0M312.3 277.9h0M333.3 221h0M344.5 228.2h0M293.7 295.6h0M241.2 319.2h0M317 269.8h0M257.4 272.8h0M235.4 314h0M313.1 280.4h0M318 228.5h0M277.8 257.7h0M330.2 221h0M305.8 286.8h0M338.9 236.8h0M337.2 212.6h0M232.8 313.4h0M263.1 314.1h0M339.3 243.1h0M321.9 210.8h0M273.9 303h0M346.1 209.5h0M232.7 311.7h0M347.2 212.7h0M335.5 244.9h0M294.6 290h0M234.5 322.4h0M276.1 301.7h0M346 234.5h0M342.5 222.3h0M249.1 320.9h0" stroke="#dc143c" stroke-width="2.50" stroke-linecap="round" fill="none"/>
<line x1="218" y1="347" x2="362.7" y2="197.3" stroke="#3a35d0" stroke-width="1.2"/>
<rect x="211.9" y="193.2" width="35" height="10.2" rx="0.8" fill="#fff" fill-opacity="0.8" stroke="#d8d8d8" stroke-width="0.5"/>
<line x1="213.7" y1="195.8" x2="220.1" y2="195.8" stroke="#3a35d0" stroke-width="0.9"/>
<circle cx="216.9" cy="200.2" r="0.9" fill="#c0102e"/>
<text x="221.3" y="196.8" class="lg">R-squared=1</text>
<text x="221.3" y="201.2" class="lg">R-squared=0.71</text>
<rect x="210.7" y="192" width="159.3" height="160.3" fill="none" stroke="#c8c8c8" stroke-width="1.5"/>
<text transform="translate(98.9 375.1) scale(1 1.15)" class="t">Decision Tree Autumn</text>
<line x1="25" y1="534.3" x2="25" y2="535.5" class="tk"/>
<text x="25" y="538.9" class="xl">0.0</text>
<line x1="54.5" y1="534.3" x2="54.5" y2="535.5" class="tk"/>
<text x="54.5" y="538.9" class="xl">0.2</text>
<line x1="84" y1="534.3" x2="84" y2="535.5" class="tk"/>
<text x="84" y="538.9" class="xl">0.4</text>
<line x1="113.6" y1="534.3" x2="113.6" y2="535.5" class="tk"/>
<text x="113.6" y="538.9" class="xl">0.6</text>
<line x1="143.1" y1="534.3" x2="143.1" y2="535.5" class="tk"/>
<text x="143.1" y="538.9" class="xl">0.8</text>
<line x1="172.6" y1="534.3" x2="172.6" y2="535.5" class="tk"/>
<text x="172.6" y="538.9" class="xl">1.0</text>
<line x1="16.4" y1="529.3" x2="17.6" y2="529.3" class="tk"/>
<text x="15.4" y="530.2" class="yl">0.0</text>
<line x1="16.4" y1="499.7" x2="17.6" y2="499.7" class="tk"/>
<text x="15.4" y="500.6" class="yl">0.2</text>
<line x1="16.4" y1="470.1" x2="17.6" y2="470.1" class="tk"/>
<text x="15.4" y="471" class="yl">0.4</text>
<line x1="16.4" y1="440.5" x2="17.6" y2="440.5" class="tk"/>
<text x="15.4" y="441.4" class="yl">0.6</text>
<line x1="16.4" y1="410.8" x2="17.6" y2="410.8" class="tk"/>
<text x="15.4" y="411.7" class="yl">0.8</text>
<line x1="16.4" y1="381.2" x2="17.6" y2="381.2" class="tk"/>
<text x="15.4" y="382.1" class="yl">1.0</text>
<text transform="translate(98.9 545.5) scale(1 1.12)" class="ax">Observed Values</text>
<text transform="translate(9.3 456.3) rotate(-90)" class="ay">Predictions</text>
<path d="M152 405.2 150 403.7 144.5 403.7 140 406 133 407.5 125.7 411 121.7 412 119.2 414 115 415.7 113.7 417.2 109.7 419.7 107.5 420.2 106 421.7 103.2 423 100.5 426 97.2 428.2 95.7 428.5 92.5 432 90.7 433 84 441.2 81 442.5 75.2 448.7 74.5 450.5 69.7 456 67 461.5 64.2 465 63.2 468.5 59.5 476.5 59.5 479.7 55.5 482.2 55.5 483 57.7 485 56 487.5 60.5 489.2 61.2 490.2 60.2 491 57.2 491.2 56.7 492 58.5 492.7 65.2 493.5 70 493 73.7 491 76.5 491 79.2 489.7 81.5 489.5 83.7 487.5 89.7 484.7 99 478.5 101.2 475.5 105.2 473.7 107.5 471.2 111.7 468.2 114 467.5 116 464.2 119.5 462.7 123 458.5 125.5 457.7 129.5 452.7 131.5 451.7 139.2 444.5 149.5 431.5 150.2 428.2 153 425.2 155 420 155 417 156 413 155 409.7Z" fill="#dc143c"/>
<path d="M58.5 476.3h0M66.2 458.3h0M109.7 467.8h0M101.8 472.9h0M155.7 394.5h0M118 406.6h0M77.8 441.6h0M57.6 500.3h0M113.7 418.8h0M145.6 433.9h0M53.2 491.1h0M98.6 482.1h0M96.7 482.5h0M60.1 470.9h0M97 390h0M136.3 407.6h0M109 473.1h0M51.2 484.6h0M109.7 477.9h0M137.8 407.1h0M61.7 491.2h0M73.6 493.9h0M112.4 420.6h0M109.7 397.3h0M71.4 490.2h0M115.5 463.5h0M126 411.1h0M142.8 453.2h0M101.6 476.5h0M70.9 496.5h0M51.9 469.5h0M87.1 437h0M134.6 452h0M121.6 413.3h0M132.5 406.6h0M60.5 505.2h0M85.3 493.5h0M64.2 458.8h0M86.7 431.4h0M68.5 502.5h0M145 439.1h0M88.4 486.8h0M151.4 403.6h0M135.7 444.8h0M61.3 468.2h0M83.3 441h0M48.4 497.1h0M126.4 410.9h0M132.1 400.1h0M74.8 424.8h0M151.4 408h0M77 418.4h0M149.8 430h0M117.1 414.8h0M59.6 480.1h0M83.8 491.5h0M98.6 475.5h0M112.1 416.8h0M78.5 489.2h0M99.4 482.3h0M81 487.8h0M66.2 495.9h0M82.5 486.9h0M93.4 429.3h0M155.2 392h0M152.6 423.5h0M80.3 440.8h0M130.2 454.7h0M63.9 492h0M120.2 473.3h0M153.8 406.4h0M145.6 435.6h0M97.4 427.1h0M67.1 460.9h0M59.3 480h0M130.5 449.9h0M68.6 460.8h0M151.5 424.3h0M88.6 489.9h0M141.9 403.4h0M97.9 424.1h0M154.2 422h0M148.9 404.4h0M95.3 478.2h0M87 441.6h0M92.8 434h0M92.4 486.3h0M76 446.9h0M154.1 418.3h0M62.9 469.8h0M75.1 452.7h0M60.9 496.1h0M88.6 430.9h0M58.6 492.5h0M123.7 410h0M111.5 414h0M127.7 452.6h0M154.5 418.1h0M100.3 482.6h0M96.6 504.5h0M135.9 407.4h0M51 496.1h0M117.4 414.5h0M154.2 417h0M154.5 413.4h0M84.4 441.3h0M135.7 404.4h0M90.8 431.4h0M103.9 425.3h0M60.7 476.2h0M139.7 462.6h0M153.9 424.7h0M70.7 458.8h0M141.4 403.4h0M144.9 398.9h0M84.1 442h0M111.2 467.7h0M68.9 457.2h0M89.4 409.1h0M94.6 478.8h0M116.5 417.4h0M80.3 446.1h0M105.5 377.9h0M113.2 468.4h0M149.2 433.7h0M136.3 446.7h0M128.9 451.6h0M154.3 439.7h0M145.1 403.6h0M45.2 506.4h0M73.2 454.3h0M71.6 455.9h0M152.9 409.3h0M134.7 449.9h0M120.5 461h0M114 464h0M63.8 470.5h0M152.6 421.1h0M55.1 484.5h0M59.1 492.5h0M147.6 432.2h0M122.6 413.1h0M133.8 406.6h0M41.8 492.3h0M61.4 480.5h0M60.7 471.2h0M96.8 405h0M163.6 407.5h0M120.1 463.9h0M100.6 422.2h0M152.9 427h0M157.1 415.7h0M122.6 460h0M102.3 393.7h0M124.4 457.4h0M89.9 419.5h0M105.3 422.9h0M105.2 475.5h0M112.5 419.2h0M67 465h0M76.5 448.7h0M105.8 476h0M54.9 504.8h0M52.1 476.4h0M103 473.6h0M58.8 487.9h0M68.6 451h0M102.9 475.7h0M115.6 418.2h0M113.4 464.7h0M70.8 457.9h0M105 415.5h0M134 451.1h0M161.8 409.6h0M103.8 425.2h0M155.8 423.3h0M130.6 452h0M77.7 489.1h0M99.1 418h0M134.6 447.7h0M105.5 474.6h0M106 471.2h0M102.5 423.7h0M58.7 508.1h0M155.9 399.7h0M146.4 398.4h0M133.8 401.2h0M94.6 426.8h0M75.2 492.3h0M104.6 472.4h0M98.1 488.3h0M153.4 421.5h0M64.2 470.6h0M77.3 449.4h0M155.9 418.3h0M59.9 490.8h0M138.1 447.3h0M154.1 429.1h0M106.6 471.9h0M63.3 491.9h0M97.1 488h0M107.7 470h0M122.3 408.6h0M63.1 462.9h0M76.6 488.4h0M104.2 424.3h0M117.3 462.3h0M45.3 487.4h0M62.5 464h0M120.6 465.7h0M133.7 409.5h0M141.2 403.3h0M78 449.2h0M104.6 422.8h0M153.8 412.7h0M159.3 442.1h0M151.3 423.5h0M142.1 403.5h0M136.3 448.3h0M60.8 487.5h0M73.4 491.3h0M125.5 459.4h0M56.5 475.3h0M61.3 480h0M79.2 437.8h0M45.5 488h0M95.4 482.1h0M89.8 418.6h0M107.8 417.9h0M60.8 472.7h0M43.8 506.9h0M105.1 416.7h0M73.8 447.7h0M129.8 450.3h0M63.9 491.5h0M71.6 452.5h0M104.2 472.3h0M79.5 447.6h0M98.5 428.2h0M93.2 480.5h0M66.2 464.4h0M143.4 436.5h0M138.5 441.4h0M149.6 435.8h0M68.2 455.4h0M104.4 420.1h0M138.9 452.3h0M57.3 481h0M154.7 419.2h0M54.1 465.4h0M106.6 485.9h0M89.3 437.3h0M69.6 453.5h0M73.4 455.3h0M87 434.5h0M61.5 472.6h0M75.4 492.1h0M94.6 483.4h0M157.4 407.4h0M143.2 440.9h0M113.1 477.3h0M118 410.8h0M119.5 461.5h0M72.2 438.2h0M133.4 447.6h0M153.3 407.8h0M68.9 492.6h0M155.4 410.4h0M138.3 449.8h0M113.6 474.3h0M116.9 412.9h0M93.5 506h0M86.7 484.7h0M122.3 464.2h0M65.8 467.7h0M68.7 452.8h0M70.2 493.2h0M101.1 474.2h0M147 403.5h0M96.8 428.2h0M84.5 484.8h0M116.4 482.6h0M60.3 495.9h0M68.3 496.3h0M153.1 411h0M126.1 461.3h0M149.4 389.3h0M158.4 417.8h0M75.1 446.6h0M140.4 444.4h0M99.5 481.4h0M100.3 491.9h0M86.1 491.5h0M114.5 466.4h0M120.6 460.1h0M116.7 465.4h0M75.1 497.6h0M70.3 451.6h0M110.7 417.2h0M92.1 428.3h0M59.7 498h0M96.3 421.8h0M113.5 467.8h0M55 477.4h0M160.7 422.2h0M86.9 489h0M114.4 395.8h0M74.8 489.1h0M88 416.8h0M116.5 487h0M73.5 450.5h0M94.6 482.9h0M91.7 482.9h0M114.1 413h0M138.6 402.4h0M118.2 415.9h0M155.3 407.1h0M159.7 413.9h0M87.9 484.7h0M123.3 458.4h0M110.1 472h0M85.7 491.4h0M107.7 471.7h0M100.8 427.1h0M89.7 413.5h0M52 496.9h0M130.6 449.9h0M88.9 414.3h0M68.9 461.4h0M52.9 489.8h0M69.8 452.5h0M116.6 415.8h0M112.3 468.8h0M138.6 444.5h0M109.1 468.4h0M157.2 428.5h0M62.4 442.9h0M101.4 418.6h0M148 428.6h0M64.2 471.5h0M161.3 406.2h0M52.5 482.5h0M124.4 456.6h0M135.5 409.6h0M55.5 476.5h0M149 400.1h0M85.6 487.3h0M97.4 478.5h0M95.7 418.7h0M118.4 463.4h0M82.6 487.2h0M128.1 464.1h0M126.3 456.8h0M75.2 491.2h0M59.8 474.5h0M83.9 485.9h0M74.4 501.7h0M140.7 406h0M131.4 455.7h0M127 453.9h0M57.7 480.8h0M78.6 493h0M72.4 490.3h0M152.7 417.5h0M71 498.4h0M94.8 500.3h0M144.4 435.7h0M110.7 477.3h0M134.4 449.1h0M155.9 404.5h0M141.3 404.1h0M78.5 489.4h0M64.5 467.6h0M141 443.9h0M136.7 444.6h0M64.7 491.2h0M82.6 436.2h0M103.9 488.7h0M97.5 476.7h0M57.4 472.4h0M98.8 502.2h0M61.1 477.4h0M159.5 423.8h0M154.5 409.1h0M84.6 438h0M139.3 464.4h0M85 414.1h0M105.2 422.6h0M146.3 431.6h0M151.4 399.9h0M144.8 402.1h0M73.3 491.9h0M115.4 416.9h0M95.5 428.1h0M77.7 489.8h0M87.3 427.7h0M98.1 410.6h0M96.8 430h0M131.2 448.7h0M95.2 431.6h0M155.9 405.3h0M104.9 480.2h0M152.9 419.8h0M61 497.9h0M94.8 406.5h0M57.3 486.1h0M65.6 458h0M104.9 416h0M95.9 430.9h0M57.6 498.7h0M153.2 411.4h0M151.7 425.3h0M122.1 459.9h0M79.7 446.5h0M140.9 440.8h0M144.8 435h0M96.8 479.3h0M56.6 484.7h0M60.8 487.8h0M113 419.5h0M128.3 411.3h0M114.6 416.8h0M124.7 456.5h0M151.3 402.5h0M98.7 484h0M99.7 481.8h0M145 436.4h0M98.8 485.2h0M100.8 479.2h0M95.4 424.6h0M154.2 415.9h0M122.7 458.5h0M70.2 456.7h0M126.3 412.9h0M90.1 418.2h0M48.6 485.8h0M80.5 495.7h0M55.4 485.9h0M134.2 407h0M119.6 412.8h0M71.6 444.9h0M83.3 426.5h0M61.4 472.5h0M62.7 462.4h0M104.8 483.6h0M157.9 410.7h0M89 488.4h0M64.8 468.2h0M115.4 472.6h0M138.6 443.9h0M131.6 456.5h0M119.8 410.8h0M120.9 475h0M138.4 447.9h0M68.1 457.7h0M110.8 405.1h0M118.7 480.6h0M66.6 462.6h0M61.8 487.7h0M95.9 477.5h0M160.6 419h0M158.3 410.9h0M94.5 432.6h0M98 425.1h0M102.5 421.1h0M154.6 433.5h0M129.7 411.5h0M147.2 404.1h0M153.5 401.9h0M58.6 484.8h0M88.5 489.9h0M122.1 470.6h0M81.3 432.7h0M109 468h0M81.4 490.6h0M102.3 479.1h0M140.9 441.7h0M153.4 406.6h0M65.6 466.8h0M61.4 476.8h0M110 413.7h0M86.8 528h0M136.6 448h0M57.8 479.3h0M90.3 430.5h0M137 403.2h0M108.2 473.7h0M82.6 442.2h0M120.9 464.5h0M146.1 431.9h0M82.3 489.8h0M57.5 481.2h0M135.3 446.6h0M99.8 426.2h0M72.9 491.6h0M133.7 409.2h0M131.1 460.2h0M147.1 450.9h0M154.5 400.7h0M158.6 400.5h0M116.4 399.9h0M109.6 468.1h0M111.8 419.6h0M143.2 406.6h0M107.1 396.7h0M153.6 416.6h0M121 407.6h0M73.7 489.7h0M111.1 410.8h0M59.5 482.3h0M107.7 490.2h0M87 434.6h0M88.6 483.3h0M93.9 483.5h0M136.8 402.9h0M57.8 491h0M137.1 403.9h0M94.2 480.4h0M152.2 401.8h0M132.4 449.7h0M90.6 486.6h0M94.1 429.8h0M149.8 403h0M76.4 450.3h0M91.8 435.6h0M59.9 491.6h0M108 469.7h0M131.1 410.9h0M146.1 434.6h0M100.8 411h0M121.5 458.4h0M87.6 437.4h0M107.3 413.6h0M150.6 428.8h0M154.6 409.6h0M104.3 508.9h0M143.4 449.8h0M106.1 422.5h0M138.3 405.6h0M122.1 408.8h0M80.2 488.1h0M157.7 388.7h0M157.4 411.3h0M61.3 492.5h0M146.8 403.8h0M66.1 463.9h0M112.2 420.6h0M68.5 459h0M90.7 434.5h0M159.1 424.6h0M115.4 464.3h0M61.2 478.1h0M97.1 481.1h0M118.3 469.9h0M58.7 487.2h0M83.3 442.8h0M152.1 431.9h0M128.1 454h0M61.9 487.4h0M139.4 453.1h0M74 450.3h0M133.6 447.6h0M77.7 429h0M96 489.2h0M83.9 492.2h0M101.1 503.1h0M146.9 431.3h0M116.5 413.6h0M140.7 445.9h0M87.3 490.1h0M109.6 477.3h0M98.4 424.8h0M63.8 497.9h0M120.8 461.1h0M124.2 412.7h0M85.8 431.7h0M104.9 413.1h0M53.1 471.7h0M53.5 480.9h0M42.3 492h0M151.9 401.3h0M82.9 488.7h0M115.9 471.7h0M63.4 465.6h0M88.7 491.3h0M61.5 472.3h0M106.9 397.7h0M106.6 470.2h0M120.2 458.5h0M58.6 477.1h0M85.7 436.2h0M100.8 473.3h0M101.5 418.8h0M154.8 409.7h0M69.1 441.8h0M126.6 458.6h0M106.8 415.3h0M99.4 477.6h0M142.7 446.3h0M43.7 492.3h0M105 415.6h0M117.2 463.5h0M146.7 433.8h0M100.9 485.8h0M69.3 493.4h0M62.9 465.8h0M144 445.2h0M137 408.8h0M48.9 485.5h0M99.2 423.6h0M84.8 486.6h0M150.5 395.7h0M110.8 409.9h0M93.5 425.7h0M125.8 460.6h0M103.5 413.8h0M156.4 411.4h0M114.8 467.9h0M50.5 485.6h0M83.3 505.2h0M66.7 463.1h0M107.5 473.3h0M86.6 427.2h0M66.9 462.2h0M125.8 457.8h0M73.2 435.5h0M142.5 403.4h0M86 427.7h0M162 405.9h0M118.1 472.8h0M143.7 406.6h0M107.3 470.6h0M153.4 424.4h0M105.8 416.9h0M62.7 465.3h0M153.3 417h0M82.1 443.6h0M110.5 420.8h0M49.6 469.9h0M134.8 445.8h0M88.5 429.2h0M59.9 472.3h0M116.5 397.4h0M90 499.8h0M73.9 453.7h0M63.9 492.2h0M152.9 420.5h0M119.5 407.7h0M124 474.7h0M85 491.5h0M154.2 397.3h0M97 426.2h0M64.6 494.2h0M120.1 415.8h0M82.9 429.8h0M137.8 443.5h0M94 430.2h0M146.3 444.6h0M117.4 463.7h0M111.6 416.6h0M120.7 457.9h0M123.8 407h0M93 484.2h0M150.8 403h0M72.4 499.4h0M138 396.9h0M112.3 474.5h0M155.1 428.2h0M117.9 411.7h0M85.7 437.4h0M87.1 427.2h0M85.4 440.8h0M127.2 410.4h0M110.5 411.8h0M97.1 478h0M100.9 397.7h0M55.7 470.8h0M63.6 497.4h0M112.6 469.6h0M154.4 409.1h0M148.8 404.8h0M102.4 425.6h0M59.4 478.9h0M61.2 473.5h0M105.2 413.8h0M119.4 413.2h0M147.7 435.3h0M81.1 492.2h0M63.9 468.1h0M81.4 438.8h0M161.2 400.8h0M70.8 441.1h0M85.6 436.5h0M142.3 406.2h0M100.2 410.1h0M53 470.5h0M58.4 473.1h0M114.9 471.7h0M131.9 409.1h0M103.7 472.9h0M91.3 483.5h0M77.9 444h0M96.1 414.5h0M110.1 480h0M46.3 460.6h0M79.8 445.2h0M143.4 437.7h0M51.2 492.6h0M61.2 477.8h0M94.3 419.6h0M117.3 461.6h0M92.4 434.7h0M132.6 409.9h0M145.9 433.9h0M118.9 475.7h0M143.2 402.3h0M118.5 473h0M55.4 503.5h0M69.6 452.5h0M126.1 459.2h0M102.6 417.7h0M112.8 465.2h0M121.2 414.2h0M114 471h0M116.4 467.4h0M90.1 482.2h0M149.7 429h0M129.6 409.2h0M58.9 471.1h0M119.6 389.8h0M149 401.6h0M79.3 440.5h0M87.7 387.5h0M151.6 424.8h0M93.3 495.5h0M141.2 392.2h0M147.5 404.5h0M103.4 425.1h0M122.6 411.8h0M121.5 459.1h0M64.9 469.9h0M143.4 435.8h0M107.5 423.5h0M115.6 468.5h0M99.2 476h0M55 484.9h0M62.7 474.4h0M144.5 438.4h0M80.2 440.8h0M92.7 426.1h0M109.8 469h0M124.6 458h0M124 397.7h0M91 424.7h0M138.1 407.6h0M100.5 473.5h0M74.3 490.8h0M60.3 473.3h0M88.5 410.7h0M90.7 421.2h0M132 408.5h0M85.5 496.2h0M48.9 492.5h0M85 441.4h0M98 426.3h0M158 413.6h0M133.5 447.2h0M121.6 469.8h0M95.3 477.9h0M134.7 400.6h0M74 444.3h0M156.1 414.7h0M75.2 450.7h0M63.2 464.9h0M92.2 395.4h0M112.6 468.7h0M127.2 409.7h0M123.7 413.8h0M73.8 493.7h0M124.1 411.8h0M57 479.8h0M48.7 478.2h0M93.1 488.8h0M59.4 496h0M69.2 460.5h0M92.5 428.9h0M120.1 465.1h0M61.5 473.2h0M70.9 457.8h0M117.3 464.9h0M159.2 409.8h0M152.7 403.1h0M154 425.5h0M140 407.7h0M55.5 470h0M43.4 481.8h0M93.7 419.5h0M96.2 412.8h0M145.8 399.9h0M117 415.7h0M69 450.2h0M104.4 475.9h0M129.9 408.9h0M78.5 410.4h0M100.6 489.5h0M85.9 441.6h0M54.1 488.1h0M157.4 409.3h0M95.6 485h0M88.4 434h0M101.5 426.8h0M138.7 451.2h0M128.8 452.2h0M100.8 406.7h0M74 454.2h0M112.1 481h0M156.4 406.6h0M74.9 446.8h0M101.3 424.1h0M98 481.1h0M70 450.5h0M159.3 414.5h0M155.7 409.1h0M87.1 425.6h0M104.1 403.6h0M92.2 483.8h0M102.8 483.4h0M158 427h0M94.1 427h0M70.2 493h0M42.8 499.9h0M58.2 480.7h0M125.5 409.5h0M94 480.5h0M112.4 475.3h0M76.2 447.3h0M94.5 484.8h0M100.3 485.2h0M80.2 488.2h0M71.2 414.4h0M56.3 483.9h0M114.4 417.3h0M132.1 409.5h0M90.6 414.4h0M153.5 404.4h0M119.4 463.3h0M115 462.2h0M59.7 489.6h0M151.1 423.8h0M53.2 484.6h0M79 383h0M72.1 452.7h0M60.2 466.5h0M73 491h0M116.3 417.4h0M91.9 425.6h0M115 404.7h0M75.2 446.7h0M106.8 423.1h0M50.6 500.2h0M80 444.2h0M70.3 441.9h0M131.4 408.2h0M59.4 471.3h0M43.3 500.7h0M78.8 447.7h0M46.4 497.6h0M59.5 429.2h0M131.9 448.8h0M64.1 493.4h0M77.3 493.3h0M64.3 468.7h0M65.7 467.1h0M79.1 446.1h0M97.8 487.2h0M125.8 470.5h0M77 424.5h0M62.4 448.4h0M107.5 482.6h0M142.5 405.1h0M127.6 456.4h0M91.6 483.6h0M94.8 432.3h0M153.9 413.9h0M59.1 452.1h0M99.5 417.6h0M120.6 462.6h0M81.9 493h0M97.3 429.8h0M136.9 402.3h0M119.9 397.3h0M154.4 425.6h0M124.6 401.5h0M106.7 472h0M159.6 411.9h0M78.8 429.7h0M64.3 456.9h0M101.1 422.9h0M91.6 413.7h0M140.7 400.4h0M58.2 497.7h0M155.8 416.3h0M108.6 476.4h0M68.6 458.4h0M93.2 423.3h0M136.5 409.2h0M70.8 455.1h0M148.9 404.2h0M145.4 435.9h0M58.3 485.1h0M78.6 439.4h0M121.6 459.7h0M64.4 469.9h0M80.2 441.9h0M139.4 406.7h0M83 443.6h0M60.2 477.3h0M144.5 403h0M115.1 414.2h0M107.9 407.3h0M161.7 406.5h0M114 414.1h0M157 415.1h0M89.1 506.9h0M84.4 439h0M123 471.5h0M48.1 475.4h0M53.8 483.3h0M79.3 440.7h0M42.6 465.9h0M82.2 440.3h0M119.3 461.5h0M91.2 434.1h0M104.4 424.4h0M45 485.6h0M157.1 405.7h0M101.7 403.4h0M85.2 431.9h0M121.8 464.5h0M120.6 480.1h0M160.5 410.2h0M82.5 443.9h0M58.5 482.9h0M90 488.5h0M137.9 402.6h0M57.8 485.5h0M49.1 489.2h0M63.5 492.1h0M155.4 395.4h0M146.8 432.9h0M133.4 409h0M114.9 472.8h0M63.7 466.4h0M78.8 442.6h0M157.9 411.1h0M147 403.8h0M154.4 427.4h0M125.8 462.2h0M147 405.7h0M92.8 420.8h0M94.5 409.2h0M119.4 459.1h0M110.3 420.7h0M124.4 456h0M117.4 469.6h0M88.6 485.1h0M134.4 397.4h0M71.4 512.6h0M90.3 436.2h0M72.4 448.7h0M59.2 467.3h0M65.7 499.3h0M100.3 423.9h0M100.5 427.8h0M154.7 414.2h0M154.5 409.8h0M112 404.1h0M91.8 480.6h0M137.7 460.5h0M150.9 402.9h0M154.9 411.3h0M154.1 410.9h0M118.2 407.9h0M147.1 401.2h0M94.5 431.4h0M140.4 441.7h0M102.7 411.3h0M73.4 454.8h0M100.6 414.9h0M135.8 409h0M150.8 427.4h0M86.7 500.4h0M118.1 461.1h0M97.9 483.6h0M41.4 510.6h0M92.6 430.9h0M95.3 478h0M133.6 459.8h0M137.7 443.3h0M124.2 413.4h0M89.8 483.2h0M136 445h0M159.7 403.4h0M115.1 464.9h0M54.6 487.8h0M62.8 490.2h0M84.6 440.7h0M154.9 415.7h0M55.3 468.2h0M81.2 445.1h0M163.5 412h0M115.8 412h0M124.3 407.5h0M141.5 442.1h0M61.3 498h0M152.4 405.1h0M118.5 460.2h0M148.8 400.5h0M81.8 438.5h0M152.6 423h0M153 408.8h0M92 501.6h0M108.4 473.4h0M151.4 404.1h0M51 496.2h0M61.8 463.2h0M60 480.6h0M124 410.6h0M113.3 394h0M128.2 452.6h0M73.2 453.4h0M153.9 411.6h0M117.8 474.3h0M103.6 422.3h0M115.4 464.9h0M109.2 422h0M108.8 412.1h0M151 456.3h0M154.3 405.5h0M73.4 454h0M146 433.4h0M121 458.9h0M62.4 489h0M132.2 448.9h0M101.9 422.3h0M123 460h0M136.9 446.2h0M89.3 482.7h0M118.6 462.6h0M113.9 417.9h0M63.2 466h0M111.2 466.2h0M75.9 427.4h0M136 446.5h0M123.1 399.5h0M143.2 440.2h0M64.3 468.2h0M81.1 437.6h0M149.9 398.3h0M51.7 489.4h0M129.2 455.2h0M79 448.4h0M118.3 399.2h0M60.9 495.9h0M141.7 438.1h0M138 396.6h0M55.3 481.6h0M87.6 498.3h0M58.4 483.2h0M67.8 494.4h0M152.5 429.3h0M103.1 418.3h0M149.2 439.4h0M99 413.8h0M84.4 436.1h0M72.2 490.2h0M107.4 423.4h0M84.5 423.8h0M123.8 456.7h0M150.6 426.5h0M146.6 433h0M156.8 413.5h0M106.3 477.3h0M149.4 394.4h0M143.4 436.9h0M73.6 454.1h0M130.1 406.3h0M64.9 465.3h0M126 413.2h0M89.5 408.7h0M125.5 459.4h0M105.9 418.3h0M70.2 453.1h0M153.5 405.8h0M47.8 484.6h0M131.9 409.2h0M155.2 424.7h0M103.8 478.3h0M116.2 416.8h0M70.2 444.5h0M142.1 453.9h0M72.6 494.9h0M88.3 427.5h0M117.6 484.4h0M136.9 407.9h0M141.8 438.6h0M155.3 424.2h0M133.2 446.9h0M117.1 415.9h0M78.1 495.2h0M118.9 459.9h0M81 444.4h0M120.8 473.8h0M61 469.6h0M120.5 464.9h0M126.7 464.4h0M76.8 450.5h0M153.7 414h0M99.9 428.2h0M45.2 483h0M149.1 405.8h0M100.1 424h0M119.3 474.4h0M90.3 492.8h0M111.6 471.2h0M108.2 401.7h0M154.1 419.7h0M62.5 473.3h0M147.2 396.1h0M96.5 416.9h0M124.1 455.9h0M79.3 448.1h0M95.8 478.8h0M121.8 472.4h0M99.4 425.7h0M89.3 435.6h0M135 407.9h0M86.6 488.4h0M96.6 485.6h0M147.6 430.5h0M129.2 452h0M53.7 494.7h0M54.1 499.8h0M146.7 401.3h0M126.2 407.4h0M114.5 413.1h0M61.1 502.2h0M115.1 462.2h0M81.6 445.8h0M131.9 451.1h0M104.2 418.8h0M144.8 434.3h0M108.3 421h0M102 483.7h0M135.1 399.6h0M66.6 435.8h0M111.5 469.1h0M68.4 447.4h0M52.7 482.3h0M93.1 430.8h0M90.2 435.6h0M73.1 452h0M106.2 475h0M115.1 472.3h0M87.1 440.8h0M57.2 475.9h0M115.1 410.9h0M52.7 482h0M130.6 405.5h0M115.6 417.3h0M66.6 491.7h0M60.8 494.8h0M74.8 452.4h0M85.6 409.6h0M140.1 407h0M80.3 441h0M78.2 447.2h0M122.8 461.7h0M94 430h0M92.7 488.2h0M110.5 482.8h0M88.3 434.9h0M140.4 405.8h0M64.3 496.1h0M50.7 476.1h0M89.4 438.3h0M162.9 403h0M61.2 490h0M70.9 491.1h0M84.8 438.2h0M95.5 479.9h0M130.1 406.9h0M125.5 466.2h0M126.1 412.7h0M145.5 435.7h0M137 449.3h0M122.7 503.5h0M87.9 483.3h0M107.6 484h0M113.3 476.1h0M95.5 479.5h0M81 441.1h0M63.8 465.2h0M75.1 448.3h0M116.5 464.9h0M84.5 442.4h0M154.8 420.2h0M90.2 432.1h0M142.1 404.8h0M92.7 481.4h0M62 473.6h0M101 484.3h0M111.1 421.2h0M110.8 421.6h0M62.5 473.7h0M74.4 450.5h0M124.5 454.9h0M128.7 453.1h0M97.1 429.4h0M96.3 499.9h0M110 474.3h0M149.9 428h0M82.4 435.4h0M112.6 467.4h0M89.2 493.2h0M141.4 442.5h0M76.6 493h0M92.4 481h0M119.7 472.7h0M82.6 487.8h0M85.9 484.7h0M58.9 471.5h0M65.6 497.5h0M109.7 467.2h0M83.1 486.9h0M87.6 489h0M64.3 455.9h0M55.2 481.5h0M78.3 493.1h0M99.6 476h0M43.3 499.1h0M97.8 476.5h0M79 443h0M120.9 413.8h0M73 450.2h0M152.5 423.8h0M156 396.9h0M52.6 459.3h0M59.6 477.2h0M106.6 473.8h0M115.4 415.9h0M143.3 437.5h0M59 474h0M58.7 488.6h0M94.8 405.3h0M98.1 428.6h0M48.2 486.5h0M89.7 482.2h0M57.4 472.6h0M71.3 434.9h0M146.6 403.6h0M88.3 487.1h0M137.7 447.9h0M124.4 456.7h0M104.4 383h0M121.6 414.4h0M138.9 444.9h0M103.4 472.8h0M105.3 418.9h0M148.3 429.3h0M121.4 458.1h0M104.8 420h0M52.5 475.5h0M138.9 445h0M133.3 448.7h0M106.3 402.2h0M96.9 429h0M141.8 458.3h0M110.7 391h0M146.8 443.9h0M149.2 431.4h0M70.5 497.1h0M127.3 410.5h0M50.8 499.5h0M109.3 422h0M113.7 411.8h0M74.6 453.5h0M139 441.6h0M158.8 406.2h0M142.4 405.1h0M140.6 443.2h0M59.9 474.7h0M68.9 452.6h0M118.3 414.4h0M129.3 453.7h0M135 450.6h0M99.8 479.1h0M56.8 465.1h0M147.2 438.6h0M147.5 398.1h0M156.2 429.6h0M124 412h0M62.6 474.4h0M154.7 406.3h0M142.4 438.5h0M67.5 459.1h0M150.2 436.7h0M152.8 410h0M152.4 405.1h0M110.3 499.2h0M59.9 492.5h0M99.7 428.5h0M129.2 451.7h0M101.9 478.1h0M88.7 489.9h0M61.9 463.2h0M152.3 406.6h0M95.2 386.2h0M150.7 429.4h0M148.1 428h0M59.7 496.3h0M119.1 465.7h0M146.4 464.1h0M119 459.6h0M116 463.7h0M123.8 459h0M150.8 406.7h0M125.4 463.5h0M93.9 479.3h0M153.5 427.5h0M65.8 458.8h0M153.5 408.3h0M109.6 418.1h0M117.5 414.7h0M80.4 495.3h0M59.2 494h0M70 456.3h0M65.3 466h0M65.5 468.8h0M90.2 487.2h0M134.4 452.1h0M129.7 408.2h0M121.1 490.2h0M103.6 423.3h0M99 429.3h0M103.2 474.7h0M138 401.2h0M147.7 432.3h0M129.1 409.7h0M110.8 420.3h0M143.3 406.8h0M100.3 427.1h0M110.6 406.4h0M144 442.5h0M109.5 481.6h0M97.7 429.9h0M150.2 400.7h0M74.9 436.2h0M76.9 418.3h0M116.8 396.2h0M73.4 490.8h0M69.5 498.5h0M66.2 464.1h0M151.1 403.5h0M139.9 408.3h0M87.2 428.1h0M156.6 422h0M110.7 476.3h0M65.3 460.3h0M79 488.1h0M74.8 498.4h0M106.6 422.7h0M122.1 463.4h0M69.8 460.8h0M103.7 419.2h0M115 509.3h0M89.5 436.3h0M97.3 429.2h0M113.6 465.2h0M154.1 414.3h0M123.8 461.8h0M52.5 505.6h0M111.4 420.7h0M60.9 502.7h0M88.6 490.6h0M50.6 470.6h0M70.2 453.7h0M108.8 484.8h0M129.7 450.5h0M144.9 400.1h0M103 419.5h0M120.7 468.4h0M61.4 489.1h0M68.8 490.8h0M101 502.8h0M81.2 495.4h0M148.2 428.1h0M143.4 451.8h0M90.6 436.8h0M155.4 420.2h0M123.9 469.3h0M148.1 431.2h0M100.6 418.2h0M108.8 410.6h0M134.7 449.3h0M125.8 457.3h0M90.7 431.1h0M74.8 451.1h0M147.9 443.5h0M141.8 441.8h0M58.3 479.1h0M113.2 465.7h0M97.5 428.9h0M84.6 437.9h0M49.4 499.6h0M63.5 499.5h0M44.4 500.2h0M46.4 499.8h0M68 499.4h0M60.3 499.6h0M60.3 499.4h0M65.6 499.5h0M46.4 499.8h0M53.4 499.7h0M66.9 499.8h0M65.6 499.9h0M49.7 499.3h0M49.5 499.3h0M54.9 499.3h0M68.7 499.9h0M48.5 499.4h0M65.7 499.3h0M62.2 500.3h0M55.1 499.7h0M47.2 500h0M47.2 499.4h0M63.2 499.9h0M57.1 499.1h0M43.2 499.2h0M45.9 499.6h0M68.5 499.4h0M48.7 499.4h0M58.2 499.3h0M53.8 499.7h0M48.2 499.6h0M49.7 499.5h0M45.2 499.4h0M57.5 499.8h0M43.5 499.4h0M61.3 499.6h0M44.4 499.3h0M69.8 499.7h0M66.3 499.5h0M50.5 497.5h0M43.8 497.4h0M44.5 496.9h0M51.3 497.1h0M53 497.8h0M53.2 497.3h0M49.3 497.2h0M51.6 497.1h0M51.8 497.2h0M51.9 497.5h0M46.6 497.2h0M43.6 492.2h0M60.8 492h0M57.7 492.1h0M54.7 492.2h0M52 492.3h0M56.5 492h0M55.6 491.8h0M60.5 492h0M46.9 492.3h0M56.4 491.9h0M57.3 492.1h0M53.8 491.9h0M45.3 492.3h0M46.5 492h0M61.6 491.4h0M54 491.8h0M63.5 491.5h0M51 492.4h0M62.9 492.2h0M54.2 491.7h0M48.7 491.7h0M57.8 492.2h0M55.9 491.9h0M47 487.4h0M45.8 487.7h0M46 487.6h0M50.2 487.4h0M56.4 487.4h0M50.1 487.6h0M59.6 487.7h0M55.1 487.4h0M49.7 487.5h0M42.1 487.5h0M43.6 487.4h0M48.2 487.3h0M58 487.8h0M50.6 487.3h0M44.5 487.3h0M58 487.4h0M58.9 487.3h0M54.3 487.1h0M58.5 487.4h0M45.6 487.7h0M56.7 482.5h0M54.6 482.7h0M56.5 482.7h0M48 482.7h0M42.2 482.5h0M50.7 482.8h0M55.1 482.6h0M57.1 482.4h0M43.4 482.4h0M52 482.4h0M49.9 481.9h0M43.9 482.4h0M54.5 482.3h0M43.3 482.7h0M51.5 482.4h0M47.5 482.9h0M42.6 477.8h0M50.4 478.1h0M51.4 478.6h0M43.7 478.2h0M56.8 478.1h0M55.3 478.4h0M43.8 478.5h0M48.7 477.9h0M49.3 478.1h0M54.8 478.2h0M56.6 478.2h0M56.3 478.4h0M54.2 478.1h0M57.4 478.1h0M43.7 475.1h0M48.1 474.9h0M46.2 475.4h0M49.1 475h0M52.4 474.6h0M51.2 474.8h0M46.7 474.9h0M43.3 475.4h0M56.6 474.9h0M45.8 475.1h0M45.1 474.9h0M56.5 474.9h0M44.4 475h0M45 469.8h0M45.9 469.7h0M50.1 469.6h0M46.3 469.5h0M47.8 469.4h0M50.7 469.1h0M50.7 469.4h0M45.8 469.7h0M105.1 400.9h0M120.6 400.8h0M110 400.7h0M113.4 400.7h0M118.1 401h0M105.4 400.8h0" stroke="#dc143c" stroke-width="2.50" stroke-linecap="round" fill="none"/>
<line x1="25" y1="529.3" x2="172.6" y2="381.1" stroke="#3a35d0" stroke-width="1.2"/>
<rect x="18.8" y="377.8" width="35" height="10.2" rx="0.8" fill="#fff" fill-opacity="0.8" stroke="#d8d8d8" stroke-width="0.5"/>
<line x1="20.6" y1="380.4" x2="27" y2="380.4" stroke="#3a35d0" stroke-width="0.9"/>
<circle cx="23.8" cy="384.8" r="0.9" fill="#c0102e"/>
<text x="28.2" y="381.4" class="lg">R-squared=1</text>
<text x="28.2" y="385.8" class="lg">R-squared=0.637</text>
<rect x="17.6" y="376.6" width="162.6" height="157.7" fill="none" stroke="#c8c8c8" stroke-width="1.5"/>
<text transform="translate(290.8 374.1) scale(1 1.15)" class="t">Deep Neural Network Autumn</text>
<line x1="212" y1="534.8" x2="212" y2="536" class="tk"/>
<text x="212" y="539.4" class="xl">0.0</text>
<line x1="243.6" y1="534.8" x2="243.6" y2="536" class="tk"/>
<text x="243.6" y="539.4" class="xl">0.2</text>
<line x1="275.2" y1="534.8" x2="275.2" y2="536" class="tk"/>
<text x="275.2" y="539.4" class="xl">0.4</text>
<line x1="306.8" y1="534.8" x2="306.8" y2="536" class="tk"/>
<text x="306.8" y="539.4" class="xl">0.6</text>
<line x1="338.4" y1="534.8" x2="338.4" y2="536" class="tk"/>
<text x="338.4" y="539.4" class="xl">0.8</text>
<line x1="370" y1="534.8" x2="370" y2="536" class="tk"/>
<text x="370" y="539.4" class="xl">1.0</text>
<line x1="208" y1="533.9" x2="209.2" y2="533.9" class="tk"/>
<text x="207" y="534.8" class="yl">0.0</text>
<line x1="208" y1="502.4" x2="209.2" y2="502.4" class="tk"/>
<text x="207" y="503.3" class="yl">0.2</text>
<line x1="208" y1="470.9" x2="209.2" y2="470.9" class="tk"/>
<text x="207" y="471.8" class="yl">0.4</text>
<line x1="208" y1="439.4" x2="209.2" y2="439.4" class="tk"/>
<text x="207" y="440.3" class="yl">0.6</text>
<line x1="208" y1="407.9" x2="209.2" y2="407.9" class="tk"/>
<text x="207" y="408.8" class="yl">0.8</text>
<line x1="208" y1="376.4" x2="209.2" y2="376.4" class="tk"/>
<text x="207" y="377.3" class="yl">1.0</text>
<text transform="translate(290.8 546) scale(1 1.12)" class="ax">Observed Values</text>
<text transform="translate(200.6 456) rotate(-90)" class="ay">Predictions</text>
<path d="M350.6 411.2 346.8 407.5 341.8 406.5 338.8 407.7 336.1 408 334.6 409 331.1 408.7 326.1 410.7 320.8 410.7 314.6 413.5 312.3 415.5 306.8 418.2 303.1 422.2 298.6 425 294.6 426.5 291.6 429.2 289.6 430 285.3 434.2 278.6 437 276.3 439.7 266.6 447.2 265.1 449.7 261.8 452 259.3 455.2 253.8 458.7 252.3 462.2 248.3 467.7 247.6 471.5 244.1 474.7 244.1 476.5 242.6 479 242.8 484.2 244.6 486.5 244.6 487.5 242.1 488 242.3 490.5 244.3 490.7 247.3 492.2 249.6 495 252.6 496 258.3 495.7 259.6 495 263.1 495.2 266.8 494.2 269.3 492.7 276.3 493 278.6 490 281.3 489.2 282.8 487.2 285.1 487 287.6 483.7 291.1 482.5 293.6 479.7 296.1 478.5 297.3 477 299.3 476.5 301.6 473.7 307.6 471.2 309.1 469.5 313.8 467 318.6 463.5 324.6 457 327.3 456.2 328.8 454 333.3 450.2 342.1 439.2 342.8 437.2 346.6 432.2 347.3 429.5 348.8 428 351.3 422 352.3 414.5Z" fill="#dc143c"/>
<path d="M343.8 432.1h0M279.5 487.9h0M291.4 485.2h0M276.8 490.3h0M332.9 461.1h0M321.8 460.6h0M244.8 498.7h0M300.7 423.9h0M326.6 403.1h0M231.8 490.4h0M321.3 407.6h0M259 495.5h0M260.9 504.3h0M307.6 468.5h0M274.3 440.6h0M343.4 439.3h0M268.5 444.2h0M274 500h0M260.8 450.4h0M303.4 475.9h0M355.2 420.2h0M270.5 447.1h0M242.7 484h0M304.5 471.7h0M341 437.3h0M251.5 496.4h0M295.9 476.6h0M248.2 467.3h0M341.6 435.8h0M313.5 413.8h0M246.1 469.7h0M234 472.1h0M228.4 499.9h0M230.8 485.8h0M303.5 423.4h0M263 496.2h0M237.6 511h0M296 475.6h0M329.3 451.3h0M348.1 424h0M351.5 414h0M339.2 446.5h0M318.1 396.5h0M238.7 469.3h0M310 485.9h0M258.2 495.6h0M314 479.2h0M280.7 433.5h0M280.4 487.6h0M349.7 419.9h0M279.1 433.6h0M351.7 417.2h0M231.1 497.8h0M272.1 494.6h0M298 420.1h0M338.9 445.1h0M319.1 464.1h0M284.5 488.8h0M279.7 434.8h0M342.7 405.9h0M351.8 418.5h0M272.9 445.1h0M353.5 418.1h0M262.8 449.6h0M280.7 433.9h0M279.4 492.8h0M239.3 513.7h0M304.2 421.2h0M263.8 451.2h0M341.2 401.2h0M288.4 481.7h0M290.5 492.1h0M247.4 489.8h0M284.7 436.4h0M263 447.7h0M322.8 455.7h0M300.9 477.2h0M249.3 443.1h0M244 484h0M326.3 412.7h0M321.9 482h0M308 419.5h0M235.9 474.9h0M231.3 491.3h0M279.5 439h0M242.7 475.8h0M237.5 507.2h0M309.8 484.1h0M303.3 470.9h0M245 498.6h0M332 409.8h0M323.7 459.9h0M318.6 476.2h0M350.2 413.3h0M269.6 496.3h0M283.6 500.7h0M346.4 428.7h0M345.2 433.7h0M317.7 471.4h0M282.4 434.7h0M244.1 467h0M323.9 480.1h0M274.3 439.4h0M332.9 476.1h0M309.6 416.4h0M262.9 498.1h0M296.9 474.9h0M270.5 439.7h0M318.1 414.3h0M244.8 494.4h0M342.2 436.5h0M350.8 416.5h0M238.2 527.5h0M328.5 466.9h0M335.4 444.1h0M340.9 400.3h0M253.7 456.1h0M317.2 486.9h0M279.3 488.1h0M348.4 427.3h0M275.8 440.3h0M249.4 466.7h0M305.2 475.9h0M289.9 482.3h0M242.2 481.5h0M245.4 456.4h0M285.9 488.4h0M283.4 433.1h0M293.3 430.4h0M256.6 458.8h0M358.4 402.6h0M327.2 407.4h0M312.5 472.4h0M295.5 484.7h0M350.3 417.4h0M228.6 479.5h0M235.4 486.3h0M357.4 405.3h0M249.8 467.4h0M320.3 411.9h0M336.8 456.2h0M280.8 490.4h0M238.3 508.3h0M345 408.7h0M300.4 426.2h0M337.5 443h0M333.6 463.2h0M301 474.9h0M259.4 496.7h0M242.4 497.8h0M265.5 493.8h0M235 468.1h0M293 481.3h0M306.3 469.6h0M241.8 487h0M259 457h0M325.6 406.2h0M353.7 412.8h0M330.5 409.9h0M247.5 474.2h0M279.7 438.1h0M249.2 498.9h0M278.8 436.8h0M266 511.1h0M253.7 447h0M243.2 485.5h0M313.3 469.7h0M277.7 437.3h0M231.4 477.8h0M333.9 445.6h0M339.3 440.2h0M319 460.4h0M315.5 414.9h0M243.3 477.8h0M353.6 431.7h0M247.8 491.9h0M323.2 458.3h0M324.2 466.7h0M275.6 435.8h0M249.4 472.5h0M258.7 505.3h0M309.1 418h0M298.6 477.1h0M313.9 468.6h0M291 479.8h0M327.7 452.9h0M250.6 499.3h0M341.7 434.7h0M320.1 467.7h0M340.7 438h0M322.2 408.9h0M255.5 498.3h0M265.4 447.6h0M299.9 485.5h0M282.9 486h0M328 408.2h0M351.7 418.7h0M352.5 407.4h0M274.4 492.2h0M338.8 440.3h0M310.6 414.2h0M243.1 491.7h0M241.3 483.3h0M325.9 462.1h0M320.5 393.9h0M339.7 405.8h0M285.6 435.9h0M260.5 453.9h0M286.1 500.4h0M265.6 442h0M328.8 458.6h0M300.4 420.8h0M302.8 476.7h0M266 514.2h0M238.4 511.7h0M311.2 465.4h0M254.4 493.7h0M234.7 489.2h0M317 406.6h0M342.4 409h0M239.1 464.3h0M325.8 411h0M355 416.8h0M315.4 468.6h0M245.4 484h0M271.1 446.2h0M339.6 441.2h0M346.9 407.9h0M335.8 408.8h0M260.7 501.7h0M305.8 415.8h0M326.5 409.1h0M302.3 419.8h0M245.2 493.2h0M304.6 473.9h0M319.2 459.3h0M247 463h0M261.8 502.3h0M326.2 407.5h0M264.2 448.1h0M272 491.8h0M303 417.4h0M288.6 482.1h0M247.1 474.7h0M293.8 485.1h0M302.1 423.5h0M254.5 501h0M288.3 486.9h0M247.1 452.5h0M318 480.4h0M280.2 487.6h0M340 441.4h0M288.5 486h0M309.3 409.6h0M325.4 409.3h0M308.1 474.4h0M270.7 443.4h0M339.6 402.6h0M300 489h0M348.7 432.8h0M348.4 406h0M339 399.3h0M259.8 455.3h0M234.4 507.6h0M309.2 476.6h0M350.4 415h0M244 474.1h0M252.9 495h0M301.6 417h0M248.7 501h0M303.3 418.4h0M293.8 495.7h0M297.4 482h0M240.7 489.7h0M304.2 490.2h0M265.8 493.1h0M248.9 495.4h0M236 489h0M335.4 446h0M304.3 419.6h0M301 423.4h0M266.4 444.7h0M246.9 457.3h0M348 400h0M260.5 498.2h0M283.6 432h0M356.4 410.3h0M260.5 449.9h0M300 420h0M249.9 468.8h0M343.8 440.9h0M256.7 457.1h0M278.7 489.6h0M256.3 493.3h0M280.3 488.6h0M287.2 481.8h0M317.9 402.4h0M253.8 461.4h0M300.9 492.7h0M314.6 463.5h0M306 420.5h0M252.7 454.8h0M266.1 449.8h0M308.7 415.2h0M251.3 503.2h0M342.7 435.3h0M308.6 419.3h0M320.8 462.8h0M321.6 412h0M248.8 501.1h0M255.3 510.1h0M265.3 506.9h0M293.9 489.8h0M268 439.6h0M248.8 495.5h0M332.3 452.7h0M245 493.5h0M342.3 434.1h0M245.2 487h0M321.3 408.9h0M320.8 458h0M281 493.3h0M342.6 434.9h0M261.7 449.2h0M313.4 466.8h0M243.2 499.5h0M292 483.1h0M326.4 453.9h0M300.6 474.4h0M298 489.3h0M266.8 450.6h0M344.3 431.4h0M353.9 415.8h0M309.6 481.1h0M258.8 496.1h0M319.3 401.6h0M246.1 476h0M298 493.4h0M358.9 406h0M330.8 468.4h0M260.4 497.1h0M295.4 493.8h0M245.3 470h0M242 456.5h0M268.3 498.1h0M281.4 431.8h0M290.7 479.5h0M240.1 493.7h0M237.1 493.2h0M268.9 446.3h0M292.3 428.7h0M289.2 428.1h0M283.2 433.4h0M273.4 515.6h0M338.1 400.2h0M328.5 452.4h0M282.4 493.1h0M334.8 445.9h0M241.1 476.8h0M330.1 401h0M325.7 412.7h0M266.3 442.4h0M296.1 476.5h0M256.4 493.3h0M348.4 432.7h0M243.7 472h0M320.5 473.8h0M340.5 438.3h0M309.2 466.9h0M275.6 437.6h0M296.2 478.5h0M277 494.1h0M353.1 416.4h0M274.5 506.7h0M297.4 419.5h0M345.3 399.7h0M270.8 493.5h0M248 494.4h0M250.7 461.5h0M258.7 458.3h0M268.9 494.4h0M360.4 427.6h0M270.5 491.5h0M294.9 488.1h0M315.1 464.7h0M330.5 453.4h0M255.5 499h0M337.2 404.7h0M320.9 469.2h0M270.1 493.7h0M312.6 480.2h0M255.8 503.5h0M251.1 467.3h0M265.7 436.8h0M349.4 406.4h0M240.2 491.2h0M287.3 483.4h0M282.2 505.9h0M268.3 448h0M288.5 483h0M306.5 421.1h0M247.4 501.3h0M285.5 422.6h0M305.2 471.8h0M312.8 477h0M249.5 470.2h0M309.5 470.6h0M295.3 426.8h0M302.3 472.9h0M266.7 448.7h0M287.6 432.5h0M281.3 486h0M308.5 469h0M229.8 468.6h0M265.4 497h0M282.2 498.4h0M272.9 443.1h0M290.8 431.9h0M272.3 435h0M260.3 498.3h0M329.8 409.6h0M240.4 488.8h0M258.2 493.2h0M354.1 426.9h0M239.7 495.1h0M265 446.2h0M249 466.4h0M320.2 413.4h0M342.5 434.2h0M314.1 470.8h0M321.1 462.4h0M335.1 409h0M312.4 411.2h0M238 504.6h0M318.8 412.8h0M301.4 473.8h0M310.7 486.1h0M320.3 458.4h0M268.4 447.4h0M321 411.3h0M271.5 495.1h0M243.1 493.8h0M336.4 410h0M276.7 491.2h0M249.2 457.6h0M255.7 496.2h0M338.4 440h0M313.4 466.5h0M233 482.3h0M241.1 467.5h0M276.4 493.6h0M337.2 443.3h0M248.9 470h0M299.9 478.6h0M337.5 442.6h0M269.1 443.9h0M319.4 412.6h0M349.9 427.8h0M326.7 411h0M344.4 409.2h0M343.1 437.7h0M255.6 440.5h0M239.6 476.2h0M317.4 464h0M305.4 469.9h0M267.2 446h0M238.5 464.4h0M336.7 448.5h0M319.6 460h0M343.1 399h0M305.2 420.8h0M272.1 444.1h0M351.2 425.8h0M316.2 468.3h0M309.8 470.7h0M232.4 485.8h0M355.7 412.6h0M251.8 460.1h0M347.8 424.5h0M357 418h0M350.3 424.6h0M271.5 442.3h0M238.6 493h0M303.6 423.2h0M270.8 435.7h0M245.1 493.9h0M348.9 422.1h0M246.5 470.5h0M262.3 454.4h0M343 446.7h0M250.7 457.2h0M249 500.2h0M252.4 493.4h0M271.3 493.5h0M278.6 493.4h0M252.5 456.8h0M243.1 473.6h0M325.1 410.7h0M240.5 475.4h0M283.5 426.5h0M268.6 491.5h0M311.2 415.4h0M284 432.1h0M350.5 410.3h0M264.1 445.9h0M254.8 503.4h0M239.6 476.3h0M269.5 493.2h0M311.9 466.5h0M327.9 400.4h0M319 466.2h0M346.3 429.3h0M264.7 450h0M321.2 482.2h0M247.7 468.9h0M322.1 459.4h0M324.5 465.2h0M277.2 506.7h0M314.8 405.3h0M319.5 464.1h0M288 431.8h0M319.2 411.3h0M342.2 436.6h0M344.4 436.7h0M273.5 503.8h0M256 503h0M344.5 435.9h0M291.6 487h0M329.5 407.5h0M258.7 503.8h0M241.9 476.1h0M275.2 436.4h0M323.2 456.3h0M278.7 489h0M271.2 437.1h0M238.1 490.1h0M272.5 445.6h0M313.9 412h0M346.3 409.3h0M280 437.5h0M349 404.1h0M240.7 513.8h0M289.5 484.5h0M324.2 412.8h0M313.1 415.2h0M352.7 417.8h0M309.1 485h0M309.8 469.3h0M283.7 433.1h0M320 411.2h0M238.4 486.2h0M301.4 415.7h0M290.4 495.4h0M349.3 430.8h0M340.5 405.5h0M235.3 490.3h0M348 427.5h0M237.7 478h0M305.3 470h0M338.5 405.4h0M352.6 412h0M245.7 449.9h0M272.2 496.6h0M276.7 491.4h0M251.6 454.2h0M241.4 463.1h0M328.8 452.3h0M244.9 498.4h0M306.4 472.5h0M279.3 436.5h0M262.9 436.5h0M280.8 491.4h0M239.9 472.8h0M291.7 427h0M293.4 429.2h0M354.7 426.9h0M236.2 487.1h0M311.3 467h0M358.9 403.1h0M244.7 492.6h0M319.4 478h0M294.7 478.7h0M284.1 485.6h0M350 422.1h0M302.2 471.8h0M263.8 495.9h0M305.7 418.8h0M253.3 496.5h0M304.6 474.6h0M345.7 443.9h0M241.1 500.9h0M256.1 454.6h0M335.1 409.9h0M315.8 411.1h0M240.6 482.9h0M261.8 452.7h0M278.9 435.6h0M257.2 494h0M303.8 483.6h0M251.7 467h0M273.1 498.8h0M344.7 406.4h0M241.7 463.6h0M279.1 430.3h0M289.1 433.7h0M248.5 467.2h0M299.1 487.8h0M258.7 494.1h0M251.6 505.5h0M344.9 400.5h0M238.8 477.4h0M233 483.5h0M257.8 509.9h0M242.9 472.6h0M274.5 498.3h0M352.1 420h0M252.8 494.2h0M227.2 495.3h0M273.3 442.8h0M275.5 491.5h0M317.7 462.4h0M288.8 488.1h0M282.5 490.3h0M245.9 471.4h0M288.2 480.9h0M279.1 493.5h0M246.5 465.4h0M301.3 423.5h0M235.7 490.4h0M249.3 467.6h0M276 442.7h0M266 492.3h0M234.6 493.6h0M296.3 483.3h0M348.3 409.7h0M250.6 465.3h0M262.3 495.9h0M316.9 465h0M259.7 454.7h0M318.9 408.6h0M343.8 404.3h0M356.9 412.3h0M306.9 416.5h0M298.2 476.4h0M282.4 491.1h0M312.5 475.7h0M332.2 447.9h0M285.4 432.3h0M317.3 414.2h0M241.4 511.2h0M261.7 452.8h0M274.2 430.5h0M320.3 459.3h0M344.7 401.3h0M318.6 410.5h0M274.5 497.7h0M326.3 454h0M264 448.6h0M293.2 489.9h0M282.6 489.9h0M240.8 485.1h0M332.3 409.6h0M298.7 420.1h0M249.4 452.1h0M340.6 437.8h0M297.4 477.2h0M348.9 407h0M282.2 434.9h0M254.3 510.3h0M315.1 410.9h0M265.6 513.5h0M250.7 504.2h0M272.7 492.2h0M347.9 438.8h0M260.3 439.1h0M289.2 432.2h0M307.2 420.3h0M331.7 407.6h0M283 490.1h0M265.6 450.3h0M300.1 412.5h0M304.5 412.8h0M283.4 428h0M256 457.2h0M335 443.9h0M341.3 441.9h0M237.5 452.5h0M263.4 439.9h0M290.1 490h0M263.2 497h0M345.2 431h0M339.1 399.5h0M306.8 471.2h0M310.9 467h0M336.1 447h0M341.2 441.9h0M288.5 491.1h0M286 436.3h0M230.8 479.3h0M315.9 414.8h0M318.6 411h0M350.3 408.1h0M261.2 450.7h0M327.5 452.2h0M296.4 477h0M262.1 453.8h0M298.7 425.4h0M257.3 499.8h0M291 430.7h0M237.7 492.8h0M358.5 409.3h0M233.6 478.3h0M257.1 452.2h0M342.2 437.1h0M258.6 448.9h0M242.9 472.9h0M336.2 444.8h0M250.3 457.9h0M357 433.2h0M311 473.5h0M349.2 412h0M283.2 493.7h0M320.6 461.8h0M245 503.4h0M237.7 513.9h0M341.9 448.9h0M325.4 455.6h0M322.7 457.2h0M336.8 442.3h0M272.1 501.6h0M301.9 475.7h0M323.6 470.5h0M244.1 493.2h0M288.6 490.3h0M270.9 491.9h0M284.2 423.6h0M320.5 407.2h0M338.6 396h0M346.4 443.8h0M287.8 429.8h0M272.1 440.3h0M355 413.4h0M305.1 422.9h0M240 491.6h0M265.5 439.2h0M288.5 486.6h0M312.7 483.7h0M346.7 434.5h0M252.7 461h0M352.1 405.2h0M273.8 493.8h0M271.6 446h0M307.7 419.7h0M337.4 406.2h0M269.2 492.3h0M314.7 465.3h0M284.5 436.5h0M319.3 463.2h0M268.9 442.8h0M327.7 408.5h0M330.2 405.3h0M246.2 503.6h0M246.2 488.5h0M321.9 407.4h0M324.9 468.3h0M282.6 434.3h0M281.8 516h0M271.3 435h0M350.2 422.8h0M281.7 488.9h0M320.5 411.3h0M317.9 460.7h0M249.1 498.4h0M231.3 500.3h0M281.7 490.2h0M319.7 414h0M351.7 413.4h0M263.9 448.5h0M298.7 414.2h0M250.6 498.4h0M252.6 465.5h0M347.4 427.2h0M322.2 409.1h0M309.5 466.8h0M265.8 449.2h0M262.7 501.9h0M282.4 489.6h0M238.3 500.7h0M331.3 411h0M247.2 460.1h0M285.1 486h0M236.4 474h0M349.7 426.5h0M334.6 453.1h0M279.7 488.2h0M331.9 411h0M353.7 403h0M275.1 506.3h0M355 408.5h0M250.4 522.2h0M253.3 495.1h0M313.9 473.2h0M252.4 451.3h0M278.4 439.2h0M324.5 462.8h0M270.5 495.7h0M324.9 455h0M271.1 492.1h0M304.4 414.2h0M244.8 483h0M285.2 429.7h0M317.8 409.4h0M342.7 462.6h0M283.3 432.4h0M263 492.9h0M339.1 440.2h0M289.1 433.5h0M314.1 414.4h0M347.5 436.7h0M274.2 443.2h0M343.9 408.1h0M303.4 471.9h0M306.7 470.8h0M337.7 445.5h0M242.6 491.1h0M272.1 443.7h0M315.9 469.3h0M342.1 436.1h0M262.4 497.8h0M329.8 474.7h0M288 481.5h0M300.1 474.8h0M286 487.2h0M269.2 442.2h0M300.6 472.8h0M303.6 501.4h0M298.2 425.7h0M289.7 480.8h0M321.8 457.1h0M329.9 411.3h0M287.7 430.7h0M307.7 477.7h0M338.2 443h0M334.1 447h0M325.7 455.2h0M265.2 450.5h0M353.5 416.7h0M294.9 480.8h0M290.1 484.6h0M261.3 452.2h0M283.3 436.6h0M300.1 472.9h0M313.1 472.2h0M357.4 420.4h0M304.5 423.6h0M336.2 410h0M293.6 479.4h0M308.1 483.1h0M291.5 427.6h0M341.6 443.3h0M274.1 492.3h0M254.2 494.3h0M325.7 412.1h0M260.6 500.5h0M314.9 470.9h0M265.8 448.8h0M247.1 493.5h0M261.9 450h0M314.2 402h0M306.4 422.3h0M309.2 471.7h0M243.8 488h0M268.6 494.6h0M339 461h0M348.2 403.5h0M300.9 471.8h0M257.9 456h0M268.5 441.5h0M236.7 481.5h0M267.9 449.3h0M248.9 473.2h0M331.1 463.3h0M347.8 404.5h0M291.1 481h0M338.7 440.4h0M346.7 426.7h0M357.8 421.2h0M329.8 459.5h0M268.6 439.7h0M293.9 428.2h0M297.1 477.3h0M347.8 424.4h0M313.1 417.6h0M263 499.4h0M279.1 490.6h0M276.2 433.1h0M322.6 406.4h0M251.1 444.4h0M283.2 431.3h0M293.5 479.6h0M316.7 409.4h0M235.7 502h0M329.7 461.2h0M337.6 440.7h0M324.9 457.8h0M286.4 435.5h0M297 493.8h0M322.7 462.7h0M251 465.7h0M347.8 439.2h0M351 421.3h0M303.8 470.7h0M240.9 482.9h0M310.6 478.5h0M346 403.2h0M355.2 416.6h0M306.1 470.2h0M339.5 444.6h0M307.1 471h0M340.4 409.1h0M306.2 472.5h0M358.2 425.1h0M278.9 489.8h0M302.5 497.1h0M300.9 473h0M308.2 416.2h0M287.4 435.1h0M292.3 480.4h0M298.5 481.4h0M240.8 474.4h0M356.3 412h0M349 435.2h0M350.4 405.6h0M249.4 456.3h0M295.1 424.1h0M324.5 456.2h0M247.4 467.7h0M248.9 467.6h0M244 469.9h0M277.4 439.8h0M285.5 431.3h0M245.7 459.9h0M312.9 412.8h0M263.8 450.6h0M352.5 426.1h0M314.9 413.1h0M288.6 494.4h0M273.4 443.8h0M238.7 490h0M321.4 500.2h0M299.6 474.7h0M264.6 505.7h0M349.3 412.2h0M310.1 413.4h0M350.3 432.4h0M345.2 440.8h0M299 496.3h0M265.1 514.6h0M252.8 504.2h0M320.7 458.7h0M320 410.1h0M269.8 494.3h0M337.2 451.2h0M334.3 448.2h0M288.1 434.1h0M319.4 477.3h0M339.8 439.3h0M298.4 480.7h0M243.5 480.9h0M306.2 493.4h0M271.2 491.5h0M348.5 424.7h0M300.1 424h0M269.5 491.3h0M312.6 467h0M346.7 429.3h0M236 494.4h0M239.1 497.5h0M247.2 497.3h0M342.3 435.9h0M308.8 412.9h0M253.7 454.4h0M269 495h0M302.9 411h0M354.9 410.2h0M251.9 464.2h0M352.9 412.7h0M308.8 415.6h0M335.5 451.6h0M284.7 483.7h0M243 496.6h0M256.8 455.5h0M246.6 492.1h0M316.1 464.2h0M314.2 412.8h0M342.1 439.6h0M244 486.9h0M308.6 477.1h0M333.6 449h0M334.1 445.6h0M348.7 428.1h0M293.4 479h0M347.3 425.7h0M320.7 413.4h0M292 422.6h0M258.7 457h0M347.6 424.8h0M238.2 506.5h0M344.5 444.4h0M242.1 498.9h0M253 494.3h0M306.7 421.7h0M301.4 422.8h0M305.5 419.6h0M233.2 439.9h0M251.5 467.2h0M296.6 484h0M341.6 436.5h0M265.7 492.5h0M272.2 492.4h0M323.5 462.3h0M265.2 498h0M270.3 443.5h0M326.9 409.1h0M321.3 412.6h0M291.6 428h0M346.1 429.4h0M340 446.6h0M336.6 443.4h0M245 498.4h0M312.3 469.8h0M336.8 447.8h0M324.8 411.4h0M302.3 477.5h0M270.3 437.1h0M330.6 407.7h0M289.5 485.4h0M277.8 512.3h0M256.4 458.8h0M264.2 450.6h0M297.4 478.6h0M305.2 420.8h0M361.6 421.7h0M300.8 481.7h0M321.5 408.4h0M289.4 490.4h0M282.4 488.7h0M268.8 448.4h0M305.5 419h0M242.6 491.4h0M308.8 486.1h0M240 475.9h0M325.6 408.9h0M285.4 435.6h0M297.8 424.4h0M317.3 476.7h0M293.9 424.6h0M307.4 485.2h0M322.9 459.8h0M348.5 409.9h0M255.1 449.9h0M265.1 493.3h0M304.2 408.8h0M349.9 425.5h0M244.1 475.4h0M279.1 436.9h0M250 503.4h0M277.3 513.7h0M248.1 501.6h0M238.4 476.5h0M333.1 409.6h0M348.5 425.5h0M299.6 474.3h0M268.8 446.5h0M246.2 487.2h0M328.3 409.1h0M257.1 457.4h0M254.3 498.8h0M317.7 490.8h0M313.9 470.5h0M301.6 416.9h0M350 391.3h0M241 477.5h0M230.6 482.2h0M298.2 426.1h0M319.7 412.5h0M293.7 478.1h0M276.8 440.7h0M250.7 446.3h0M300.2 417.2h0M348.3 423.7h0M337 403.2h0M255.2 496.3h0M320.9 458.8h0M284.6 506.4h0M245.3 473.7h0M266.9 491.4h0M313.8 502.9h0M302.4 420.1h0M264.7 493.1h0M312.5 466.3h0M309.9 469.4h0M247.2 491.3h0M348 427.7h0M315.6 414.7h0M290.7 485.3h0M287.5 487.7h0M263 448.1h0M239.8 459.1h0M235.1 483.1h0M311.9 416.6h0M257.2 444.4h0M231.9 494.7h0M331.6 410.3h0M299.2 426.3h0M267.9 448.2h0M344.2 408.1h0M356.7 418.2h0M338.2 449.7h0M247.3 494.9h0M312.9 470.5h0M248.1 495.5h0M248 473.3h0M349.2 422.6h0M272.3 490.7h0M240.8 483.7h0M275.9 495.1h0M312.1 468.3h0M276.1 506.7h0M284.6 512.6h0M354.5 425.1h0M319.4 462.1h0M297.1 476.6h0M248.5 469.8h0M326.2 475.4h0M255 493.6h0M233.8 495.3h0M274.2 511.3h0M241.5 475.8h0M246 468h0M320.8 466h0M349.2 409.4h0M332.8 410.3h0M323.3 462.4h0M359.5 403.8h0M325.7 464.4h0M269.7 495.3h0M234.7 473.7h0M310.7 468.7h0M282.2 486h0M300.3 419.1h0M344.1 431.8h0M259.6 496.4h0M329.8 457.2h0M302.6 472.9h0M285.6 504.8h0M325.8 459.1h0M334.8 446.6h0M348.8 425.8h0M332.2 409.6h0M279.7 489.9h0M334.5 444.4h0M290.1 428.8h0M288.3 484.4h0M229.4 492.9h0M359 429.3h0M262.5 494.1h0M245.7 471.8h0M313.2 474.9h0M324.5 456.6h0M241.3 479.8h0M273.7 443.2h0M253.9 463.8h0M323.8 411.9h0M243.5 509.1h0M329.6 455.5h0M344.1 433.1h0M248.3 504.9h0M243 481.6h0M354 408.4h0M302 422.4h0M337.7 406.6h0M261 447.1h0M266.4 449.5h0M284 431.4h0M241 480.4h0M303.2 422.7h0M242.4 475.2h0M297.8 421.9h0M324.2 462.6h0M334.7 411h0M347.5 430.5h0M246.7 468.5h0M340.6 409.3h0M234.7 491.3h0M291.7 486.7h0M298 476.1h0M272 510.7h0M253.5 495.5h0M241.8 485.7h0M249.1 457.4h0M313.1 468.5h0M285.4 429.8h0M331.2 406.1h0M244.1 461.8h0M248 497.9h0M272.5 440.5h0M339.6 402.5h0M292.1 428.2h0M308.2 404.9h0M259.5 499.2h0M227.7 490.7h0M287.5 499.5h0M243.6 485.4h0M339.2 406.8h0M257.1 498.6h0M326.8 411h0M282.7 485.7h0M316.5 463.1h0M342.8 434.9h0M269.3 448.3h0M288.9 430.3h0M243.3 505.4h0M335 447.5h0M264.8 452h0M304.1 423.9h0M241.9 483.8h0M299.9 418.3h0M276.4 493.7h0M316.7 411.1h0M293.8 490.3h0M309.8 468.8h0M248.7 503.1h0M358.9 408.4h0M260.8 455.4h0M266.2 502.2h0M292.6 522.3h0M340.1 404.8h0M254.6 509.6h0M248.1 455.8h0M277 442h0M249.6 463.5h0M333.2 451.1h0M235.4 491.9h0M323.4 411h0M267.5 449.6h0M293.8 483.9h0M280.2 489.1h0M246.2 464.2h0M323.6 472.6h0M244 503.1h0M229.3 499.9h0M285.8 501.8h0M346.1 429.4h0M245 501.4h0M289.3 486.8h0M350 409h0M244.4 495.4h0M337.7 441.5h0M303.6 420.6h0M293.9 478.1h0M289.2 482.8h0M288.3 489h0M345.3 445h0M339.6 438.8h0M312.3 411.7h0M321.5 409.4h0M334.3 462.4h0M239.3 483.1h0M257.8 499.2h0M241 474.5h0M304 474.3h0M305.5 476.6h0M280.4 486.6h0M294 428.3h0M242.8 484.5h0M286.9 482.3h0M275.6 443.2h0M234 505.7h0M341 438.7h0M315.2 415.3h0M235.5 461.4h0M262.5 496.5h0M300.4 472.9h0M264.1 499.6h0M347.2 433.7h0M313.7 480.2h0M245.2 496.3h0M245.7 470.7h0M256.6 453.6h0M271.4 442.2h0M291.3 428.9h0M250.7 499.1h0M313.9 415.9h0M337.9 408.5h0M278.8 437.7h0M255.6 453.2h0M296.4 428h0M342.2 437.6h0M329.7 407.7h0M277.2 496.9h0M314.7 466.7h0M348 428.6h0M286.4 434.8h0M259.6 511.3h0M267.2 517.2h0M238 498.4h0M273.3 490.4h0M296.4 474.9h0M276.9 440.1h0M335.2 449h0M298.9 473.6h0M270 491.8h0M349.2 410.8h0M344.3 438.3h0M262.6 448h0M352.3 415.9h0M265 492.8h0M268.4 448.2h0M333.7 411.3h0M254.1 494.9h0M316.3 471.9h0M315.4 470.4h0M325.8 455.6h0M242.2 466.6h0M261.6 454.5h0M342.4 440h0M241.7 487.3h0M281.3 486.6h0M279.6 438.9h0M277.3 438.3h0M338.4 444.9h0M254.6 455h0M300 474h0M284.2 429.1h0M285 488.4h0M297.1 494.8h0M262.1 451.1h0M349.1 428.9h0M289 431.8h0M248.3 472.1h0M321.6 470.3h0M315.9 414.4h0M263.1 453.5h0M281.8 492.8h0M342.1 405.3h0M328.5 454.9h0M341.4 442.6h0M349.2 422.7h0M291.5 431.2h0M314.1 472.6h0M337.5 459.6h0M292.2 493.1h0M323.9 412.8h0M302.8 477h0M238.3 487.5h0M322.5 409.8h0M264.3 496.6h0M233.5 485.6h0M345.1 434.3h0M325.2 411.2h0M348.7 427.2h0M335.5 447.4h0M257.9 494.2h0M251.9 455.4h0M242 477h0M274 444.3h0M351 416.5h0M314.1 470.3h0M237.9 472.7h0M324 411.3h0M279.9 497h0M298.3 474.7h0M253.5 456.6h0M250.2 457h0M320.3 462h0M270.7 446.7h0M319.4 460.3h0M276.2 496.6h0M284.4 426.9h0M251.1 457h0M260.6 452.3h0M312.5 470.8h0M270.9 444.4h0M292.7 489.8h0M336.5 449.2h0M279.7 490.2h0M240.4 487.2h0M245.5 495.4h0M359.5 401h0M284.5 485.5h0M336.8 443.1h0M327.8 455.4h0M239.9 484.4h0M292.5 481.4h0M302.6 473.1h0M286 430.5h0M270.2 446.7h0M297 420.8h0M293 489h0M337.8 441h0M280.8 529.8h0M274.4 444h0M345.3 396.3h0M349.7 428.8h0M350 421.2h0M264.4 493.7h0M271.7 496.9h0M346.1 436.1h0M329.6 481.3h0M266.5 509.8h0M270.8 436.7h0M307.3 501.6h0M271.2 439.2h0M265.2 492.1h0M254.8 497.4h0M297.8 424.9h0M246.2 491.7h0M231.7 483.1h0M288.8 433.9h0M325.7 408.7h0M345.2 441h0M287 431.9h0M251.1 453.1h0M289 433.8h0M346.3 429h0M244.6 483.1h0M307.7 498.5h0M338.8 409.5h0M341.4 400h0M340 438.8h0M243.8 492.8h0M254.5 493.8h0M271.8 436.8h0M236 488.1h0M335.2 456.3h0M319.5 414h0M313.9 471.4h0M280.5 436.8h0M249.5 493.3h0M229.6 468.7h0M309.9 468.7h0M245.8 489.9h0M313.5 416h0M251.3 466.2h0M310 480.4h0M238.8 495h0M270.1 442h0M236.3 484.3h0M271.2 494h0M342.8 408.8h0M241.6 520.5h0M287.5 490.9h0M346 430.2h0M280.9 494.3h0M334.6 445.9h0M286.9 489.2h0M296.4 477.9h0M305.3 422.4h0M268.7 446.3h0M302.9 423.3h0M235.8 455.6h0M260.7 454.6h0M254.8 447.1h0M304.5 423.7h0M271.7 496.5h0M341.1 448.5h0M338.9 443h0M318.9 470.8h0M251.7 461.6h0M289.2 490.6h0M335.1 444.5h0M252.8 460.2h0M249.8 457.7h0M244.1 487.4h0M341.6 440.9h0M287.4 484.8h0M334.1 448.3h0M276.3 509.4h0M311.2 468.3h0M278.8 489.4h0M352.2 402.3h0M321.6 480.6h0M273.3 490.9h0M287.8 435.2h0M274.1 490.4h0M248.5 494.9h0M355.9 402.5h0M266.5 443h0M305.4 478h0M270.9 444.1h0" stroke="#dc143c" stroke-width="2.50" stroke-linecap="round" fill="none"/>
<line x1="216.8" y1="529.3" x2="365.2" y2="380.9" stroke="#3a35d0" stroke-width="1.2"/>
<rect x="210.4" y="376.8" width="35" height="10.2" rx="0.8" fill="#fff" fill-opacity="0.8" stroke="#d8d8d8" stroke-width="0.5"/>
<line x1="212.2" y1="379.4" x2="218.6" y2="379.4" stroke="#3a35d0" stroke-width="0.9"/>
<circle cx="215.4" cy="383.8" r="0.9" fill="#c0102e"/>
<text x="219.8" y="380.4" class="lg">R-squared=1</text>
<text x="219.8" y="384.8" class="lg">R-squared=0.62</text>
<rect x="209.2" y="375.6" width="163.2" height="159.2" fill="none" stroke="#c8c8c8" stroke-width="1.5"/>
</svg></body></html>
